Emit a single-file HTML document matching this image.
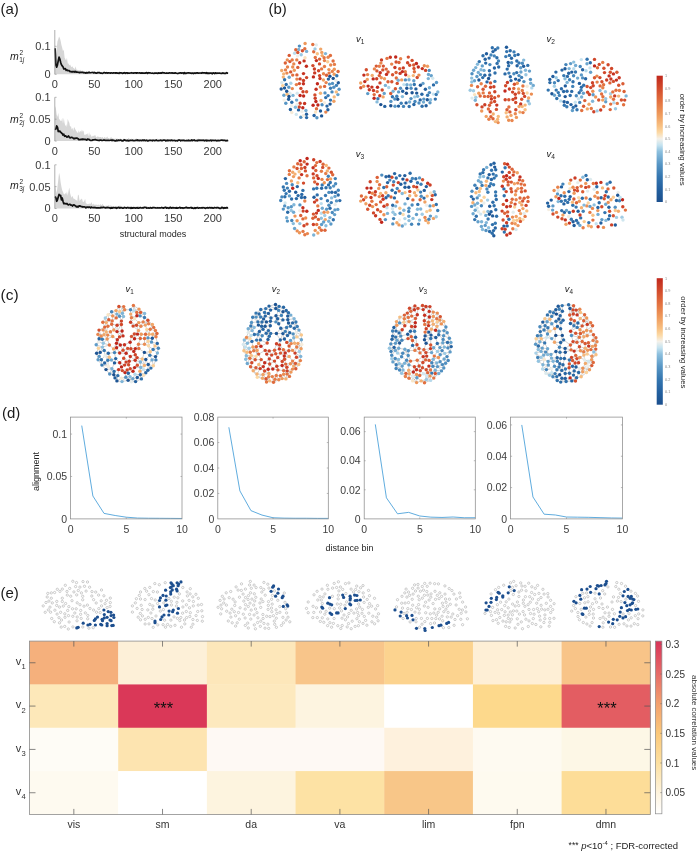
<!DOCTYPE html>
<html><head><meta charset="utf-8"><title>Figure</title>
<style>
html,body{margin:0;padding:0;background:#fff;}
body{width:700px;height:853px;overflow:hidden;}
svg{display:block;font-family:'Liberation Sans', Arial, Helvetica, sans-serif;}
</style></head>
<body>
<svg width="700" height="853" viewBox="0 0 700 853">
<rect width="700" height="853" fill="#fff"/>
<text x="0.5" y="14.0" font-size="15" text-anchor="start" fill="#1a1a1a" >(a)</text>
<text x="268.5" y="14.0" font-size="15" text-anchor="start" fill="#1a1a1a" >(b)</text>
<text x="0.5" y="300.0" font-size="15.5" text-anchor="start" fill="#1a1a1a" >(c)</text>
<text x="2.0" y="417.5" font-size="15" text-anchor="start" fill="#1a1a1a" >(d)</text>
<text x="0.5" y="597.5" font-size="15" text-anchor="start" fill="#1a1a1a" >(e)</text>
<polygon points="54.80,74.30 55.10,44.10 55.89,55.70 56.68,49.07 57.47,41.35 58.26,39.30 59.05,36.50 59.84,37.90 60.63,40.70 61.42,44.90 62.21,47.70 63.00,51.36 63.79,49.44 64.58,57.51 65.37,59.16 66.16,60.48 66.95,57.66 67.74,63.51 68.53,63.56 69.32,65.61 70.11,64.54 70.90,66.28 71.69,67.19 72.48,66.17 73.27,68.01 74.06,68.17 74.85,69.25 75.64,66.37 76.43,69.81 77.22,69.71 78.01,70.16 78.80,70.21 79.59,70.56 80.38,69.76 81.17,71.48 81.96,70.58 82.75,70.83 83.54,71.28 84.33,72.01 85.12,71.52 85.91,71.60 86.70,72.05 87.49,71.52 88.28,71.79 89.07,71.59 89.86,72.17 90.65,72.13 91.44,71.98 92.23,71.94 93.02,71.80 93.81,72.46 94.60,71.83 95.39,72.21 96.18,72.67 96.97,72.61 97.76,72.07 98.55,72.17 99.34,72.03 100.13,72.64 100.92,72.49 101.71,72.73 102.50,72.90 103.29,72.42 104.08,72.00 104.87,72.13 105.66,72.64 106.45,72.12 107.24,72.60 108.03,72.36 108.82,72.23 109.61,72.56 110.40,72.70 111.19,72.29 111.98,72.52 112.77,72.62 113.56,72.31 114.35,72.54 115.14,72.38 115.93,72.74 116.72,72.30 117.51,72.74 118.30,72.60 119.09,72.99 119.88,72.20 120.67,72.48 121.46,72.39 122.25,72.96 123.04,72.47 123.83,72.62 124.62,72.21 125.41,72.74 126.20,72.43 126.99,72.25 127.78,72.84 128.57,72.50 129.36,72.57 130.15,72.53 130.94,72.45 131.73,72.20 132.52,72.50 133.31,72.56 134.10,72.40 134.89,72.55 135.68,72.27 136.47,72.71 137.26,72.21 138.05,72.52 138.84,72.50 139.63,72.30 140.42,72.70 141.21,72.70 142.00,72.44 142.79,72.59 143.58,72.56 144.37,72.68 145.16,72.66 145.95,72.36 146.74,72.08 147.53,72.94 148.32,72.20 149.11,72.38 149.90,72.28 150.69,72.55 151.48,72.78 152.27,72.65 153.06,72.84 153.85,73.03 154.64,72.62 155.43,72.54 156.22,72.68 157.01,72.56 157.80,73.00 158.59,72.34 159.38,72.65 160.17,72.60 160.96,72.43 161.75,72.76 162.54,71.95 163.33,72.30 164.12,72.30 164.91,72.58 165.70,72.80 166.49,72.50 167.28,72.41 168.07,72.57 168.86,72.57 169.65,72.31 170.44,72.52 171.23,72.59 172.02,72.28 172.81,72.66 173.60,72.70 174.39,72.77 175.18,72.27 175.97,72.63 176.76,72.78 177.55,72.87 178.34,72.91 179.13,72.56 179.92,72.50 180.71,72.22 181.50,72.82 182.29,72.52 183.08,72.32 183.87,72.83 184.66,72.06 185.45,72.94 186.24,72.55 187.03,72.42 187.82,72.55 188.61,72.35 189.40,72.49 190.19,72.58 190.98,72.69 191.77,72.57 192.56,72.51 193.35,73.02 194.14,72.71 194.93,72.47 195.72,72.95 196.51,72.45 197.30,72.42 198.09,72.65 198.88,72.70 199.67,72.53 200.46,72.51 201.25,72.73 202.04,72.15 202.83,72.29 203.62,72.42 204.41,72.32 205.20,72.34 205.99,72.97 206.78,72.03 207.57,73.04 208.36,72.62 209.15,72.95 209.94,72.52 210.73,72.57 211.52,72.62 212.31,73.00 213.10,72.48 213.89,72.62 214.68,73.08 215.47,72.30 216.26,72.72 217.05,72.87 217.84,72.57 218.63,72.82 219.42,72.59 220.21,72.68 221.00,72.82 221.79,72.97 222.58,72.48 223.37,72.66 224.16,72.88 224.95,72.83 225.74,72.91 226.53,72.15 227.32,72.59 228.11,72.64 228.11,74.30" fill="#d6d6d6" stroke="none"/>
<polyline points="55.10,48.28 55.89,65.13 56.68,67.12 57.47,64.94 58.26,60.63 59.05,57.10 59.84,59.06 60.63,62.21 61.42,64.66 62.21,65.94 63.00,66.78 63.79,68.91 64.58,68.99 65.37,68.55 66.16,70.38 66.95,69.93 67.74,70.65 68.53,70.62 69.32,70.66 70.11,71.76 70.90,71.58 71.69,71.88 72.48,71.62 73.27,71.90 74.06,71.32 74.85,72.09 75.64,71.49 76.43,72.21 77.22,72.09 78.01,72.23 78.80,72.30 79.59,72.67 80.38,72.32 81.17,72.35 81.96,72.44 82.75,72.37 83.54,72.78 84.33,72.68 85.12,72.80 85.91,73.09 86.70,72.59 87.49,72.86 88.28,72.74 89.07,72.18 89.86,72.70 90.65,72.74 91.44,72.52 92.23,72.49 93.02,72.37 93.81,72.95 94.60,72.40 95.39,72.87 96.18,73.12 96.97,73.08 97.76,72.60 98.55,72.69 99.34,72.57 100.13,73.10 100.92,72.97 101.71,73.18 102.50,73.37 103.29,72.91 104.08,72.54 104.87,72.66 105.66,73.10 106.45,72.65 107.24,73.06 108.03,72.86 108.82,72.74 109.61,73.03 110.40,73.15 111.19,72.80 111.98,72.99 112.77,73.08 113.56,72.81 114.35,73.01 115.14,72.87 115.93,73.19 116.72,72.80 117.51,73.19 118.30,73.06 119.09,73.41 119.88,72.71 120.67,72.96 121.46,72.88 122.25,73.38 123.04,72.96 123.83,73.08 124.62,72.72 125.41,73.36 126.20,72.92 126.99,72.76 127.78,73.28 128.57,72.98 129.36,73.26 130.15,73.00 130.94,72.94 131.73,72.72 132.52,72.98 133.31,73.18 134.10,72.89 134.89,73.02 135.68,72.78 136.47,73.16 137.26,72.73 138.05,72.99 138.84,72.98 139.63,72.81 140.42,73.16 141.21,73.15 142.00,72.93 142.79,73.06 143.58,73.03 144.37,73.14 145.16,73.12 145.95,72.85 146.74,72.61 147.53,73.36 148.32,72.71 149.11,72.89 149.90,72.79 150.69,73.02 151.48,73.22 152.27,73.11 153.06,73.27 153.85,73.44 154.64,73.08 155.43,73.01 156.22,73.13 157.01,73.03 157.80,73.42 158.59,72.84 159.38,73.11 160.17,73.07 160.96,72.92 161.75,73.20 162.54,72.50 163.33,72.80 164.12,72.81 164.91,73.05 165.70,73.24 166.49,72.97 167.28,73.25 168.07,73.04 168.86,73.04 169.65,72.82 170.44,72.99 171.23,73.06 172.02,72.79 172.81,73.12 173.60,73.21 174.39,73.21 175.18,72.78 175.97,73.09 176.76,73.23 177.55,73.53 178.34,73.33 179.13,73.03 179.92,72.97 180.71,72.74 181.50,73.26 182.29,73.00 183.08,72.82 183.87,73.61 184.66,72.60 185.45,73.36 186.24,73.36 187.03,72.91 187.82,73.02 188.61,72.85 189.40,72.97 190.19,73.05 190.98,73.14 191.77,73.29 192.56,72.99 193.35,73.54 194.14,73.16 194.93,72.95 195.72,73.37 196.51,72.94 197.30,72.91 198.09,73.11 198.88,73.16 199.67,73.00 200.46,72.98 201.25,73.18 202.04,72.67 202.83,72.79 203.62,72.91 204.41,72.82 205.20,72.84 205.99,73.43 206.78,72.57 207.57,73.45 208.36,73.08 209.15,73.37 209.94,72.99 210.73,73.04 211.52,73.08 212.31,73.76 213.10,72.96 213.89,73.08 214.68,73.58 215.47,72.81 216.26,73.17 217.05,73.30 217.84,73.04 218.63,73.26 219.42,73.05 220.21,73.22 221.00,73.34 221.79,73.39 222.58,72.96 223.37,73.12 224.16,73.31 224.95,73.27 225.74,73.33 226.53,72.67 227.32,73.06 228.11,73.10" fill="none" stroke="#111" stroke-width="1.7" stroke-linejoin="round"/>
<line x1="54.80" y1="30.00" x2="54.80" y2="74.30" stroke="#8c8c8c" stroke-width="0.7" />
<line x1="54.80" y1="74.30" x2="56.60" y2="74.30" stroke="#8c8c8c" stroke-width="0.6" />
<text x="50.6" y="78.1" font-size="11" text-anchor="end" fill="#383838" >0</text>
<line x1="54.80" y1="46.30" x2="56.60" y2="46.30" stroke="#8c8c8c" stroke-width="0.6" />
<text x="50.6" y="50.1" font-size="11" text-anchor="end" fill="#383838" >0.1</text>
<text x="54.8" y="88.1" font-size="11" text-anchor="middle" fill="#383838" >0</text>
<text x="94.3" y="88.1" font-size="11" text-anchor="middle" fill="#383838" >50</text>
<text x="133.8" y="88.1" font-size="11" text-anchor="middle" fill="#383838" >100</text>
<text x="173.3" y="88.1" font-size="11" text-anchor="middle" fill="#383838" >150</text>
<text x="212.8" y="88.1" font-size="11" text-anchor="middle" fill="#383838" >200</text>
<text x="10" y="59.6" font-size="10.5" font-style="italic" fill="#262626">m</text>
<text x="19.5" y="55.1" font-size="6.5" fill="#262626">2</text>
<text x="19.2" y="62.1" font-size="6.5" fill="#262626">1<tspan font-style="italic">j</tspan></text>
<polygon points="54.80,141.10 55.10,106.06 55.89,108.25 56.68,114.82 57.47,117.01 58.26,112.63 59.05,119.20 59.84,119.51 60.63,121.02 61.42,121.08 62.21,117.71 63.00,123.86 63.79,117.84 64.58,122.99 65.37,126.17 66.16,124.33 66.95,127.30 67.74,118.79 68.53,121.34 69.32,122.70 70.11,126.89 70.90,125.72 71.69,129.53 72.48,127.85 73.27,131.12 74.06,127.01 74.85,128.19 75.64,130.05 76.43,131.21 77.22,132.15 78.01,133.15 78.80,130.21 79.59,132.86 80.38,130.79 81.17,132.08 81.96,129.56 82.75,131.69 83.54,130.58 84.33,134.87 85.12,135.09 85.91,134.20 86.70,134.30 87.49,133.37 88.28,136.17 89.07,132.11 89.86,135.94 90.65,133.96 91.44,136.65 92.23,136.44 93.02,135.51 93.81,136.30 94.60,135.16 95.39,135.30 96.18,137.41 96.97,136.76 97.76,136.58 98.55,136.66 99.34,137.22 100.13,137.06 100.92,136.89 101.71,137.65 102.50,136.71 103.29,138.20 104.08,137.62 104.87,137.00 105.66,138.07 106.45,137.51 107.24,136.42 108.03,138.00 108.82,138.08 109.61,138.68 110.40,137.86 111.19,137.05 111.98,138.27 112.77,138.16 113.56,138.76 114.35,138.65 115.14,138.94 115.93,138.30 116.72,139.09 117.51,138.47 118.30,139.08 119.09,139.02 119.88,138.71 120.67,138.45 121.46,139.17 122.25,139.15 123.04,138.97 123.83,138.59 124.62,138.81 125.41,139.17 126.20,138.63 126.99,139.16 127.78,139.11 128.57,137.86 129.36,138.75 130.15,139.28 130.94,139.04 131.73,138.56 132.52,139.48 133.31,138.81 134.10,138.93 134.89,139.45 135.68,138.64 136.47,138.48 137.26,139.02 138.05,138.95 138.84,139.31 139.63,139.58 140.42,139.46 141.21,138.79 142.00,139.36 142.79,139.42 143.58,139.61 144.37,139.39 145.16,139.55 145.95,139.07 146.74,139.25 147.53,139.56 148.32,139.16 149.11,139.54 149.90,139.39 150.69,139.28 151.48,139.26 152.27,139.34 153.06,139.26 153.85,139.51 154.64,139.24 155.43,139.35 156.22,139.30 157.01,139.45 157.80,138.38 158.59,139.61 159.38,139.49 160.17,139.26 160.96,139.21 161.75,139.57 162.54,138.84 163.33,138.98 164.12,139.04 164.91,139.42 165.70,139.62 166.49,139.50 167.28,139.16 168.07,139.59 168.86,138.96 169.65,139.60 170.44,139.68 171.23,139.47 172.02,138.98 172.81,139.29 173.60,139.62 174.39,139.15 175.18,139.64 175.97,139.37 176.76,139.65 177.55,139.30 178.34,139.61 179.13,139.08 179.92,139.55 180.71,139.68 181.50,139.18 182.29,139.22 183.08,139.70 183.87,139.22 184.66,139.40 185.45,139.41 186.24,139.09 187.03,139.37 187.82,139.32 188.61,139.62 189.40,139.56 190.19,139.77 190.98,139.03 191.77,139.25 192.56,139.66 193.35,139.63 194.14,139.36 194.93,139.50 195.72,139.26 196.51,139.65 197.30,139.52 198.09,138.55 198.88,139.11 199.67,139.46 200.46,139.31 201.25,139.36 202.04,139.47 202.83,139.11 203.62,139.59 204.41,139.44 205.20,139.16 205.99,139.41 206.78,138.74 207.57,139.65 208.36,139.58 209.15,139.76 209.94,138.96 210.73,139.52 211.52,138.86 212.31,139.66 213.10,139.57 213.89,139.65 214.68,139.63 215.47,139.52 216.26,139.17 217.05,139.63 217.84,139.44 218.63,139.78 219.42,139.41 220.21,139.53 221.00,139.69 221.79,139.37 222.58,139.47 223.37,139.17 224.16,139.49 224.95,139.32 225.74,139.29 226.53,139.78 227.32,138.96 228.11,139.51 228.11,141.10" fill="#d6d6d6" stroke="none"/>
<polyline points="55.10,129.70 55.89,128.82 56.68,125.89 57.47,127.10 58.26,131.51 59.05,131.54 59.84,131.03 60.63,132.16 61.42,132.98 62.21,133.50 63.00,135.03 63.79,134.22 64.58,136.28 65.37,135.80 66.16,136.19 66.95,137.21 67.74,136.59 68.53,135.95 69.32,137.22 70.11,137.87 70.90,137.55 71.69,137.32 72.48,137.81 73.27,138.07 74.06,138.82 74.85,138.18 75.64,138.34 76.43,138.14 77.22,138.22 78.01,138.64 78.80,139.60 79.59,139.61 80.38,139.58 81.17,139.18 81.96,139.63 82.75,139.00 83.54,139.43 84.33,139.45 85.12,139.39 85.91,139.58 86.70,140.17 87.49,139.04 88.28,139.39 89.07,139.42 89.86,140.13 90.65,140.49 91.44,140.42 92.23,140.32 93.02,139.79 93.81,139.82 94.60,139.69 95.39,139.52 96.18,140.00 96.97,140.07 97.76,140.28 98.55,140.29 99.34,140.54 100.13,140.09 100.92,140.16 101.71,140.37 102.50,140.49 103.29,140.16 104.08,139.95 104.87,140.28 105.66,140.24 106.45,140.47 107.24,140.40 108.03,140.42 108.82,140.42 109.61,140.51 110.40,140.26 111.19,140.02 111.98,140.62 112.77,140.01 113.56,140.49 114.35,140.48 115.14,140.95 115.93,140.97 116.72,140.20 117.51,140.68 118.30,140.19 119.09,140.39 119.88,140.34 120.67,140.06 121.46,140.43 122.25,140.97 123.04,140.87 123.83,140.17 124.62,139.90 125.41,140.45 126.20,140.61 126.99,140.78 127.78,140.28 128.57,140.89 129.36,140.75 130.15,140.39 130.94,140.40 131.73,140.50 132.52,140.16 133.31,140.75 134.10,140.74 134.89,140.54 135.68,140.42 136.47,140.52 137.26,139.92 138.05,140.59 138.84,140.27 139.63,140.59 140.42,140.35 141.21,140.55 142.00,140.54 142.79,140.02 143.58,140.53 144.37,140.00 145.16,140.63 145.95,140.56 146.74,140.15 147.53,140.97 148.32,140.87 149.11,140.44 149.90,140.32 150.69,140.29 151.48,140.53 152.27,140.81 153.06,140.23 153.85,140.33 154.64,140.74 155.43,140.42 156.22,139.97 157.01,140.41 157.80,140.75 158.59,140.55 159.38,140.54 160.17,140.35 160.96,140.21 161.75,140.69 162.54,140.61 163.33,140.18 164.12,140.25 164.91,140.09 165.70,140.83 166.49,140.69 167.28,140.18 168.07,140.69 168.86,140.36 169.65,140.46 170.44,140.64 171.23,140.06 172.02,140.45 172.81,140.58 173.60,140.49 174.39,140.38 175.18,140.86 175.97,140.67 176.76,140.78 177.55,140.97 178.34,140.19 179.13,140.07 179.92,140.13 180.71,140.91 181.50,140.34 182.29,140.27 183.08,140.59 183.87,140.23 184.66,140.74 185.45,140.73 186.24,140.66 187.03,140.63 187.82,140.71 188.61,140.19 189.40,140.72 190.19,140.57 190.98,140.61 191.77,139.87 192.56,140.68 193.35,140.32 194.14,139.97 194.93,140.75 195.72,140.66 196.51,140.53 197.30,140.79 198.09,140.12 198.88,140.57 199.67,140.17 200.46,140.31 201.25,140.44 202.04,140.19 202.83,140.52 203.62,140.17 204.41,140.78 205.20,140.64 205.99,140.13 206.78,140.97 207.57,140.32 208.36,140.55 209.15,140.59 209.94,140.62 210.73,140.11 211.52,140.84 212.31,140.23 213.10,140.32 213.89,140.55 214.68,140.47 215.47,140.26 216.26,140.60 217.05,140.83 217.84,140.37 218.63,140.66 219.42,140.55 220.21,140.43 221.00,140.25 221.79,139.98 222.58,140.35 223.37,140.41 224.16,140.23 224.95,140.37 225.74,140.88 226.53,140.60 227.32,140.76 228.11,140.26" fill="none" stroke="#111" stroke-width="1.7" stroke-linejoin="round"/>
<line x1="54.80" y1="97.30" x2="54.80" y2="141.10" stroke="#8c8c8c" stroke-width="0.7" />
<line x1="54.80" y1="141.10" x2="56.60" y2="141.10" stroke="#8c8c8c" stroke-width="0.6" />
<text x="50.6" y="144.9" font-size="11" text-anchor="end" fill="#383838" >0</text>
<line x1="54.80" y1="119.20" x2="56.60" y2="119.20" stroke="#8c8c8c" stroke-width="0.6" />
<text x="50.6" y="123.0" font-size="11" text-anchor="end" fill="#383838" >0.05</text>
<line x1="54.80" y1="97.30" x2="56.60" y2="97.30" stroke="#8c8c8c" stroke-width="0.6" />
<text x="50.6" y="101.1" font-size="11" text-anchor="end" fill="#383838" >0.1</text>
<text x="54.8" y="154.9" font-size="11" text-anchor="middle" fill="#383838" >0</text>
<text x="94.3" y="154.9" font-size="11" text-anchor="middle" fill="#383838" >50</text>
<text x="133.8" y="154.9" font-size="11" text-anchor="middle" fill="#383838" >100</text>
<text x="173.3" y="154.9" font-size="11" text-anchor="middle" fill="#383838" >150</text>
<text x="212.8" y="154.9" font-size="11" text-anchor="middle" fill="#383838" >200</text>
<text x="10" y="122.9" font-size="10.5" font-style="italic" fill="#262626">m</text>
<text x="19.5" y="118.4" font-size="6.5" fill="#262626">2</text>
<text x="19.2" y="125.4" font-size="6.5" fill="#262626">2<tspan font-style="italic">j</tspan></text>
<polygon points="54.80,208.50 55.10,184.47 55.89,188.84 56.68,193.20 57.47,186.65 58.26,180.09 59.05,172.67 59.84,175.72 60.63,182.28 61.42,186.65 62.21,190.15 63.00,191.89 63.79,194.08 64.58,194.42 65.37,192.64 66.16,194.58 66.95,191.45 67.74,195.67 68.53,191.02 69.32,187.52 70.11,193.20 70.90,195.96 71.69,197.79 72.48,195.77 73.27,197.94 74.06,199.28 74.85,198.69 75.64,200.02 76.43,200.04 77.22,201.57 78.01,194.52 78.80,195.39 79.59,201.11 80.38,199.73 81.17,199.24 81.96,198.59 82.75,201.78 83.54,201.93 84.33,201.00 85.12,198.87 85.91,203.62 86.70,203.39 87.49,204.13 88.28,203.86 89.07,204.34 89.86,203.27 90.65,204.09 91.44,202.12 92.23,204.37 93.02,204.85 93.81,203.50 94.60,204.97 95.39,204.70 96.18,204.29 96.97,205.23 97.76,204.68 98.55,204.53 99.34,205.53 100.13,204.17 100.92,204.57 101.71,205.24 102.50,203.66 103.29,204.98 104.08,205.96 104.87,205.93 105.66,205.87 106.45,205.82 107.24,205.69 108.03,205.79 108.82,204.65 109.61,206.10 110.40,205.61 111.19,205.79 111.98,205.98 112.77,206.07 113.56,206.50 114.35,206.26 115.14,205.95 115.93,206.55 116.72,205.64 117.51,206.60 118.30,205.97 119.09,205.77 119.88,205.87 120.67,205.72 121.46,206.70 122.25,206.40 123.04,206.58 123.83,206.80 124.62,206.20 125.41,206.80 126.20,206.39 126.99,206.85 127.78,205.90 128.57,206.82 129.36,205.93 130.15,206.91 130.94,206.54 131.73,206.60 132.52,206.89 133.31,205.53 134.10,206.73 134.89,206.31 135.68,206.68 136.47,206.72 137.26,206.68 138.05,206.20 138.84,205.96 139.63,206.78 140.42,206.86 141.21,206.78 142.00,207.03 142.79,206.98 143.58,205.93 144.37,206.08 145.16,206.91 145.95,206.74 146.74,206.40 147.53,206.55 148.32,206.92 149.11,206.61 149.90,206.72 150.69,206.98 151.48,207.08 152.27,206.63 153.06,206.86 153.85,206.51 154.64,206.61 155.43,206.70 156.22,207.11 157.01,206.23 157.80,206.81 158.59,206.82 159.38,206.64 160.17,206.96 160.96,207.06 161.75,206.80 162.54,206.99 163.33,206.77 164.12,206.92 164.91,206.71 165.70,206.31 166.49,206.28 167.28,206.21 168.07,206.98 168.86,206.42 169.65,206.50 170.44,206.24 171.23,206.57 172.02,206.94 172.81,207.02 173.60,206.51 174.39,206.95 175.18,206.41 175.97,207.09 176.76,206.35 177.55,206.78 178.34,207.01 179.13,207.07 179.92,206.81 180.71,206.38 181.50,206.95 182.29,206.91 183.08,207.13 183.87,207.08 184.66,207.09 185.45,207.07 186.24,206.54 187.03,206.61 187.82,206.66 188.61,206.79 189.40,207.11 190.19,206.81 190.98,206.84 191.77,206.18 192.56,206.76 193.35,206.90 194.14,206.25 194.93,206.79 195.72,207.01 196.51,206.90 197.30,206.93 198.09,206.06 198.88,206.93 199.67,207.00 200.46,206.98 201.25,206.82 202.04,206.31 202.83,206.96 203.62,206.48 204.41,206.74 205.20,206.63 205.99,206.77 206.78,206.98 207.57,206.80 208.36,206.48 209.15,207.13 209.94,206.64 210.73,207.09 211.52,206.98 212.31,206.72 213.10,207.15 213.89,206.97 214.68,206.52 215.47,207.15 216.26,206.57 217.05,206.86 217.84,206.76 218.63,206.86 219.42,207.08 220.21,207.11 221.00,206.84 221.79,206.66 222.58,206.72 223.37,206.89 224.16,206.95 224.95,206.98 225.74,206.95 226.53,206.67 227.32,207.04 228.11,207.10 228.11,208.50" fill="#d6d6d6" stroke="none"/>
<polyline points="55.10,196.49 55.89,197.94 56.68,201.29 57.47,199.86 58.26,196.91 59.05,194.40 59.84,195.44 60.63,195.44 61.42,199.89 62.21,197.99 63.00,201.24 63.79,203.70 64.58,203.31 65.37,203.78 66.16,203.92 66.95,203.45 67.74,204.49 68.53,204.91 69.32,204.32 70.11,204.23 70.90,205.26 71.69,205.10 72.48,206.02 73.27,205.13 74.06,204.75 74.85,205.59 75.64,205.98 76.43,206.87 77.22,206.31 78.01,207.07 78.80,206.11 79.59,205.84 80.38,206.08 81.17,206.60 81.96,206.56 82.75,207.03 83.54,206.79 84.33,206.85 85.12,206.99 85.91,207.90 86.70,207.01 87.49,207.00 88.28,207.43 89.07,207.10 89.86,207.03 90.65,207.97 91.44,207.08 92.23,207.54 93.02,207.76 93.81,207.41 94.60,207.71 95.39,207.65 96.18,207.83 96.97,207.75 97.76,207.92 98.55,207.76 99.34,207.92 100.13,208.01 100.92,207.34 101.71,207.64 102.50,207.55 103.29,207.19 104.08,207.50 104.87,207.69 105.66,208.01 106.45,207.50 107.24,207.59 108.03,207.45 108.82,207.77 109.61,207.85 110.40,208.32 111.19,207.61 111.98,208.19 112.77,207.91 113.56,207.65 114.35,207.77 115.14,207.82 115.93,207.68 116.72,208.28 117.51,207.79 118.30,207.47 119.09,207.50 119.88,208.22 120.67,207.56 121.46,207.70 122.25,208.09 123.04,208.19 123.83,207.87 124.62,207.46 125.41,207.70 126.20,208.09 126.99,207.81 127.78,207.56 128.57,207.86 129.36,207.97 130.15,207.72 130.94,208.37 131.73,207.73 132.52,208.21 133.31,207.87 134.10,207.75 134.89,207.89 135.68,208.05 136.47,207.95 137.26,207.63 138.05,208.21 138.84,208.09 139.63,207.77 140.42,207.64 141.21,207.86 142.00,208.00 142.79,207.67 143.58,207.96 144.37,207.31 145.16,207.50 145.95,207.35 146.74,208.11 147.53,207.98 148.32,207.93 149.11,208.19 149.90,208.00 150.69,207.60 151.48,208.12 152.27,207.93 153.06,207.46 153.85,207.77 154.64,207.72 155.43,207.85 156.22,208.02 157.01,207.95 157.80,207.78 158.59,208.01 159.38,207.84 160.17,207.97 160.96,207.88 161.75,207.44 162.54,207.69 163.33,208.20 164.12,207.91 164.91,207.36 165.70,207.37 166.49,208.16 167.28,207.74 168.07,207.85 168.86,208.37 169.65,207.77 170.44,207.32 171.23,208.04 172.02,207.93 172.81,207.60 173.60,207.97 174.39,207.97 175.18,207.78 175.97,208.24 176.76,207.72 177.55,208.20 178.34,207.84 179.13,207.64 179.92,207.41 180.71,208.06 181.50,207.79 182.29,207.79 183.08,208.33 183.87,207.88 184.66,207.79 185.45,207.71 186.24,207.33 187.03,207.82 187.82,207.87 188.61,207.87 189.40,207.86 190.19,207.72 190.98,207.43 191.77,208.13 192.56,207.84 193.35,208.37 194.14,208.30 194.93,207.81 195.72,208.37 196.51,207.77 197.30,207.51 198.09,208.08 198.88,208.05 199.67,207.85 200.46,207.99 201.25,207.87 202.04,208.04 202.83,207.63 203.62,207.78 204.41,207.88 205.20,208.37 205.99,208.04 206.78,207.85 207.57,207.67 208.36,208.03 209.15,207.70 209.94,207.63 210.73,208.02 211.52,207.67 212.31,207.91 213.10,208.15 213.89,207.87 214.68,207.51 215.47,207.75 216.26,207.85 217.05,207.64 217.84,207.67 218.63,207.80 219.42,208.34 220.21,208.37 221.00,208.29 221.79,207.43 222.58,207.68 223.37,208.27 224.16,207.66 224.95,208.24 225.74,207.82 226.53,207.63 227.32,207.90 228.11,207.66" fill="none" stroke="#111" stroke-width="1.7" stroke-linejoin="round"/>
<line x1="54.80" y1="164.80" x2="54.80" y2="208.50" stroke="#8c8c8c" stroke-width="0.7" />
<line x1="54.80" y1="208.50" x2="56.60" y2="208.50" stroke="#8c8c8c" stroke-width="0.6" />
<text x="50.6" y="212.3" font-size="11" text-anchor="end" fill="#383838" >0</text>
<line x1="54.80" y1="186.65" x2="56.60" y2="186.65" stroke="#8c8c8c" stroke-width="0.6" />
<text x="50.6" y="190.5" font-size="11" text-anchor="end" fill="#383838" >0.05</text>
<line x1="54.80" y1="164.80" x2="56.60" y2="164.80" stroke="#8c8c8c" stroke-width="0.6" />
<text x="50.6" y="168.6" font-size="11" text-anchor="end" fill="#383838" >0.1</text>
<text x="54.8" y="222.3" font-size="11" text-anchor="middle" fill="#383838" >0</text>
<text x="94.3" y="222.3" font-size="11" text-anchor="middle" fill="#383838" >50</text>
<text x="133.8" y="222.3" font-size="11" text-anchor="middle" fill="#383838" >100</text>
<text x="173.3" y="222.3" font-size="11" text-anchor="middle" fill="#383838" >150</text>
<text x="212.8" y="222.3" font-size="11" text-anchor="middle" fill="#383838" >200</text>
<text x="10" y="188.8" font-size="10.5" font-style="italic" fill="#262626">m</text>
<text x="19.5" y="184.3" font-size="6.5" fill="#262626">2</text>
<text x="19.2" y="191.3" font-size="6.5" fill="#262626">3<tspan font-style="italic">j</tspan></text>
<text x="153.0" y="237.3" font-size="9" text-anchor="middle" fill="#262626" >structural modes</text>
<g><circle cx="300.8" cy="117.3" r="1.7" fill="#4e8ec0"/><circle cx="334.3" cy="69.2" r="1.7" fill="#ee9759"/><circle cx="327.0" cy="106.1" r="1.7" fill="#2967a5"/><circle cx="328.4" cy="79.1" r="1.7" fill="#2664a2"/><circle cx="317.9" cy="105.0" r="1.7" fill="#c0271c"/><circle cx="338.1" cy="71.5" r="1.7" fill="#de683b"/><circle cx="303.5" cy="80.5" r="1.7" fill="#cb3c25"/><circle cx="337.9" cy="94.6" r="1.7" fill="#66a1cc"/><circle cx="312.9" cy="65.6" r="1.7" fill="#d0482a"/><circle cx="333.1" cy="61.0" r="1.7" fill="#e16e3e"/><circle cx="305.1" cy="43.5" r="1.7" fill="#ee975a"/><circle cx="299.4" cy="46.1" r="1.7" fill="#4e8ec0"/><circle cx="296.6" cy="100.1" r="1.7" fill="#6da7cf"/><circle cx="317.4" cy="83.7" r="1.7" fill="#c0271c"/><circle cx="319.6" cy="59.1" r="1.7" fill="#da5d35"/><circle cx="316.1" cy="89.3" r="1.7" fill="#c42e1f"/><circle cx="301.2" cy="54.7" r="1.7" fill="#9ac8e2"/><circle cx="322.1" cy="104.8" r="1.7" fill="#4b8bbe"/><circle cx="320.5" cy="93.2" r="1.7" fill="#f4b274"/><circle cx="306.4" cy="66.3" r="1.7" fill="#c22b1e"/><circle cx="299.7" cy="62.7" r="1.7" fill="#c42f1f"/><circle cx="328.1" cy="57.3" r="1.7" fill="#e8854d"/><circle cx="303.6" cy="96.0" r="1.7" fill="#c0271c"/><circle cx="319.5" cy="63.9" r="1.7" fill="#d24b2c"/><circle cx="289.9" cy="93.3" r="1.7" fill="#dfebed"/><circle cx="283.7" cy="73.9" r="1.7" fill="#f4b375"/><circle cx="322.2" cy="55.6" r="1.7" fill="#f3ab6d"/><circle cx="321.8" cy="52.4" r="1.7" fill="#f09e60"/><circle cx="317.3" cy="53.7" r="1.7" fill="#f8c082"/><circle cx="297.2" cy="93.2" r="1.7" fill="#d6e8ee"/><circle cx="281.2" cy="89.0" r="1.7" fill="#205a99"/><circle cx="291.7" cy="105.8" r="1.7" fill="#f4f0e7"/><circle cx="336.4" cy="85.4" r="1.7" fill="#4182b8"/><circle cx="285.3" cy="63.0" r="1.7" fill="#dc6137"/><circle cx="302.0" cy="111.6" r="1.7" fill="#f2f0ea"/><circle cx="321.0" cy="100.5" r="1.7" fill="#f2a96b"/><circle cx="324.5" cy="60.6" r="1.7" fill="#e7804a"/><circle cx="296.8" cy="59.9" r="1.7" fill="#e7814b"/><circle cx="313.1" cy="105.3" r="1.7" fill="#c0271c"/><circle cx="286.9" cy="73.1" r="1.7" fill="#e98950"/><circle cx="294.6" cy="53.3" r="1.7" fill="#bcdded"/><circle cx="316.5" cy="108.8" r="1.7" fill="#e16e3e"/><circle cx="298.7" cy="49.5" r="1.7" fill="#7cb2d6"/><circle cx="304.8" cy="48.7" r="1.7" fill="#e16f3e"/><circle cx="306.5" cy="114.2" r="1.7" fill="#235f9e"/><circle cx="316.3" cy="44.9" r="1.7" fill="#e1ebec"/><circle cx="290.7" cy="71.9" r="1.7" fill="#d75732"/><circle cx="328.1" cy="95.6" r="1.7" fill="#3c7db5"/><circle cx="315.9" cy="101.5" r="1.7" fill="#c0271c"/><circle cx="286.2" cy="84.5" r="1.7" fill="#2e6faa"/><circle cx="281.7" cy="70.5" r="1.7" fill="#f2a86a"/><circle cx="314.9" cy="94.9" r="1.7" fill="#d34d2d"/><circle cx="323.5" cy="73.8" r="1.7" fill="#e8844d"/><circle cx="285.5" cy="69.9" r="1.7" fill="#e8834c"/><circle cx="296.9" cy="79.1" r="1.7" fill="#e8854d"/><circle cx="315.6" cy="112.0" r="1.7" fill="#f9e3c1"/><circle cx="303.3" cy="115.6" r="1.7" fill="#f5edde"/><circle cx="289.2" cy="77.3" r="1.7" fill="#6aa5ce"/><circle cx="339.1" cy="89.2" r="1.7" fill="#5594c4"/><circle cx="292.3" cy="88.6" r="1.7" fill="#e9874f"/><circle cx="329.9" cy="76.3" r="1.7" fill="#1b4f8e"/><circle cx="283.9" cy="95.2" r="1.7" fill="#69a4cd"/><circle cx="287.3" cy="59.9" r="1.7" fill="#ec9055"/><circle cx="327.7" cy="61.7" r="1.7" fill="#facc93"/><circle cx="316.4" cy="60.6" r="1.7" fill="#c32d1f"/><circle cx="287.1" cy="94.2" r="1.7" fill="#f7bf81"/><circle cx="293.0" cy="95.4" r="1.7" fill="#7db4d7"/><circle cx="332.5" cy="83.4" r="1.7" fill="#5191c1"/><circle cx="305.9" cy="110.5" r="1.7" fill="#73acd2"/><circle cx="289.9" cy="61.6" r="1.7" fill="#d95b34"/><circle cx="330.7" cy="65.0" r="1.7" fill="#e9884f"/><circle cx="333.2" cy="78.4" r="1.7" fill="#1c5190"/><circle cx="304.1" cy="60.9" r="1.7" fill="#c53121"/><circle cx="291.8" cy="112.5" r="1.7" fill="#f6ebd8"/><circle cx="283.3" cy="77.1" r="1.7" fill="#f4b274"/><circle cx="300.1" cy="95.5" r="1.7" fill="#c0271c"/><circle cx="320.5" cy="111.0" r="1.7" fill="#215b9a"/><circle cx="313.7" cy="51.7" r="1.7" fill="#e06c3d"/><circle cx="326.5" cy="75.2" r="1.7" fill="#da5e36"/><circle cx="306.6" cy="91.8" r="1.7" fill="#d75632"/><circle cx="338.3" cy="82.8" r="1.7" fill="#215c9b"/><circle cx="288.8" cy="87.2" r="1.7" fill="#5998c6"/><circle cx="290.8" cy="83.3" r="1.7" fill="#abd2e7"/><circle cx="303.4" cy="83.8" r="1.7" fill="#c42f20"/><circle cx="300.1" cy="103.3" r="1.7" fill="#cd4127"/><circle cx="284.5" cy="88.0" r="1.7" fill="#205b9a"/><circle cx="314.4" cy="69.0" r="1.7" fill="#cb3c25"/><circle cx="281.8" cy="82.5" r="1.7" fill="#dbeaed"/><circle cx="303.5" cy="73.6" r="1.7" fill="#c73422"/><circle cx="288.6" cy="99.3" r="1.7" fill="#235f9e"/><circle cx="298.5" cy="109.9" r="1.7" fill="#2664a2"/><circle cx="306.6" cy="117.6" r="1.7" fill="#2968a5"/><circle cx="330.5" cy="88.2" r="1.7" fill="#3a7cb4"/><circle cx="330.4" cy="55.5" r="1.7" fill="#e16e3e"/><circle cx="336.0" cy="80.5" r="1.7" fill="#ebeeeb"/><circle cx="318.6" cy="70.8" r="1.7" fill="#cf4429"/><circle cx="324.6" cy="86.4" r="1.7" fill="#de673a"/><circle cx="329.1" cy="73.1" r="1.7" fill="#e47643"/><circle cx="334.4" cy="64.4" r="1.7" fill="#e57c47"/><circle cx="287.5" cy="67.0" r="1.7" fill="#e7804a"/><circle cx="300.1" cy="78.9" r="1.7" fill="#ca3c25"/><circle cx="323.4" cy="80.0" r="1.7" fill="#ef9e60"/><circle cx="296.4" cy="84.6" r="1.7" fill="#e67e49"/><circle cx="334.2" cy="74.2" r="1.7" fill="#ee9a5c"/><circle cx="320.7" cy="49.1" r="1.7" fill="#f1a668"/><circle cx="313.4" cy="76.9" r="1.7" fill="#c0271c"/><circle cx="314.7" cy="72.9" r="1.7" fill="#c93824"/><circle cx="305.0" cy="57.8" r="1.7" fill="#fae0bb"/><circle cx="306.6" cy="51.4" r="1.7" fill="#78afd4"/><circle cx="330.1" cy="104.1" r="1.7" fill="#1e5695"/><circle cx="289.0" cy="96.5" r="1.7" fill="#1b4f8e"/><circle cx="314.1" cy="115.5" r="1.7" fill="#2562a1"/><circle cx="324.1" cy="57.8" r="1.7" fill="#e37442"/><circle cx="297.1" cy="104.5" r="1.7" fill="#eeefeb"/><circle cx="333.9" cy="101.2" r="1.7" fill="#f09f61"/><circle cx="295.4" cy="107.2" r="1.7" fill="#84b9da"/><circle cx="302.8" cy="107.8" r="1.7" fill="#c0271c"/><circle cx="296.9" cy="74.9" r="1.7" fill="#dc6238"/><circle cx="304.6" cy="103.5" r="1.7" fill="#c63321"/><circle cx="336.8" cy="75.8" r="1.7" fill="#3476b0"/><circle cx="326.1" cy="82.6" r="1.7" fill="#e8844d"/><circle cx="303.0" cy="91.8" r="1.7" fill="#ce4228"/><circle cx="332.3" cy="71.4" r="1.7" fill="#e7814b"/><circle cx="315.3" cy="57.5" r="1.7" fill="#e37240"/><circle cx="328.9" cy="69.6" r="1.7" fill="#ec9054"/><circle cx="285.8" cy="103.2" r="1.7" fill="#5695c4"/><circle cx="324.4" cy="102.8" r="1.7" fill="#f5eddf"/><circle cx="299.3" cy="107.0" r="1.7" fill="#ce4429"/><circle cx="293.8" cy="63.9" r="1.7" fill="#e9874f"/><circle cx="292.7" cy="67.0" r="1.7" fill="#eb8e54"/><circle cx="333.8" cy="87.3" r="1.7" fill="#508fc1"/><circle cx="302.4" cy="50.7" r="1.7" fill="#d4502f"/><circle cx="286.7" cy="91.3" r="1.7" fill="#1e5594"/><circle cx="284.6" cy="79.7" r="1.7" fill="#3173ad"/><circle cx="320.0" cy="78.5" r="1.7" fill="#c73622"/><circle cx="291.8" cy="102.2" r="1.7" fill="#2f6fab"/><circle cx="294.3" cy="70.3" r="1.7" fill="#ee995b"/><circle cx="315.0" cy="48.9" r="1.7" fill="#9ecae3"/><circle cx="315.2" cy="98.2" r="1.7" fill="#cc3e26"/><circle cx="325.0" cy="92.9" r="1.7" fill="#5191c2"/><circle cx="312.8" cy="44.5" r="1.7" fill="#e2703f"/><circle cx="329.5" cy="84.1" r="1.7" fill="#5a98c6"/><circle cx="296.3" cy="114.4" r="1.7" fill="#cfe6ef"/><circle cx="292.2" cy="59.9" r="1.7" fill="#e57a46"/><circle cx="332.0" cy="91.9" r="1.7" fill="#4888bc"/><circle cx="321.6" cy="115.9" r="1.7" fill="#1e5695"/><circle cx="297.8" cy="67.4" r="1.7" fill="#da5e36"/><circle cx="321.6" cy="68.9" r="1.7" fill="#e47744"/><circle cx="289.2" cy="55.4" r="1.7" fill="#d85933"/><circle cx="316.9" cy="117.8" r="1.7" fill="#5695c4"/><circle cx="282.7" cy="85.6" r="1.7" fill="#fbd099"/><circle cx="324.5" cy="66.5" r="1.7" fill="#e67c47"/><circle cx="299.4" cy="83.6" r="1.7" fill="#d4502f"/><circle cx="297.8" cy="52.5" r="1.7" fill="#d75632"/><circle cx="325.5" cy="53.6" r="1.7" fill="#80b6d8"/><circle cx="297.6" cy="55.9" r="1.7" fill="#f0f0eb"/><circle cx="300.9" cy="88.4" r="1.7" fill="#d1482b"/><circle cx="320.4" cy="87.0" r="1.7" fill="#e98950"/><circle cx="325.7" cy="97.6" r="1.7" fill="#2f6fab"/><circle cx="295.8" cy="49.7" r="1.7" fill="#dd6539"/><circle cx="284.1" cy="100.1" r="1.7" fill="#f4f1e9"/><circle cx="336.3" cy="91.9" r="1.7" fill="#f7bc7e"/><circle cx="292.7" cy="75.1" r="1.7" fill="#e2703f"/><circle cx="306.6" cy="77.6" r="1.7" fill="#cd4127"/><circle cx="330.5" cy="100.1" r="1.7" fill="#3375af"/><circle cx="325.8" cy="112.1" r="1.7" fill="#e8854d"/><circle cx="334.2" cy="96.9" r="1.7" fill="#f6b97b"/><circle cx="327.9" cy="109.8" r="1.7" fill="#2461a0"/><circle cx="290.4" cy="109.5" r="1.7" fill="#225e9d"/><circle cx="319.6" cy="75.6" r="1.7" fill="#cf4529"/></g>
<g><circle cx="431.3" cy="75.7" r="1.7" fill="#65a1cc"/><circle cx="373.5" cy="90.5" r="1.7" fill="#ca3b25"/><circle cx="381.3" cy="77.8" r="1.7" fill="#ed9457"/><circle cx="373.2" cy="78.9" r="1.7" fill="#c0271c"/><circle cx="411.1" cy="88.2" r="1.7" fill="#4b8bbe"/><circle cx="425.6" cy="70.4" r="1.7" fill="#ce4329"/><circle cx="360.8" cy="87.8" r="1.7" fill="#d5522f"/><circle cx="410.6" cy="85.0" r="1.7" fill="#84b9da"/><circle cx="426.1" cy="105.8" r="1.7" fill="#225d9c"/><circle cx="380.2" cy="72.7" r="1.7" fill="#c32e1f"/><circle cx="435.3" cy="99.1" r="1.7" fill="#3071ac"/><circle cx="416.7" cy="93.1" r="1.7" fill="#1f5897"/><circle cx="399.0" cy="62.5" r="1.7" fill="#dc6338"/><circle cx="377.5" cy="87.2" r="1.7" fill="#c0271c"/><circle cx="380.8" cy="104.6" r="1.7" fill="#1b508f"/><circle cx="403.5" cy="106.4" r="1.7" fill="#4081b7"/><circle cx="396.8" cy="96.2" r="1.7" fill="#3f80b7"/><circle cx="423.0" cy="83.4" r="1.7" fill="#639fca"/><circle cx="398.6" cy="91.9" r="1.7" fill="#5e9bc8"/><circle cx="423.8" cy="99.1" r="1.7" fill="#5695c4"/><circle cx="392.6" cy="74.7" r="1.7" fill="#d65330"/><circle cx="376.9" cy="70.9" r="1.7" fill="#d85833"/><circle cx="396.3" cy="78.0" r="1.7" fill="#e06c3d"/><circle cx="401.7" cy="79.9" r="1.7" fill="#f09f61"/><circle cx="425.4" cy="89.3" r="1.7" fill="#23609f"/><circle cx="381.5" cy="60.0" r="1.7" fill="#cb3d26"/><circle cx="417.2" cy="77.5" r="1.7" fill="#d34d2d"/><circle cx="376.3" cy="66.1" r="1.7" fill="#d85933"/><circle cx="391.7" cy="64.1" r="1.7" fill="#e8834c"/><circle cx="420.2" cy="99.9" r="1.7" fill="#2866a4"/><circle cx="430.0" cy="102.7" r="1.7" fill="#5997c6"/><circle cx="374.1" cy="98.3" r="1.7" fill="#c0271c"/><circle cx="379.8" cy="95.8" r="1.7" fill="#ca3a25"/><circle cx="379.3" cy="75.6" r="1.7" fill="#da5e36"/><circle cx="411.0" cy="98.6" r="1.7" fill="#4f8fc0"/><circle cx="409.0" cy="79.8" r="1.7" fill="#77afd4"/><circle cx="400.5" cy="88.3" r="1.7" fill="#5190c1"/><circle cx="422.3" cy="68.6" r="1.7" fill="#c53020"/><circle cx="414.7" cy="96.9" r="1.7" fill="#9ccae3"/><circle cx="429.4" cy="87.7" r="1.7" fill="#73acd2"/><circle cx="390.3" cy="57.2" r="1.7" fill="#c93824"/><circle cx="405.7" cy="74.7" r="1.7" fill="#c0271c"/><circle cx="420.4" cy="85.3" r="1.7" fill="#1e5695"/><circle cx="388.1" cy="72.0" r="1.7" fill="#d75732"/><circle cx="398.5" cy="106.1" r="1.7" fill="#225f9e"/><circle cx="386.2" cy="69.1" r="1.7" fill="#dc6338"/><circle cx="408.3" cy="57.1" r="1.7" fill="#d55230"/><circle cx="413.7" cy="65.0" r="1.7" fill="#d95b34"/><circle cx="409.7" cy="65.2" r="1.7" fill="#d34e2d"/><circle cx="432.7" cy="78.3" r="1.7" fill="#d4e8ee"/><circle cx="392.4" cy="96.7" r="1.7" fill="#3070ac"/><circle cx="427.6" cy="95.2" r="1.7" fill="#3476b0"/><circle cx="391.8" cy="81.7" r="1.7" fill="#d65330"/><circle cx="407.6" cy="62.7" r="1.7" fill="#cf4529"/><circle cx="400.1" cy="73.4" r="1.7" fill="#c93924"/><circle cx="396.1" cy="62.0" r="1.7" fill="#d4502f"/><circle cx="390.8" cy="105.7" r="1.7" fill="#1b4f8e"/><circle cx="413.3" cy="75.6" r="1.7" fill="#f5b678"/><circle cx="412.1" cy="92.7" r="1.7" fill="#1d5392"/><circle cx="383.3" cy="66.1" r="1.7" fill="#d65431"/><circle cx="363.7" cy="86.2" r="1.7" fill="#eb8f54"/><circle cx="390.7" cy="93.5" r="1.7" fill="#d85933"/><circle cx="433.3" cy="94.1" r="1.7" fill="#c7e3f0"/><circle cx="382.2" cy="90.0" r="1.7" fill="#d24a2c"/><circle cx="418.3" cy="67.0" r="1.7" fill="#c22c1e"/><circle cx="409.6" cy="102.0" r="1.7" fill="#76aed3"/><circle cx="430.6" cy="99.8" r="1.7" fill="#8abedd"/><circle cx="384.5" cy="78.7" r="1.7" fill="#f09f61"/><circle cx="388.7" cy="87.5" r="1.7" fill="#acd3e8"/><circle cx="383.1" cy="96.9" r="1.7" fill="#f1a567"/><circle cx="414.3" cy="84.5" r="1.7" fill="#3274ae"/><circle cx="401.2" cy="103.2" r="1.7" fill="#3d7fb6"/><circle cx="380.0" cy="82.9" r="1.7" fill="#cf462a"/><circle cx="372.2" cy="75.4" r="1.7" fill="#f2aa6c"/><circle cx="369.3" cy="89.8" r="1.7" fill="#c93924"/><circle cx="418.9" cy="75.1" r="1.7" fill="#ea8b51"/><circle cx="367.7" cy="93.6" r="1.7" fill="#5c9ac7"/><circle cx="360.7" cy="83.0" r="1.7" fill="#f1a668"/><circle cx="405.3" cy="71.7" r="1.7" fill="#e57b46"/><circle cx="388.0" cy="81.7" r="1.7" fill="#dc6137"/><circle cx="399.7" cy="68.7" r="1.7" fill="#d95b34"/><circle cx="408.7" cy="76.2" r="1.7" fill="#fbdcae"/><circle cx="428.3" cy="78.6" r="1.7" fill="#7db3d6"/><circle cx="377.2" cy="91.6" r="1.7" fill="#e16d3e"/><circle cx="429.4" cy="92.6" r="1.7" fill="#4989bd"/><circle cx="422.1" cy="106.3" r="1.7" fill="#2f70ab"/><circle cx="393.1" cy="91.2" r="1.7" fill="#78afd4"/><circle cx="416.4" cy="63.5" r="1.7" fill="#c0271c"/><circle cx="402.4" cy="71.6" r="1.7" fill="#c1291d"/><circle cx="396.1" cy="72.5" r="1.7" fill="#dc6338"/><circle cx="376.7" cy="78.7" r="1.7" fill="#cd4127"/><circle cx="387.0" cy="58.4" r="1.7" fill="#e37241"/><circle cx="415.0" cy="101.5" r="1.7" fill="#4788bc"/><circle cx="397.7" cy="99.2" r="1.7" fill="#1b4f8e"/><circle cx="428.5" cy="74.5" r="1.7" fill="#6fa9d0"/><circle cx="436.5" cy="82.5" r="1.7" fill="#5997c6"/><circle cx="367.3" cy="79.4" r="1.7" fill="#f09f61"/><circle cx="363.9" cy="75.1" r="1.7" fill="#c22c1e"/><circle cx="414.4" cy="71.8" r="1.7" fill="#e27140"/><circle cx="406.1" cy="102.9" r="1.7" fill="#2563a1"/><circle cx="402.7" cy="91.3" r="1.7" fill="#225e9d"/><circle cx="385.4" cy="85.4" r="1.7" fill="#7ab1d5"/><circle cx="412.1" cy="60.4" r="1.7" fill="#d24c2c"/><circle cx="367.6" cy="74.6" r="1.7" fill="#e8834c"/><circle cx="424.3" cy="65.8" r="1.7" fill="#e9884f"/><circle cx="374.4" cy="68.9" r="1.7" fill="#e8844d"/><circle cx="400.6" cy="58.8" r="1.7" fill="#e7814a"/><circle cx="427.3" cy="99.8" r="1.7" fill="#1f5897"/><circle cx="402.4" cy="96.6" r="1.7" fill="#86bbdb"/><circle cx="379.3" cy="66.2" r="1.7" fill="#e67e49"/><circle cx="417.6" cy="96.2" r="1.7" fill="#77afd4"/><circle cx="397.2" cy="83.4" r="1.7" fill="#d34d2d"/><circle cx="436.2" cy="94.5" r="1.7" fill="#3779b2"/><circle cx="395.4" cy="88.7" r="1.7" fill="#d75631"/><circle cx="377.9" cy="98.7" r="1.7" fill="#3b7cb4"/><circle cx="406.8" cy="88.2" r="1.7" fill="#1e5594"/><circle cx="384.2" cy="93.4" r="1.7" fill="#65a1cb"/><circle cx="403.3" cy="67.9" r="1.7" fill="#cb3d26"/><circle cx="403.9" cy="84.6" r="1.7" fill="#c2e1ef"/><circle cx="368.1" cy="86.1" r="1.7" fill="#c0281c"/><circle cx="409.2" cy="106.5" r="1.7" fill="#3172ad"/><circle cx="423.5" cy="102.1" r="1.7" fill="#72abd1"/><circle cx="390.9" cy="101.4" r="1.7" fill="#5594c4"/><circle cx="364.8" cy="81.6" r="1.7" fill="#c12a1d"/><circle cx="380.9" cy="63.1" r="1.7" fill="#e9874f"/><circle cx="437.8" cy="92.0" r="1.7" fill="#80b6d8"/><circle cx="395.0" cy="106.2" r="1.7" fill="#5796c5"/><circle cx="394.9" cy="67.5" r="1.7" fill="#ca3b25"/><circle cx="419.0" cy="103.0" r="1.7" fill="#5291c2"/><circle cx="371.9" cy="87.1" r="1.7" fill="#c63221"/><circle cx="433.5" cy="84.9" r="1.7" fill="#2b6ba7"/><circle cx="427.5" cy="66.2" r="1.7" fill="#ef9e60"/><circle cx="406.4" cy="93.3" r="1.7" fill="#1b4f8e"/><circle cx="407.0" cy="84.7" r="1.7" fill="#71aad1"/><circle cx="366.3" cy="69.8" r="1.7" fill="#d34d2d"/><circle cx="398.2" cy="80.2" r="1.7" fill="#78afd4"/><circle cx="394.8" cy="99.0" r="1.7" fill="#4d8dbf"/><circle cx="386.5" cy="74.4" r="1.7" fill="#c32e1f"/><circle cx="374.2" cy="94.6" r="1.7" fill="#e06b3d"/><circle cx="405.4" cy="79.9" r="1.7" fill="#5191c2"/><circle cx="395.7" cy="57.0" r="1.7" fill="#c0271c"/><circle cx="382.8" cy="69.9" r="1.7" fill="#d65531"/><circle cx="413.9" cy="104.5" r="1.7" fill="#2766a3"/><circle cx="413.8" cy="80.7" r="1.7" fill="#639fca"/><circle cx="414.0" cy="68.5" r="1.7" fill="#d5512f"/><circle cx="415.9" cy="88.9" r="1.7" fill="#235f9e"/><circle cx="429.2" cy="70.4" r="1.7" fill="#4e8dbf"/><circle cx="377.0" cy="101.9" r="1.7" fill="#88bcdc"/><circle cx="384.8" cy="106.4" r="1.7" fill="#2461a0"/><circle cx="421.9" cy="94.2" r="1.7" fill="#2867a4"/></g>
<g><circle cx="489.4" cy="70.8" r="1.7" fill="#2c6ba8"/><circle cx="516.7" cy="72.6" r="1.7" fill="#2d6da9"/><circle cx="514.8" cy="55.5" r="1.7" fill="#3779b2"/><circle cx="490.9" cy="116.7" r="1.7" fill="#dd6439"/><circle cx="497.8" cy="48.0" r="1.7" fill="#3d7eb5"/><circle cx="498.3" cy="116.4" r="1.7" fill="#f6ba7c"/><circle cx="482.0" cy="106.9" r="1.7" fill="#cf4429"/><circle cx="482.3" cy="65.9" r="1.7" fill="#609dc9"/><circle cx="516.8" cy="61.0" r="1.7" fill="#2f6fab"/><circle cx="523.6" cy="66.2" r="1.7" fill="#225d9c"/><circle cx="525.1" cy="105.1" r="1.7" fill="#f5b476"/><circle cx="473.5" cy="90.8" r="1.7" fill="#a1cde5"/><circle cx="481.2" cy="83.7" r="1.7" fill="#e7814a"/><circle cx="531.4" cy="94.1" r="1.7" fill="#eb8e53"/><circle cx="516.4" cy="117.4" r="1.7" fill="#ee995b"/><circle cx="515.7" cy="102.5" r="1.7" fill="#d0462a"/><circle cx="491.3" cy="96.2" r="1.7" fill="#da5e36"/><circle cx="519.0" cy="63.0" r="1.7" fill="#3577b1"/><circle cx="510.3" cy="76.7" r="1.7" fill="#2968a5"/><circle cx="484.8" cy="75.3" r="1.7" fill="#2866a4"/><circle cx="512.6" cy="92.1" r="1.7" fill="#ce4328"/><circle cx="519.9" cy="112.1" r="1.7" fill="#f2aa6c"/><circle cx="498.5" cy="96.1" r="1.7" fill="#dd6539"/><circle cx="511.6" cy="62.7" r="1.7" fill="#4787bb"/><circle cx="529.5" cy="71.1" r="1.7" fill="#66a1cc"/><circle cx="475.8" cy="97.3" r="1.7" fill="#a3cee5"/><circle cx="509.4" cy="55.4" r="1.7" fill="#3172ad"/><circle cx="479.3" cy="61.6" r="1.7" fill="#3071ac"/><circle cx="515.8" cy="109.7" r="1.7" fill="#d0472a"/><circle cx="480.5" cy="74.6" r="1.7" fill="#5392c3"/><circle cx="508.9" cy="107.0" r="1.7" fill="#e27140"/><circle cx="507.0" cy="109.7" r="1.7" fill="#d95c35"/><circle cx="471.5" cy="85.4" r="1.7" fill="#ea8950"/><circle cx="515.6" cy="79.1" r="1.7" fill="#215c9b"/><circle cx="508.9" cy="73.1" r="1.7" fill="#3d7eb5"/><circle cx="505.0" cy="73.9" r="1.7" fill="#2968a5"/><circle cx="527.1" cy="93.0" r="1.7" fill="#fbd59f"/><circle cx="477.6" cy="86.8" r="1.7" fill="#dc6338"/><circle cx="531.8" cy="87.9" r="1.7" fill="#b2d7ea"/><circle cx="483.2" cy="92.9" r="1.7" fill="#e47845"/><circle cx="528.1" cy="101.0" r="1.7" fill="#73abd2"/><circle cx="488.1" cy="96.5" r="1.7" fill="#db6037"/><circle cx="490.2" cy="111.7" r="1.7" fill="#ce4328"/><circle cx="527.1" cy="86.3" r="1.7" fill="#f6ebd9"/><circle cx="518.1" cy="54.6" r="1.7" fill="#2664a2"/><circle cx="505.0" cy="91.0" r="1.7" fill="#c1281d"/><circle cx="494.4" cy="68.0" r="1.7" fill="#2663a2"/><circle cx="514.0" cy="51.9" r="1.7" fill="#3b7cb4"/><circle cx="508.8" cy="99.8" r="1.7" fill="#d65430"/><circle cx="509.4" cy="89.0" r="1.7" fill="#cc3e26"/><circle cx="478.9" cy="80.0" r="1.7" fill="#205a99"/><circle cx="476.9" cy="76.5" r="1.7" fill="#5d9ac8"/><circle cx="494.3" cy="55.9" r="1.7" fill="#4787bb"/><circle cx="530.7" cy="83.2" r="1.7" fill="#75add3"/><circle cx="512.0" cy="120.5" r="1.7" fill="#e9864e"/><circle cx="490.6" cy="87.3" r="1.7" fill="#cd4228"/><circle cx="496.8" cy="105.1" r="1.7" fill="#c83623"/><circle cx="484.8" cy="104.7" r="1.7" fill="#cb3e26"/><circle cx="517.1" cy="65.7" r="1.7" fill="#2562a1"/><circle cx="471.7" cy="78.1" r="1.7" fill="#8bbfdd"/><circle cx="529.4" cy="103.8" r="1.7" fill="#9dcae3"/><circle cx="493.0" cy="51.6" r="1.7" fill="#2461a0"/><circle cx="522.3" cy="90.5" r="1.7" fill="#e57b46"/><circle cx="513.0" cy="99.5" r="1.7" fill="#d0472a"/><circle cx="508.7" cy="120.3" r="1.7" fill="#eb8e53"/><circle cx="485.5" cy="86.2" r="1.7" fill="#de683b"/><circle cx="494.6" cy="101.5" r="1.7" fill="#d1492b"/><circle cx="476.9" cy="104.8" r="1.7" fill="#d55330"/><circle cx="519.1" cy="106.5" r="1.7" fill="#f1a567"/><circle cx="505.2" cy="99.7" r="1.7" fill="#ce4328"/><circle cx="525.1" cy="109.7" r="1.7" fill="#f8c082"/><circle cx="525.5" cy="70.3" r="1.7" fill="#83b8d9"/><circle cx="489.1" cy="58.1" r="1.7" fill="#2765a3"/><circle cx="518.8" cy="92.7" r="1.7" fill="#de663a"/><circle cx="515.3" cy="113.8" r="1.7" fill="#e9884f"/><circle cx="488.9" cy="119.3" r="1.7" fill="#e77f49"/><circle cx="488.6" cy="78.5" r="1.7" fill="#1d5493"/><circle cx="487.0" cy="81.9" r="1.7" fill="#2968a5"/><circle cx="513.9" cy="73.7" r="1.7" fill="#4a8abd"/><circle cx="498.7" cy="67.0" r="1.7" fill="#2b6aa7"/><circle cx="533.3" cy="85.4" r="1.7" fill="#70aad1"/><circle cx="505.8" cy="56.6" r="1.7" fill="#3a7bb3"/><circle cx="520.7" cy="67.7" r="1.7" fill="#609dc9"/><circle cx="497.6" cy="119.4" r="1.7" fill="#f5b678"/><circle cx="528.6" cy="98.0" r="1.7" fill="#f1a466"/><circle cx="511.0" cy="115.4" r="1.7" fill="#f1a567"/><circle cx="522.9" cy="86.0" r="1.7" fill="#e47743"/><circle cx="496.9" cy="57.8" r="1.7" fill="#2d6da9"/><circle cx="489.9" cy="64.6" r="1.7" fill="#4888bc"/><circle cx="510.2" cy="50.7" r="1.7" fill="#2b6ba7"/><circle cx="483.0" cy="55.7" r="1.7" fill="#2c6ca8"/><circle cx="496.4" cy="109.4" r="1.7" fill="#d65431"/><circle cx="494.9" cy="81.4" r="1.7" fill="#3d7eb5"/><circle cx="489.8" cy="75.0" r="1.7" fill="#2765a3"/><circle cx="521.7" cy="99.3" r="1.7" fill="#d75632"/><circle cx="494.7" cy="97.7" r="1.7" fill="#d34d2d"/><circle cx="511.5" cy="58.2" r="1.7" fill="#2664a2"/><circle cx="495.0" cy="73.0" r="1.7" fill="#2f70ab"/><circle cx="482.7" cy="77.6" r="1.7" fill="#2e6eaa"/><circle cx="473.6" cy="70.3" r="1.7" fill="#6ca6cf"/><circle cx="485.2" cy="59.3" r="1.7" fill="#2461a0"/><circle cx="493.0" cy="118.8" r="1.7" fill="#dd653a"/><circle cx="521.6" cy="77.4" r="1.7" fill="#4182b8"/><circle cx="486.5" cy="53.7" r="1.7" fill="#215c9b"/><circle cx="474.6" cy="94.6" r="1.7" fill="#f9e3c0"/><circle cx="523.7" cy="60.1" r="1.7" fill="#84b9da"/><circle cx="492.3" cy="47.8" r="1.7" fill="#2f6fab"/><circle cx="515.6" cy="98.0" r="1.7" fill="#cc3f27"/><circle cx="475.3" cy="100.2" r="1.7" fill="#7cb2d6"/><circle cx="474.5" cy="80.8" r="1.7" fill="#69a4cd"/><circle cx="507.2" cy="69.1" r="1.7" fill="#2b6ba7"/><circle cx="478.3" cy="72.4" r="1.7" fill="#72abd2"/><circle cx="519.0" cy="75.6" r="1.7" fill="#4a8bbd"/><circle cx="478.8" cy="93.2" r="1.7" fill="#ef9b5d"/><circle cx="522.3" cy="63.3" r="1.7" fill="#4a8abd"/><circle cx="493.2" cy="114.0" r="1.7" fill="#f3ae70"/><circle cx="471.8" cy="82.0" r="1.7" fill="#8ec1de"/><circle cx="489.5" cy="92.9" r="1.7" fill="#db6037"/><circle cx="506.2" cy="112.8" r="1.7" fill="#f7bd7f"/><circle cx="513.8" cy="88.4" r="1.7" fill="#dd653a"/><circle cx="475.7" cy="67.6" r="1.7" fill="#79b1d5"/><circle cx="515.3" cy="94.2" r="1.7" fill="#cd4027"/><circle cx="507.4" cy="82.5" r="1.7" fill="#cb3c25"/><circle cx="505.6" cy="85.7" r="1.7" fill="#d24b2c"/><circle cx="495.4" cy="121.6" r="1.7" fill="#f6b97b"/><circle cx="481.0" cy="69.8" r="1.7" fill="#86badb"/><circle cx="488.4" cy="109.0" r="1.7" fill="#e06a3c"/><circle cx="490.5" cy="82.9" r="1.7" fill="#d65531"/><circle cx="472.0" cy="98.1" r="1.7" fill="#dbeaed"/><circle cx="493.9" cy="86.7" r="1.7" fill="#cd4127"/><circle cx="523.9" cy="81.6" r="1.7" fill="#4e8dbf"/><circle cx="498.5" cy="60.9" r="1.7" fill="#4586ba"/><circle cx="519.1" cy="80.2" r="1.7" fill="#23609f"/><circle cx="520.9" cy="72.0" r="1.7" fill="#68a4cd"/><circle cx="508.6" cy="65.8" r="1.7" fill="#2f6fab"/><circle cx="524.6" cy="96.4" r="1.7" fill="#cf462a"/><circle cx="491.1" cy="102.6" r="1.7" fill="#d85933"/><circle cx="518.6" cy="89.0" r="1.7" fill="#f0a163"/><circle cx="523.3" cy="93.4" r="1.7" fill="#d14a2b"/><circle cx="480.2" cy="96.0" r="1.7" fill="#df693c"/><circle cx="481.7" cy="111.0" r="1.7" fill="#ee9659"/><circle cx="470.2" cy="90.3" r="1.7" fill="#9bc9e2"/><circle cx="509.9" cy="111.9" r="1.7" fill="#d85933"/><circle cx="507.1" cy="116.9" r="1.7" fill="#f3ad6f"/><circle cx="508.2" cy="62.5" r="1.7" fill="#215c9b"/><circle cx="483.1" cy="89.3" r="1.7" fill="#d75632"/><circle cx="497.1" cy="63.4" r="1.7" fill="#2f6fab"/><circle cx="527.8" cy="65.4" r="1.7" fill="#3374af"/><circle cx="498.1" cy="122.6" r="1.7" fill="#eb8f54"/><circle cx="506.5" cy="47.2" r="1.7" fill="#205a99"/><circle cx="495.3" cy="49.8" r="1.7" fill="#2664a2"/><circle cx="522.2" cy="106.6" r="1.7" fill="#f5b779"/><circle cx="484.0" cy="70.4" r="1.7" fill="#74acd2"/><circle cx="491.0" cy="55.0" r="1.7" fill="#4485ba"/><circle cx="491.4" cy="99.1" r="1.7" fill="#c93a24"/><circle cx="517.3" cy="83.3" r="1.7" fill="#ed9457"/><circle cx="520.7" cy="103.9" r="1.7" fill="#c83824"/><circle cx="506.7" cy="51.6" r="1.7" fill="#3273ae"/><circle cx="514.4" cy="84.2" r="1.7" fill="#d34e2d"/><circle cx="494.8" cy="91.7" r="1.7" fill="#ce4328"/><circle cx="525.9" cy="74.7" r="1.7" fill="#97c6e1"/><circle cx="485.7" cy="63.1" r="1.7" fill="#2a69a6"/><circle cx="486.2" cy="116.4" r="1.7" fill="#f0a264"/><circle cx="523.0" cy="112.6" r="1.7" fill="#e57b47"/><circle cx="472.0" cy="73.7" r="1.7" fill="#4e8ec0"/><circle cx="484.5" cy="96.4" r="1.7" fill="#de663a"/><circle cx="489.5" cy="105.2" r="1.7" fill="#d85a34"/><circle cx="477.5" cy="64.3" r="1.7" fill="#84b9da"/><circle cx="530.4" cy="79.4" r="1.7" fill="#5090c1"/><circle cx="511.0" cy="80.6" r="1.7" fill="#2967a5"/></g>
<g><circle cx="551.9" cy="93.7" r="1.7" fill="#1f5796"/><circle cx="567.4" cy="102.4" r="1.7" fill="#2562a1"/><circle cx="579.7" cy="102.4" r="1.7" fill="#4686bb"/><circle cx="596.9" cy="76.1" r="1.7" fill="#e9864e"/><circle cx="615.5" cy="108.8" r="1.7" fill="#9ccae3"/><circle cx="597.1" cy="82.1" r="1.7" fill="#e77f49"/><circle cx="600.0" cy="90.5" r="1.7" fill="#87bbdb"/><circle cx="587.1" cy="59.3" r="1.7" fill="#3475b0"/><circle cx="589.0" cy="104.2" r="1.7" fill="#f1a567"/><circle cx="603.7" cy="106.5" r="1.7" fill="#e57c47"/><circle cx="556.8" cy="98.5" r="1.7" fill="#2f70ab"/><circle cx="562.0" cy="70.1" r="1.7" fill="#2967a5"/><circle cx="613.9" cy="102.7" r="1.7" fill="#b3d8ea"/><circle cx="594.5" cy="59.4" r="1.7" fill="#cf462a"/><circle cx="565.2" cy="96.6" r="1.7" fill="#1f5796"/><circle cx="558.3" cy="92.6" r="1.7" fill="#3476b0"/><circle cx="567.4" cy="76.4" r="1.7" fill="#2c6ba8"/><circle cx="581.3" cy="59.6" r="1.7" fill="#c7e3f0"/><circle cx="610.9" cy="79.0" r="1.7" fill="#c83723"/><circle cx="577.0" cy="109.7" r="1.7" fill="#3577b0"/><circle cx="564.3" cy="105.2" r="1.7" fill="#3577b0"/><circle cx="602.9" cy="96.8" r="1.7" fill="#e16f3e"/><circle cx="587.6" cy="92.2" r="1.7" fill="#d1492b"/><circle cx="602.8" cy="87.7" r="1.7" fill="#e7824b"/><circle cx="609.1" cy="75.9" r="1.7" fill="#c32d1f"/><circle cx="605.7" cy="101.7" r="1.7" fill="#629fca"/><circle cx="583.6" cy="106.3" r="1.7" fill="#d95c35"/><circle cx="575.8" cy="105.9" r="1.7" fill="#225d9c"/><circle cx="581.6" cy="97.0" r="1.7" fill="#77afd4"/><circle cx="570.6" cy="63.6" r="1.7" fill="#5e9cc8"/><circle cx="618.6" cy="96.1" r="1.7" fill="#f5b678"/><circle cx="575.6" cy="65.5" r="1.7" fill="#72abd2"/><circle cx="576.3" cy="95.7" r="1.7" fill="#4b8bbe"/><circle cx="594.5" cy="65.9" r="1.7" fill="#c0271c"/><circle cx="571.0" cy="104.6" r="1.7" fill="#2563a1"/><circle cx="578.4" cy="98.7" r="1.7" fill="#d1e6ef"/><circle cx="567.1" cy="82.4" r="1.7" fill="#79b1d5"/><circle cx="556.2" cy="90.1" r="1.7" fill="#3577b0"/><circle cx="566.8" cy="106.8" r="1.7" fill="#3a7bb4"/><circle cx="548.2" cy="90.1" r="1.7" fill="#3375af"/><circle cx="554.4" cy="86.3" r="1.7" fill="#a6d0e6"/><circle cx="560.7" cy="100.9" r="1.7" fill="#b7daeb"/><circle cx="590.3" cy="62.7" r="1.7" fill="#2c6ca8"/><circle cx="554.4" cy="95.2" r="1.7" fill="#66a1cc"/><circle cx="593.8" cy="111.7" r="1.7" fill="#cf4429"/><circle cx="595.6" cy="97.0" r="1.7" fill="#ed9558"/><circle cx="624.7" cy="100.1" r="1.7" fill="#d34d2d"/><circle cx="616.4" cy="80.1" r="1.7" fill="#c42f1f"/><circle cx="590.6" cy="72.3" r="1.7" fill="#65a1cb"/><circle cx="610.2" cy="109.6" r="1.7" fill="#de663a"/><circle cx="610.5" cy="93.8" r="1.7" fill="#a9d2e7"/><circle cx="614.7" cy="95.9" r="1.7" fill="#cb3d26"/><circle cx="583.4" cy="93.2" r="1.7" fill="#65a1cc"/><circle cx="616.9" cy="72.3" r="1.7" fill="#d85933"/><circle cx="601.6" cy="94.0" r="1.7" fill="#e16e3e"/><circle cx="589.4" cy="94.5" r="1.7" fill="#cf462a"/><circle cx="565.9" cy="64.6" r="1.7" fill="#4283b8"/><circle cx="577.6" cy="78.1" r="1.7" fill="#72abd1"/><circle cx="600.7" cy="110.0" r="1.7" fill="#cb3e26"/><circle cx="619.4" cy="90.5" r="1.7" fill="#e67e49"/><circle cx="587.0" cy="63.7" r="1.7" fill="#6ca7cf"/><circle cx="573.7" cy="68.7" r="1.7" fill="#bbdded"/><circle cx="570.2" cy="95.5" r="1.7" fill="#2e6eaa"/><circle cx="571.7" cy="91.4" r="1.7" fill="#2b6aa7"/><circle cx="587.1" cy="86.5" r="1.7" fill="#d55330"/><circle cx="598.7" cy="100.0" r="1.7" fill="#d75631"/><circle cx="604.5" cy="72.6" r="1.7" fill="#d1482b"/><circle cx="582.6" cy="69.8" r="1.7" fill="#2663a2"/><circle cx="579.4" cy="83.4" r="1.7" fill="#225e9d"/><circle cx="593.2" cy="85.8" r="1.7" fill="#d0472a"/><circle cx="572.4" cy="110.5" r="1.7" fill="#609dc9"/><circle cx="563.8" cy="75.6" r="1.7" fill="#3879b2"/><circle cx="580.2" cy="66.5" r="1.7" fill="#4a8abd"/><circle cx="565.0" cy="78.7" r="1.7" fill="#87bbdb"/><circle cx="563.6" cy="91.5" r="1.7" fill="#2967a5"/><circle cx="569.1" cy="68.6" r="1.7" fill="#7eb4d7"/><circle cx="581.7" cy="110.5" r="1.7" fill="#e2713f"/><circle cx="590.0" cy="67.9" r="1.7" fill="#cae4ef"/><circle cx="583.7" cy="85.3" r="1.7" fill="#3172ad"/><circle cx="591.3" cy="108.5" r="1.7" fill="#e57a46"/><circle cx="585.6" cy="78.8" r="1.7" fill="#2967a5"/><circle cx="568.7" cy="73.3" r="1.7" fill="#2663a2"/><circle cx="621.4" cy="100.0" r="1.7" fill="#d55330"/><circle cx="565.3" cy="85.9" r="1.7" fill="#225d9c"/><circle cx="593.1" cy="94.7" r="1.7" fill="#609dc9"/><circle cx="573.2" cy="107.4" r="1.7" fill="#3172ad"/><circle cx="613.5" cy="99.3" r="1.7" fill="#e27140"/><circle cx="624.1" cy="91.5" r="1.7" fill="#db6137"/><circle cx="581.4" cy="87.3" r="1.7" fill="#2c6ca8"/><circle cx="556.2" cy="77.8" r="1.7" fill="#98c7e1"/><circle cx="610.7" cy="104.1" r="1.7" fill="#e2703f"/><circle cx="567.0" cy="91.3" r="1.7" fill="#2c6ba8"/><circle cx="575.3" cy="102.3" r="1.7" fill="#c9e4ef"/><circle cx="616.0" cy="90.3" r="1.7" fill="#e2713f"/><circle cx="597.1" cy="110.9" r="1.7" fill="#9ecbe3"/><circle cx="592.5" cy="82.7" r="1.7" fill="#ce4429"/><circle cx="575.5" cy="72.0" r="1.7" fill="#3879b2"/><circle cx="554.5" cy="82.8" r="1.7" fill="#4586ba"/><circle cx="623.6" cy="104.7" r="1.7" fill="#e2713f"/><circle cx="605.7" cy="98.8" r="1.7" fill="#96c6e1"/><circle cx="602.7" cy="62.4" r="1.7" fill="#e47844"/><circle cx="552.9" cy="76.5" r="1.7" fill="#235f9e"/><circle cx="587.3" cy="108.9" r="1.7" fill="#f1a668"/><circle cx="611.6" cy="68.5" r="1.7" fill="#d0472a"/><circle cx="579.2" cy="92.8" r="1.7" fill="#2b6ba7"/><circle cx="549.9" cy="82.6" r="1.7" fill="#2c6ca8"/><circle cx="549.8" cy="79.4" r="1.7" fill="#225e9d"/><circle cx="606.7" cy="80.0" r="1.7" fill="#cb3d26"/><circle cx="584.8" cy="100.6" r="1.7" fill="#db6037"/><circle cx="610.7" cy="97.0" r="1.7" fill="#f1a567"/><circle cx="559.4" cy="95.4" r="1.7" fill="#4182b8"/><circle cx="612.8" cy="91.9" r="1.7" fill="#e37240"/><circle cx="597.5" cy="67.7" r="1.7" fill="#e06b3c"/><circle cx="582.6" cy="77.9" r="1.7" fill="#5190c1"/><circle cx="592.8" cy="91.2" r="1.7" fill="#eb8e53"/><circle cx="603.9" cy="68.2" r="1.7" fill="#d4502f"/><circle cx="605.4" cy="91.8" r="1.7" fill="#9cc9e3"/><circle cx="561.4" cy="88.7" r="1.7" fill="#2c6ba8"/><circle cx="613.4" cy="73.9" r="1.7" fill="#c53020"/><circle cx="626.1" cy="95.9" r="1.7" fill="#7eb4d7"/><circle cx="603.6" cy="84.8" r="1.7" fill="#e37240"/><circle cx="573.7" cy="62.1" r="1.7" fill="#8ec1de"/><circle cx="573.0" cy="81.8" r="1.7" fill="#3070ac"/><circle cx="586.0" cy="70.8" r="1.7" fill="#b3d8ea"/><circle cx="581.0" cy="90.3" r="1.7" fill="#3f80b7"/><circle cx="617.3" cy="103.4" r="1.7" fill="#e37542"/><circle cx="609.9" cy="82.9" r="1.7" fill="#dc6238"/><circle cx="590.7" cy="87.6" r="1.7" fill="#cf4429"/><circle cx="599.2" cy="64.4" r="1.7" fill="#d34c2d"/><circle cx="569.6" cy="79.8" r="1.7" fill="#4283b9"/><circle cx="618.7" cy="85.3" r="1.7" fill="#d65431"/><circle cx="565.0" cy="68.7" r="1.7" fill="#205b9a"/><circle cx="613.4" cy="81.4" r="1.7" fill="#d4502e"/><circle cx="558.2" cy="80.6" r="1.7" fill="#2f6fab"/><circle cx="602.7" cy="100.1" r="1.7" fill="#f1a365"/><circle cx="619.2" cy="77.7" r="1.7" fill="#c83824"/><circle cx="600.1" cy="85.9" r="1.7" fill="#df6a3c"/><circle cx="564.1" cy="101.8" r="1.7" fill="#225e9d"/><circle cx="601.9" cy="81.7" r="1.7" fill="#d34d2d"/><circle cx="571.8" cy="72.1" r="1.7" fill="#235f9e"/><circle cx="622.9" cy="83.7" r="1.7" fill="#da5d35"/><circle cx="555.9" cy="72.1" r="1.7" fill="#2a69a6"/><circle cx="599.9" cy="77.6" r="1.7" fill="#d1492b"/><circle cx="594.5" cy="77.7" r="1.7" fill="#d85933"/><circle cx="572.7" cy="86.4" r="1.7" fill="#4081b7"/><circle cx="581.4" cy="74.9" r="1.7" fill="#5d9ac8"/><circle cx="608.1" cy="64.7" r="1.7" fill="#d1492b"/><circle cx="610.3" cy="72.2" r="1.7" fill="#d65330"/><circle cx="573.6" cy="75.7" r="1.7" fill="#4888bc"/><circle cx="592.6" cy="101.2" r="1.7" fill="#7fb5d8"/></g>
<g><circle cx="328.9" cy="205.2" r="1.7" fill="#4e8ec0"/><circle cx="333.6" cy="186.1" r="1.7" fill="#5594c4"/><circle cx="302.9" cy="207.7" r="1.7" fill="#c43020"/><circle cx="317.9" cy="233.0" r="1.7" fill="#f2a86a"/><circle cx="297.1" cy="220.7" r="1.7" fill="#ee975a"/><circle cx="325.7" cy="173.5" r="1.7" fill="#e67d48"/><circle cx="293.3" cy="223.6" r="1.7" fill="#88bcdc"/><circle cx="301.6" cy="174.6" r="1.7" fill="#c63221"/><circle cx="299.8" cy="223.6" r="1.7" fill="#94c4e0"/><circle cx="315.8" cy="170.5" r="1.7" fill="#db6037"/><circle cx="291.2" cy="210.5" r="1.7" fill="#94c4e0"/><circle cx="326.0" cy="187.8" r="1.7" fill="#2e6faa"/><circle cx="305.4" cy="170.9" r="1.7" fill="#d65330"/><circle cx="284.9" cy="196.7" r="1.7" fill="#3071ac"/><circle cx="303.1" cy="211.1" r="1.7" fill="#cd4128"/><circle cx="322.0" cy="179.4" r="1.7" fill="#e7814a"/><circle cx="307.0" cy="175.8" r="1.7" fill="#e26f3f"/><circle cx="316.8" cy="162.6" r="1.7" fill="#e37241"/><circle cx="327.5" cy="179.6" r="1.7" fill="#e16f3e"/><circle cx="313.6" cy="188.9" r="1.7" fill="#3374af"/><circle cx="313.4" cy="224.5" r="1.7" fill="#cd4027"/><circle cx="334.6" cy="214.6" r="1.7" fill="#629fca"/><circle cx="294.6" cy="228.5" r="1.7" fill="#6ba5ce"/><circle cx="337.8" cy="209.4" r="1.7" fill="#5e9cc8"/><circle cx="322.3" cy="208.3" r="1.7" fill="#70a9d0"/><circle cx="321.1" cy="198.6" r="1.7" fill="#4687bb"/><circle cx="307.1" cy="158.5" r="1.7" fill="#c0271c"/><circle cx="330.3" cy="182.5" r="1.7" fill="#3273ae"/><circle cx="321.3" cy="218.2" r="1.7" fill="#8ec0de"/><circle cx="297.8" cy="182.8" r="1.7" fill="#f7bc7e"/><circle cx="291.6" cy="199.0" r="1.7" fill="#2e6eaa"/><circle cx="321.4" cy="171.2" r="1.7" fill="#e57a46"/><circle cx="328.9" cy="192.4" r="1.7" fill="#4e8ebf"/><circle cx="289.3" cy="174.4" r="1.7" fill="#e57b46"/><circle cx="283.3" cy="209.1" r="1.7" fill="#5594c4"/><circle cx="289.4" cy="191.2" r="1.7" fill="#2967a5"/><circle cx="328.3" cy="176.2" r="1.7" fill="#4181b8"/><circle cx="297.2" cy="230.9" r="1.7" fill="#eb8d52"/><circle cx="289.4" cy="195.9" r="1.7" fill="#609dc9"/><circle cx="300.7" cy="215.5" r="1.7" fill="#db6037"/><circle cx="292.7" cy="172.2" r="1.7" fill="#f2a86a"/><circle cx="297.3" cy="186.6" r="1.7" fill="#2766a3"/><circle cx="328.9" cy="168.1" r="1.7" fill="#e16e3e"/><circle cx="315.2" cy="230.4" r="1.7" fill="#ec9055"/><circle cx="325.0" cy="230.2" r="1.7" fill="#dd6439"/><circle cx="338.2" cy="195.0" r="1.7" fill="#2c6ca8"/><circle cx="280.7" cy="200.5" r="1.7" fill="#4384b9"/><circle cx="321.4" cy="230.2" r="1.7" fill="#e06a3c"/><circle cx="328.5" cy="184.9" r="1.7" fill="#2b6ba7"/><circle cx="330.0" cy="208.2" r="1.7" fill="#2b6ba7"/><circle cx="285.4" cy="178.6" r="1.7" fill="#2663a2"/><circle cx="292.2" cy="184.7" r="1.7" fill="#4889bc"/><circle cx="287.4" cy="221.1" r="1.7" fill="#5494c3"/><circle cx="322.2" cy="184.9" r="1.7" fill="#3476b0"/><circle cx="299.8" cy="210.8" r="1.7" fill="#f4f0e7"/><circle cx="286.6" cy="183.4" r="1.7" fill="#4b8bbe"/><circle cx="301.8" cy="194.4" r="1.7" fill="#2b6aa7"/><circle cx="298.1" cy="195.6" r="1.7" fill="#2b6aa7"/><circle cx="293.5" cy="176.6" r="1.7" fill="#ef9d5f"/><circle cx="307.4" cy="233.6" r="1.7" fill="#e9864e"/><circle cx="329.9" cy="217.6" r="1.7" fill="#7ab1d5"/><circle cx="314.7" cy="182.0" r="1.7" fill="#db6037"/><circle cx="336.5" cy="200.9" r="1.7" fill="#5594c4"/><circle cx="313.2" cy="173.9" r="1.7" fill="#ca3b25"/><circle cx="335.3" cy="178.6" r="1.7" fill="#4081b7"/><circle cx="316.5" cy="213.1" r="1.7" fill="#ca3b25"/><circle cx="286.7" cy="217.8" r="1.7" fill="#72abd1"/><circle cx="313.6" cy="177.9" r="1.7" fill="#dc6338"/><circle cx="334.9" cy="209.9" r="1.7" fill="#5d9bc8"/><circle cx="325.9" cy="225.7" r="1.7" fill="#86bbdb"/><circle cx="295.7" cy="192.2" r="1.7" fill="#205a99"/><circle cx="303.0" cy="231.4" r="1.7" fill="#e57945"/><circle cx="330.9" cy="224.0" r="1.7" fill="#5b99c7"/><circle cx="321.6" cy="224.5" r="1.7" fill="#5e9cc8"/><circle cx="285.1" cy="202.9" r="1.7" fill="#d2e7ee"/><circle cx="323.1" cy="164.2" r="1.7" fill="#de673b"/><circle cx="299.9" cy="204.9" r="1.7" fill="#5494c3"/><circle cx="331.9" cy="192.2" r="1.7" fill="#2a69a6"/><circle cx="297.7" cy="163.7" r="1.7" fill="#dd653a"/><circle cx="304.0" cy="225.7" r="1.7" fill="#ce4228"/><circle cx="295.0" cy="174.1" r="1.7" fill="#f4b072"/><circle cx="316.7" cy="224.5" r="1.7" fill="#e37241"/><circle cx="335.5" cy="192.4" r="1.7" fill="#2867a4"/><circle cx="317.4" cy="184.1" r="1.7" fill="#cd4228"/><circle cx="307.0" cy="224.1" r="1.7" fill="#d5522f"/><circle cx="284.7" cy="205.9" r="1.7" fill="#5191c2"/><circle cx="321.3" cy="213.2" r="1.7" fill="#badcec"/><circle cx="316.8" cy="200.1" r="1.7" fill="#d0482b"/><circle cx="291.4" cy="181.0" r="1.7" fill="#f1a365"/><circle cx="330.2" cy="187.8" r="1.7" fill="#4384b9"/><circle cx="331.6" cy="197.9" r="1.7" fill="#8bbedd"/><circle cx="304.8" cy="234.8" r="1.7" fill="#e57a46"/><circle cx="316.8" cy="188.3" r="1.7" fill="#3476b0"/><circle cx="293.9" cy="204.7" r="1.7" fill="#81b7d9"/><circle cx="317.2" cy="194.9" r="1.7" fill="#2f6fab"/><circle cx="326.6" cy="209.3" r="1.7" fill="#5b99c7"/><circle cx="335.1" cy="204.6" r="1.7" fill="#e5ecec"/><circle cx="327.5" cy="200.8" r="1.7" fill="#3678b1"/><circle cx="318.3" cy="178.4" r="1.7" fill="#c22b1e"/><circle cx="318.4" cy="219.4" r="1.7" fill="#db5f36"/><circle cx="299.5" cy="232.8" r="1.7" fill="#ed9659"/><circle cx="324.7" cy="215.5" r="1.7" fill="#a3cee5"/><circle cx="321.6" cy="188.3" r="1.7" fill="#2968a5"/><circle cx="301.4" cy="168.5" r="1.7" fill="#db6037"/><circle cx="312.9" cy="218.2" r="1.7" fill="#db6037"/><circle cx="313.4" cy="214.1" r="1.7" fill="#d75632"/><circle cx="299.2" cy="171.7" r="1.7" fill="#f8c082"/><circle cx="328.7" cy="221.3" r="1.7" fill="#78b0d4"/><circle cx="300.2" cy="160.7" r="1.7" fill="#c0271c"/><circle cx="304.8" cy="197.4" r="1.7" fill="#225e9d"/><circle cx="335.6" cy="183.8" r="1.7" fill="#4a8abd"/><circle cx="281.9" cy="196.9" r="1.7" fill="#4686bb"/><circle cx="339.8" cy="200.6" r="1.7" fill="#2d6da9"/><circle cx="327.7" cy="212.3" r="1.7" fill="#f2a96b"/><circle cx="317.8" cy="205.9" r="1.7" fill="#e47844"/><circle cx="326.3" cy="165.5" r="1.7" fill="#f6b87a"/><circle cx="287.4" cy="188.1" r="1.7" fill="#3f80b6"/><circle cx="331.3" cy="172.2" r="1.7" fill="#d5522f"/><circle cx="317.0" cy="175.7" r="1.7" fill="#d34d2d"/><circle cx="301.5" cy="197.5" r="1.7" fill="#2c6ba8"/><circle cx="283.3" cy="187.0" r="1.7" fill="#3274ae"/><circle cx="327.3" cy="170.9" r="1.7" fill="#f3ac6e"/><circle cx="307.1" cy="164.1" r="1.7" fill="#c0271c"/><circle cx="287.7" cy="212.2" r="1.7" fill="#2b6ba7"/><circle cx="292.7" cy="188.3" r="1.7" fill="#c0271c"/><circle cx="324.1" cy="212.2" r="1.7" fill="#eb8d53"/><circle cx="315.5" cy="216.9" r="1.7" fill="#d75732"/><circle cx="304.8" cy="201.0" r="1.7" fill="#e7814b"/><circle cx="284.3" cy="190.2" r="1.7" fill="#3273ae"/><circle cx="304.2" cy="161.8" r="1.7" fill="#db6137"/><circle cx="313.1" cy="167.8" r="1.7" fill="#c53020"/><circle cx="314.5" cy="202.1" r="1.7" fill="#cb3d26"/><circle cx="335.0" cy="196.4" r="1.7" fill="#66a2cc"/><circle cx="295.0" cy="216.1" r="1.7" fill="#ed9558"/><circle cx="322.7" cy="167.4" r="1.7" fill="#d34d2d"/><circle cx="325.3" cy="219.6" r="1.7" fill="#f1a466"/><circle cx="315.5" cy="165.6" r="1.7" fill="#de663a"/><circle cx="318.3" cy="210.4" r="1.7" fill="#c22c1e"/><circle cx="289.4" cy="170.7" r="1.7" fill="#e16e3e"/><circle cx="338.3" cy="190.2" r="1.7" fill="#4485ba"/><circle cx="313.7" cy="159.7" r="1.7" fill="#cb3e26"/><circle cx="296.4" cy="198.6" r="1.7" fill="#2968a5"/><circle cx="330.6" cy="178.9" r="1.7" fill="#f0a264"/><circle cx="306.8" cy="211.3" r="1.7" fill="#c22b1e"/><circle cx="313.7" cy="235.0" r="1.7" fill="#7cb3d6"/><circle cx="319.4" cy="227.7" r="1.7" fill="#e57a46"/><circle cx="293.9" cy="166.9" r="1.7" fill="#e67d48"/><circle cx="293.6" cy="212.2" r="1.7" fill="#70aad1"/><circle cx="314.0" cy="197.3" r="1.7" fill="#215d9c"/><circle cx="303.5" cy="183.1" r="1.7" fill="#d24b2c"/><circle cx="323.6" cy="222.0" r="1.7" fill="#64a0cb"/><circle cx="333.3" cy="219.7" r="1.7" fill="#3172ad"/><circle cx="302.9" cy="218.9" r="1.7" fill="#df693b"/><circle cx="297.1" cy="168.5" r="1.7" fill="#d55230"/><circle cx="332.3" cy="212.5" r="1.7" fill="#4a8abd"/><circle cx="288.2" cy="207.7" r="1.7" fill="#5998c6"/><circle cx="305.7" cy="218.0" r="1.7" fill="#eb8d52"/><circle cx="299.1" cy="177.9" r="1.7" fill="#e67f49"/><circle cx="332.7" cy="174.8" r="1.7" fill="#de673a"/><circle cx="324.3" cy="182.7" r="1.7" fill="#ed9558"/><circle cx="304.9" cy="167.5" r="1.7" fill="#cc4027"/><circle cx="291.8" cy="220.5" r="1.7" fill="#4687bb"/><circle cx="291.3" cy="206.7" r="1.7" fill="#5897c5"/><circle cx="302.9" cy="190.4" r="1.7" fill="#2f70ab"/><circle cx="321.2" cy="203.6" r="1.7" fill="#badced"/><circle cx="331.3" cy="202.6" r="1.7" fill="#3c7db5"/><circle cx="325.5" cy="195.5" r="1.7" fill="#3879b2"/><circle cx="320.1" cy="161.5" r="1.7" fill="#cb3d26"/><circle cx="301.0" cy="164.8" r="1.7" fill="#d65431"/><circle cx="286.1" cy="193.6" r="1.7" fill="#3577b1"/></g>
<g><circle cx="380.0" cy="219.4" r="1.7" fill="#d24b2c"/><circle cx="416.7" cy="187.1" r="1.7" fill="#c73522"/><circle cx="379.3" cy="196.6" r="1.7" fill="#e98950"/><circle cx="381.6" cy="222.3" r="1.7" fill="#c0271c"/><circle cx="386.0" cy="197.8" r="1.7" fill="#2663a2"/><circle cx="421.0" cy="184.3" r="1.7" fill="#3e7fb6"/><circle cx="377.6" cy="209.7" r="1.7" fill="#d14a2b"/><circle cx="435.2" cy="194.8" r="1.7" fill="#2765a3"/><circle cx="383.9" cy="214.8" r="1.7" fill="#ec9155"/><circle cx="372.6" cy="206.6" r="1.7" fill="#eb8f54"/><circle cx="417.8" cy="204.4" r="1.7" fill="#3274ae"/><circle cx="363.6" cy="199.7" r="1.7" fill="#d1482b"/><circle cx="414.5" cy="192.7" r="1.7" fill="#f3ae70"/><circle cx="424.0" cy="198.1" r="1.7" fill="#2866a4"/><circle cx="430.1" cy="210.2" r="1.7" fill="#f7bd7f"/><circle cx="403.9" cy="210.3" r="1.7" fill="#80b6d8"/><circle cx="433.5" cy="218.4" r="1.7" fill="#f0a062"/><circle cx="426.3" cy="186.6" r="1.7" fill="#23609f"/><circle cx="386.9" cy="207.7" r="1.7" fill="#c8e4f0"/><circle cx="425.0" cy="217.4" r="1.7" fill="#e8864e"/><circle cx="413.7" cy="186.5" r="1.7" fill="#d75632"/><circle cx="405.0" cy="192.6" r="1.7" fill="#f9c488"/><circle cx="417.5" cy="209.2" r="1.7" fill="#86bbdb"/><circle cx="420.7" cy="209.0" r="1.7" fill="#80b6d8"/><circle cx="389.8" cy="180.1" r="1.7" fill="#4989bd"/><circle cx="391.9" cy="177.2" r="1.7" fill="#d1492b"/><circle cx="418.6" cy="224.1" r="1.7" fill="#3f80b7"/><circle cx="382.6" cy="195.7" r="1.7" fill="#cf4529"/><circle cx="425.8" cy="220.4" r="1.7" fill="#f09e60"/><circle cx="384.0" cy="206.3" r="1.7" fill="#c93924"/><circle cx="424.3" cy="190.4" r="1.7" fill="#235f9e"/><circle cx="427.2" cy="196.1" r="1.7" fill="#f6b87a"/><circle cx="409.8" cy="191.4" r="1.7" fill="#d0482b"/><circle cx="409.0" cy="208.3" r="1.7" fill="#5393c3"/><circle cx="412.9" cy="199.9" r="1.7" fill="#df693c"/><circle cx="370.2" cy="181.7" r="1.7" fill="#d0472a"/><circle cx="422.2" cy="214.2" r="1.7" fill="#9fcbe4"/><circle cx="397.0" cy="201.9" r="1.7" fill="#ea8c52"/><circle cx="424.9" cy="202.0" r="1.7" fill="#f0a264"/><circle cx="430.1" cy="185.0" r="1.7" fill="#cd4128"/><circle cx="405.0" cy="183.1" r="1.7" fill="#2b6aa7"/><circle cx="400.1" cy="213.2" r="1.7" fill="#5190c1"/><circle cx="385.4" cy="219.6" r="1.7" fill="#5493c3"/><circle cx="386.7" cy="186.8" r="1.7" fill="#da5f36"/><circle cx="409.7" cy="195.8" r="1.7" fill="#f5b375"/><circle cx="410.9" cy="181.2" r="1.7" fill="#2462a0"/><circle cx="380.6" cy="201.9" r="1.7" fill="#d65430"/><circle cx="369.5" cy="192.4" r="1.7" fill="#c53121"/><circle cx="385.9" cy="192.8" r="1.7" fill="#f3ab6d"/><circle cx="403.1" cy="214.5" r="1.7" fill="#fbdcae"/><circle cx="365.9" cy="197.3" r="1.7" fill="#eb8d53"/><circle cx="427.7" cy="183.3" r="1.7" fill="#c83723"/><circle cx="399.5" cy="219.9" r="1.7" fill="#f4f0e8"/><circle cx="402.2" cy="193.5" r="1.7" fill="#85bada"/><circle cx="375.4" cy="191.7" r="1.7" fill="#ca3b25"/><circle cx="412.4" cy="178.5" r="1.7" fill="#4586ba"/><circle cx="387.6" cy="182.6" r="1.7" fill="#2663a2"/><circle cx="419.5" cy="177.9" r="1.7" fill="#5897c6"/><circle cx="394.6" cy="173.6" r="1.7" fill="#2766a3"/><circle cx="430.0" cy="205.9" r="1.7" fill="#5796c5"/><circle cx="392.5" cy="208.8" r="1.7" fill="#d3e7ee"/><circle cx="433.4" cy="205.8" r="1.7" fill="#ef9b5d"/><circle cx="408.7" cy="211.5" r="1.7" fill="#3f80b6"/><circle cx="415.8" cy="178.7" r="1.7" fill="#3070ac"/><circle cx="411.6" cy="224.3" r="1.7" fill="#4485ba"/><circle cx="412.1" cy="205.0" r="1.7" fill="#4c8cbf"/><circle cx="432.3" cy="195.5" r="1.7" fill="#d75632"/><circle cx="431.8" cy="199.6" r="1.7" fill="#c53221"/><circle cx="386.0" cy="176.8" r="1.7" fill="#2563a1"/><circle cx="421.2" cy="196.3" r="1.7" fill="#4b8bbe"/><circle cx="369.7" cy="205.3" r="1.7" fill="#d1492b"/><circle cx="420.6" cy="192.1" r="1.7" fill="#3d7eb6"/><circle cx="387.2" cy="204.7" r="1.7" fill="#d95a34"/><circle cx="373.5" cy="212.9" r="1.7" fill="#d0472a"/><circle cx="371.0" cy="188.1" r="1.7" fill="#c0271c"/><circle cx="392.7" cy="205.2" r="1.7" fill="#2c6ca8"/><circle cx="419.5" cy="220.1" r="1.7" fill="#89bddc"/><circle cx="428.3" cy="222.7" r="1.7" fill="#f4b072"/><circle cx="395.0" cy="214.4" r="1.7" fill="#89bddc"/><circle cx="393.3" cy="185.1" r="1.7" fill="#d34e2e"/><circle cx="436.3" cy="204.5" r="1.7" fill="#3173ad"/><circle cx="407.0" cy="179.9" r="1.7" fill="#c93a24"/><circle cx="413.0" cy="218.4" r="1.7" fill="#8bbfdd"/><circle cx="405.2" cy="224.1" r="1.7" fill="#b2d7ea"/><circle cx="399.8" cy="175.6" r="1.7" fill="#3070ac"/><circle cx="417.9" cy="190.0" r="1.7" fill="#f9c589"/><circle cx="397.2" cy="188.5" r="1.7" fill="#4889bc"/><circle cx="392.8" cy="223.9" r="1.7" fill="#5494c3"/><circle cx="375.0" cy="194.9" r="1.7" fill="#d85933"/><circle cx="404.9" cy="218.6" r="1.7" fill="#b0d6e9"/><circle cx="428.9" cy="219.2" r="1.7" fill="#4787bb"/><circle cx="383.8" cy="187.5" r="1.7" fill="#3274ae"/><circle cx="407.7" cy="198.6" r="1.7" fill="#1f5897"/><circle cx="426.5" cy="205.3" r="1.7" fill="#efefeb"/><circle cx="404.8" cy="175.6" r="1.7" fill="#215c9b"/><circle cx="399.2" cy="191.1" r="1.7" fill="#df683b"/><circle cx="365.9" cy="203.7" r="1.7" fill="#f0a062"/><circle cx="380.6" cy="193.4" r="1.7" fill="#f5b476"/><circle cx="408.8" cy="187.3" r="1.7" fill="#1e5493"/><circle cx="392.1" cy="190.2" r="1.7" fill="#2c6ca8"/><circle cx="376.2" cy="204.6" r="1.7" fill="#e2703f"/><circle cx="360.7" cy="201.1" r="1.7" fill="#f0a062"/><circle cx="405.0" cy="203.9" r="1.7" fill="#7cb3d6"/><circle cx="402.3" cy="226.0" r="1.7" fill="#639fcb"/><circle cx="395.6" cy="206.1" r="1.7" fill="#7db4d7"/><circle cx="436.2" cy="216.8" r="1.7" fill="#9ecbe3"/><circle cx="371.9" cy="201.2" r="1.7" fill="#e37442"/><circle cx="434.2" cy="191.8" r="1.7" fill="#7bb2d6"/><circle cx="378.7" cy="188.4" r="1.7" fill="#ee9759"/><circle cx="405.0" cy="187.2" r="1.7" fill="#225e9d"/><circle cx="410.1" cy="173.2" r="1.7" fill="#2d6da9"/><circle cx="371.0" cy="197.5" r="1.7" fill="#c63321"/><circle cx="383.1" cy="199.3" r="1.7" fill="#c73522"/><circle cx="393.6" cy="218.6" r="1.7" fill="#4081b7"/><circle cx="380.5" cy="211.6" r="1.7" fill="#e37442"/><circle cx="420.1" cy="199.8" r="1.7" fill="#de673b"/><circle cx="430.4" cy="216.1" r="1.7" fill="#5e9bc8"/><circle cx="391.0" cy="197.0" r="1.7" fill="#dd6539"/><circle cx="430.6" cy="193.0" r="1.7" fill="#f8e4c5"/><circle cx="394.4" cy="197.9" r="1.7" fill="#2a69a6"/><circle cx="437.7" cy="210.5" r="1.7" fill="#3f80b6"/><circle cx="375.6" cy="215.8" r="1.7" fill="#c83723"/><circle cx="399.0" cy="224.9" r="1.7" fill="#ee9a5c"/><circle cx="398.3" cy="182.6" r="1.7" fill="#cd4027"/><circle cx="395.5" cy="192.8" r="1.7" fill="#2867a4"/><circle cx="408.8" cy="216.2" r="1.7" fill="#5f9cc9"/><circle cx="372.3" cy="193.2" r="1.7" fill="#e9874f"/><circle cx="409.0" cy="220.6" r="1.7" fill="#8bbedd"/><circle cx="389.0" cy="176.3" r="1.7" fill="#1d5291"/><circle cx="367.7" cy="209.3" r="1.7" fill="#d75732"/><circle cx="399.8" cy="208.2" r="1.7" fill="#f8c487"/><circle cx="387.5" cy="213.4" r="1.7" fill="#7cb3d6"/><circle cx="422.6" cy="179.7" r="1.7" fill="#d75732"/><circle cx="381.8" cy="175.1" r="1.7" fill="#4d8dbf"/><circle cx="416.0" cy="195.6" r="1.7" fill="#f2a769"/><circle cx="377.2" cy="177.4" r="1.7" fill="#db5f36"/><circle cx="388.2" cy="195.7" r="1.7" fill="#3678b1"/><circle cx="393.0" cy="212.3" r="1.7" fill="#97c6e1"/><circle cx="379.6" cy="184.8" r="1.7" fill="#e27140"/><circle cx="367.0" cy="188.1" r="1.7" fill="#c1291d"/><circle cx="377.1" cy="181.5" r="1.7" fill="#ec9356"/><circle cx="402.9" cy="179.1" r="1.7" fill="#1d5392"/><circle cx="417.5" cy="182.8" r="1.7" fill="#3274ae"/><circle cx="416.5" cy="214.5" r="1.7" fill="#609dc9"/><circle cx="393.7" cy="181.8" r="1.7" fill="#4283b9"/><circle cx="396.3" cy="178.0" r="1.7" fill="#3071ac"/><circle cx="400.8" cy="184.2" r="1.7" fill="#215d9c"/><circle cx="426.8" cy="211.6" r="1.7" fill="#facd94"/><circle cx="361.4" cy="196.0" r="1.7" fill="#df6a3c"/><circle cx="396.9" cy="222.8" r="1.7" fill="#f2a96b"/></g>
<g><circle cx="511.3" cy="182.1" r="1.7" fill="#d75732"/><circle cx="476.3" cy="216.2" r="1.7" fill="#3172ad"/><circle cx="514.4" cy="183.8" r="1.7" fill="#f1a264"/><circle cx="482.5" cy="229.5" r="1.7" fill="#85bada"/><circle cx="504.6" cy="163.7" r="1.7" fill="#d85833"/><circle cx="507.6" cy="211.9" r="1.7" fill="#d95b34"/><circle cx="489.6" cy="231.5" r="1.7" fill="#2c6ca8"/><circle cx="473.3" cy="199.1" r="1.7" fill="#2562a1"/><circle cx="525.2" cy="190.9" r="1.7" fill="#d5512f"/><circle cx="495.3" cy="223.2" r="1.7" fill="#397bb3"/><circle cx="508.1" cy="184.9" r="1.7" fill="#dd6439"/><circle cx="526.8" cy="210.9" r="1.7" fill="#f7be80"/><circle cx="487.9" cy="192.3" r="1.7" fill="#3e7fb6"/><circle cx="522.7" cy="180.7" r="1.7" fill="#e2713f"/><circle cx="505.1" cy="167.7" r="1.7" fill="#3476b0"/><circle cx="515.5" cy="194.7" r="1.7" fill="#ef9b5d"/><circle cx="486.7" cy="167.4" r="1.7" fill="#77afd4"/><circle cx="480.2" cy="174.0" r="1.7" fill="#3374af"/><circle cx="484.1" cy="197.3" r="1.7" fill="#fbd49d"/><circle cx="519.8" cy="218.4" r="1.7" fill="#f5b678"/><circle cx="511.3" cy="202.6" r="1.7" fill="#e57a46"/><circle cx="493.8" cy="235.7" r="1.7" fill="#205a99"/><circle cx="520.6" cy="213.6" r="1.7" fill="#f1a668"/><circle cx="517.9" cy="188.6" r="1.7" fill="#ef9d5f"/><circle cx="487.6" cy="200.1" r="1.7" fill="#a6d0e6"/><circle cx="476.9" cy="188.2" r="1.7" fill="#2a69a6"/><circle cx="475.9" cy="192.8" r="1.7" fill="#f6b97b"/><circle cx="490.8" cy="183.7" r="1.7" fill="#3e7fb6"/><circle cx="481.0" cy="182.2" r="1.7" fill="#69a4cd"/><circle cx="524.1" cy="213.5" r="1.7" fill="#e2ecec"/><circle cx="486.4" cy="181.2" r="1.7" fill="#f5b779"/><circle cx="516.2" cy="216.4" r="1.7" fill="#f0a163"/><circle cx="514.6" cy="207.0" r="1.7" fill="#fbd199"/><circle cx="515.9" cy="191.0" r="1.7" fill="#e2703f"/><circle cx="472.0" cy="191.2" r="1.7" fill="#5090c1"/><circle cx="518.0" cy="225.6" r="1.7" fill="#ee9659"/><circle cx="508.9" cy="219.2" r="1.7" fill="#3375af"/><circle cx="472.9" cy="202.8" r="1.7" fill="#f3ae70"/><circle cx="516.0" cy="229.6" r="1.7" fill="#d5e8ee"/><circle cx="483.6" cy="176.5" r="1.7" fill="#8abddc"/><circle cx="520.0" cy="198.0" r="1.7" fill="#de673a"/><circle cx="512.1" cy="169.3" r="1.7" fill="#dd653a"/><circle cx="519.8" cy="202.4" r="1.7" fill="#f4b274"/><circle cx="503.4" cy="181.1" r="1.7" fill="#ec9055"/><circle cx="528.0" cy="201.4" r="1.7" fill="#dc6238"/><circle cx="480.4" cy="188.5" r="1.7" fill="#f9c589"/><circle cx="481.3" cy="200.7" r="1.7" fill="#f8c386"/><circle cx="511.0" cy="188.8" r="1.7" fill="#d55330"/><circle cx="488.6" cy="227.8" r="1.7" fill="#8dc0de"/><circle cx="483.6" cy="169.8" r="1.7" fill="#3678b1"/><circle cx="521.5" cy="191.7" r="1.7" fill="#da5e36"/><circle cx="494.2" cy="178.1" r="1.7" fill="#3173ad"/><circle cx="483.9" cy="203.0" r="1.7" fill="#e8eeeb"/><circle cx="474.8" cy="205.0" r="1.7" fill="#72abd1"/><circle cx="524.2" cy="198.2" r="1.7" fill="#dd6439"/><circle cx="487.9" cy="211.5" r="1.7" fill="#81b7d8"/><circle cx="488.1" cy="219.0" r="1.7" fill="#3779b2"/><circle cx="513.2" cy="175.1" r="1.7" fill="#cd4128"/><circle cx="496.1" cy="175.8" r="1.7" fill="#3e7fb6"/><circle cx="506.2" cy="179.2" r="1.7" fill="#c93924"/><circle cx="494.1" cy="205.8" r="1.7" fill="#3071ac"/><circle cx="495.7" cy="169.8" r="1.7" fill="#2b6aa7"/><circle cx="521.8" cy="204.9" r="1.7" fill="#f0a264"/><circle cx="513.9" cy="171.9" r="1.7" fill="#e16d3d"/><circle cx="471.6" cy="206.4" r="1.7" fill="#5594c4"/><circle cx="505.1" cy="229.2" r="1.7" fill="#cc3e26"/><circle cx="479.2" cy="195.4" r="1.7" fill="#97c6e1"/><circle cx="506.7" cy="206.7" r="1.7" fill="#c32c1e"/><circle cx="493.6" cy="184.8" r="1.7" fill="#397ab3"/><circle cx="471.4" cy="196.6" r="1.7" fill="#3172ad"/><circle cx="502.3" cy="172.1" r="1.7" fill="#2967a5"/><circle cx="504.7" cy="213.3" r="1.7" fill="#de673a"/><circle cx="495.8" cy="209.8" r="1.7" fill="#2c6ca8"/><circle cx="489.4" cy="186.3" r="1.7" fill="#3071ac"/><circle cx="512.8" cy="228.8" r="1.7" fill="#e77f49"/><circle cx="527.9" cy="197.2" r="1.7" fill="#de683b"/><circle cx="521.1" cy="184.1" r="1.7" fill="#df6a3c"/><circle cx="506.2" cy="191.6" r="1.7" fill="#cf4429"/><circle cx="525.1" cy="216.4" r="1.7" fill="#e47844"/><circle cx="473.1" cy="213.7" r="1.7" fill="#6ea8d0"/><circle cx="519.3" cy="210.6" r="1.7" fill="#e37442"/><circle cx="524.5" cy="184.9" r="1.7" fill="#e37240"/><circle cx="503.7" cy="176.8" r="1.7" fill="#ce4328"/><circle cx="486.9" cy="189.0" r="1.7" fill="#4b8bbe"/><circle cx="479.3" cy="191.5" r="1.7" fill="#f7be80"/><circle cx="491.6" cy="170.2" r="1.7" fill="#3273ae"/><circle cx="503.3" cy="204.4" r="1.7" fill="#d5512f"/><circle cx="478.0" cy="221.7" r="1.7" fill="#64a0cb"/><circle cx="477.2" cy="208.1" r="1.7" fill="#d3e7ee"/><circle cx="510.1" cy="233.2" r="1.7" fill="#c63221"/><circle cx="523.0" cy="219.6" r="1.7" fill="#fbdbab"/><circle cx="485.8" cy="215.4" r="1.7" fill="#6ba6ce"/><circle cx="512.1" cy="223.2" r="1.7" fill="#e7824b"/><circle cx="493.2" cy="174.1" r="1.7" fill="#2e6faa"/><circle cx="482.1" cy="185.4" r="1.7" fill="#397bb3"/><circle cx="512.2" cy="199.3" r="1.7" fill="#e06c3d"/><circle cx="494.7" cy="167.1" r="1.7" fill="#205a99"/><circle cx="485.2" cy="225.4" r="1.7" fill="#5c9ac8"/><circle cx="520.0" cy="176.9" r="1.7" fill="#c43020"/><circle cx="509.3" cy="172.4" r="1.7" fill="#d1492b"/><circle cx="475.2" cy="210.3" r="1.7" fill="#69a4cd"/><circle cx="485.9" cy="185.4" r="1.7" fill="#f3ab6d"/><circle cx="491.4" cy="179.5" r="1.7" fill="#2765a3"/><circle cx="507.5" cy="164.3" r="1.7" fill="#c63221"/><circle cx="487.9" cy="177.9" r="1.7" fill="#3375af"/><circle cx="477.2" cy="197.9" r="1.7" fill="#5191c1"/><circle cx="496.6" cy="216.2" r="1.7" fill="#2e6faa"/><circle cx="478.4" cy="211.8" r="1.7" fill="#dfebed"/><circle cx="504.3" cy="232.1" r="1.7" fill="#3172ad"/><circle cx="474.7" cy="219.6" r="1.7" fill="#3273ae"/><circle cx="503.9" cy="226.1" r="1.7" fill="#225f9e"/><circle cx="486.0" cy="230.5" r="1.7" fill="#5493c3"/><circle cx="481.4" cy="226.4" r="1.7" fill="#6ba6ce"/><circle cx="510.3" cy="206.3" r="1.7" fill="#cd4128"/><circle cx="492.5" cy="224.6" r="1.7" fill="#2e6faa"/><circle cx="484.0" cy="212.0" r="1.7" fill="#f8e4c5"/><circle cx="522.7" cy="201.0" r="1.7" fill="#d65531"/><circle cx="493.5" cy="230.6" r="1.7" fill="#2b6aa7"/><circle cx="494.0" cy="163.2" r="1.7" fill="#2461a0"/><circle cx="507.2" cy="225.9" r="1.7" fill="#2b6ba7"/><circle cx="513.6" cy="220.5" r="1.7" fill="#fbd39d"/><circle cx="506.6" cy="175.7" r="1.7" fill="#c0271c"/><circle cx="508.2" cy="181.9" r="1.7" fill="#d55230"/><circle cx="516.9" cy="220.2" r="1.7" fill="#f9c589"/><circle cx="492.9" cy="202.3" r="1.7" fill="#2d6da9"/><circle cx="503.9" cy="188.9" r="1.7" fill="#2e6eaa"/><circle cx="526.1" cy="205.4" r="1.7" fill="#cf4429"/><circle cx="489.2" cy="174.6" r="1.7" fill="#215c9b"/><circle cx="516.1" cy="199.7" r="1.7" fill="#e7804a"/><circle cx="511.6" cy="191.8" r="1.7" fill="#d85933"/><circle cx="490.9" cy="164.7" r="1.7" fill="#2866a4"/><circle cx="513.2" cy="212.3" r="1.7" fill="#e5edec"/><circle cx="519.4" cy="179.9" r="1.7" fill="#d34d2d"/><circle cx="517.7" cy="183.1" r="1.7" fill="#e8854d"/><circle cx="507.5" cy="216.1" r="1.7" fill="#ce4228"/><circle cx="517.3" cy="172.7" r="1.7" fill="#f1a466"/><circle cx="489.7" cy="206.2" r="1.7" fill="#215b9a"/><circle cx="481.4" cy="205.7" r="1.7" fill="#4687bb"/><circle cx="481.6" cy="221.7" r="1.7" fill="#7eb5d7"/><circle cx="482.9" cy="172.6" r="1.7" fill="#2c6ca8"/><circle cx="509.3" cy="167.1" r="1.7" fill="#d24c2c"/><circle cx="477.5" cy="203.3" r="1.7" fill="#77afd4"/><circle cx="492.2" cy="233.2" r="1.7" fill="#2e6eaa"/><circle cx="522.9" cy="208.6" r="1.7" fill="#f1a365"/><circle cx="496.3" cy="199.5" r="1.7" fill="#2d6da9"/><circle cx="489.4" cy="214.3" r="1.7" fill="#1b4f8e"/><circle cx="515.1" cy="204.1" r="1.7" fill="#d5522f"/><circle cx="506.8" cy="235.0" r="1.7" fill="#c73522"/><circle cx="480.7" cy="214.1" r="1.7" fill="#d0e6ef"/><circle cx="520.4" cy="221.4" r="1.7" fill="#d85a33"/><circle cx="509.8" cy="177.6" r="1.7" fill="#cb3c26"/><circle cx="506.6" cy="200.5" r="1.7" fill="#c0271c"/><circle cx="495.7" cy="195.8" r="1.7" fill="#3374af"/><circle cx="512.5" cy="217.1" r="1.7" fill="#ea8950"/><circle cx="504.2" cy="195.7" r="1.7" fill="#3071ac"/><circle cx="502.3" cy="186.3" r="1.7" fill="#c73623"/><circle cx="515.2" cy="223.8" r="1.7" fill="#ef9b5d"/><circle cx="486.3" cy="222.6" r="1.7" fill="#7fb5d8"/><circle cx="502.1" cy="228.8" r="1.7" fill="#cd4128"/><circle cx="495.3" cy="228.0" r="1.7" fill="#2765a3"/><circle cx="491.1" cy="211.8" r="1.7" fill="#2461a0"/><circle cx="506.6" cy="222.7" r="1.7" fill="#cb3e26"/><circle cx="502.1" cy="211.1" r="1.7" fill="#ce4328"/><circle cx="503.1" cy="220.0" r="1.7" fill="#d34e2d"/><circle cx="492.6" cy="215.9" r="1.7" fill="#225d9c"/><circle cx="478.4" cy="180.8" r="1.7" fill="#6fa9d0"/><circle cx="495.6" cy="192.0" r="1.7" fill="#3577b0"/><circle cx="479.9" cy="177.0" r="1.7" fill="#8cc0de"/><circle cx="474.9" cy="185.2" r="1.7" fill="#4081b7"/><circle cx="521.5" cy="188.3" r="1.7" fill="#df693b"/></g>
<g><circle cx="582.7" cy="191.8" r="1.7" fill="#db5f36"/><circle cx="615.3" cy="225.0" r="1.7" fill="#215c9b"/><circle cx="580.7" cy="217.9" r="1.7" fill="#3273ae"/><circle cx="570.8" cy="180.1" r="1.7" fill="#d65330"/><circle cx="570.2" cy="196.6" r="1.7" fill="#2562a1"/><circle cx="557.5" cy="194.0" r="1.7" fill="#5c9ac7"/><circle cx="561.0" cy="195.7" r="1.7" fill="#2c6ca8"/><circle cx="597.8" cy="210.6" r="1.7" fill="#ee9759"/><circle cx="602.5" cy="187.9" r="1.7" fill="#f6b87a"/><circle cx="568.6" cy="216.5" r="1.7" fill="#f5eddf"/><circle cx="616.5" cy="200.5" r="1.7" fill="#2563a1"/><circle cx="601.1" cy="197.7" r="1.7" fill="#2866a4"/><circle cx="588.4" cy="225.7" r="1.7" fill="#f4b072"/><circle cx="553.0" cy="214.0" r="1.7" fill="#d34d2d"/><circle cx="588.8" cy="222.6" r="1.7" fill="#3475b0"/><circle cx="555.9" cy="196.7" r="1.7" fill="#ee985a"/><circle cx="603.5" cy="227.4" r="1.7" fill="#eb8d52"/><circle cx="588.2" cy="202.9" r="1.7" fill="#fbd29c"/><circle cx="608.0" cy="188.9" r="1.7" fill="#de663a"/><circle cx="594.9" cy="196.3" r="1.7" fill="#ec9155"/><circle cx="556.5" cy="212.4" r="1.7" fill="#e7814a"/><circle cx="577.5" cy="190.8" r="1.7" fill="#d44f2e"/><circle cx="564.4" cy="212.4" r="1.7" fill="#2967a5"/><circle cx="548.7" cy="209.6" r="1.7" fill="#f5eee2"/><circle cx="605.1" cy="195.6" r="1.7" fill="#cc3e26"/><circle cx="551.2" cy="200.1" r="1.7" fill="#215c9b"/><circle cx="591.3" cy="226.7" r="1.7" fill="#f1a365"/><circle cx="588.8" cy="186.8" r="1.7" fill="#da5e36"/><circle cx="586.8" cy="205.9" r="1.7" fill="#ec9055"/><circle cx="571.3" cy="219.3" r="1.7" fill="#3678b1"/><circle cx="569.2" cy="199.3" r="1.7" fill="#2e6eaa"/><circle cx="618.1" cy="192.4" r="1.7" fill="#edefeb"/><circle cx="565.3" cy="200.4" r="1.7" fill="#3274ae"/><circle cx="561.5" cy="186.9" r="1.7" fill="#2461a0"/><circle cx="579.9" cy="225.4" r="1.7" fill="#6da7cf"/><circle cx="598.0" cy="214.4" r="1.7" fill="#74add3"/><circle cx="615.2" cy="207.2" r="1.7" fill="#5292c2"/><circle cx="622.8" cy="206.8" r="1.7" fill="#cf4429"/><circle cx="552.9" cy="205.9" r="1.7" fill="#5c9ac7"/><circle cx="583.1" cy="227.7" r="1.7" fill="#e67d48"/><circle cx="558.2" cy="201.6" r="1.7" fill="#80b6d8"/><circle cx="601.8" cy="206.8" r="1.7" fill="#d34c2d"/><circle cx="606.3" cy="191.7" r="1.7" fill="#2e6eaa"/><circle cx="600.9" cy="182.4" r="1.7" fill="#c73522"/><circle cx="561.7" cy="210.6" r="1.7" fill="#2e6eaa"/><circle cx="608.9" cy="207.3" r="1.7" fill="#2462a0"/><circle cx="582.3" cy="198.3" r="1.7" fill="#2b6ba7"/><circle cx="599.2" cy="202.7" r="1.7" fill="#2b6ba7"/><circle cx="563.9" cy="203.9" r="1.7" fill="#2461a0"/><circle cx="579.3" cy="201.2" r="1.7" fill="#ee995b"/><circle cx="616.5" cy="217.4" r="1.7" fill="#a3cee5"/><circle cx="572.8" cy="205.2" r="1.7" fill="#3071ac"/><circle cx="576.1" cy="207.1" r="1.7" fill="#3577b0"/><circle cx="597.9" cy="207.5" r="1.7" fill="#2866a4"/><circle cx="613.8" cy="188.0" r="1.7" fill="#d85833"/><circle cx="565.3" cy="219.9" r="1.7" fill="#c53221"/><circle cx="587.6" cy="191.1" r="1.7" fill="#e3ecec"/><circle cx="598.1" cy="226.8" r="1.7" fill="#c83823"/><circle cx="577.2" cy="187.6" r="1.7" fill="#da5d35"/><circle cx="592.9" cy="215.3" r="1.7" fill="#f8c082"/><circle cx="580.0" cy="215.0" r="1.7" fill="#cc3f27"/><circle cx="573.1" cy="221.7" r="1.7" fill="#225d9c"/><circle cx="586.1" cy="198.0" r="1.7" fill="#e7804a"/><circle cx="590.5" cy="179.4" r="1.7" fill="#ddeaed"/><circle cx="622.0" cy="217.2" r="1.7" fill="#a1cce4"/><circle cx="597.3" cy="192.5" r="1.7" fill="#ed9558"/><circle cx="590.0" cy="206.4" r="1.7" fill="#619eca"/><circle cx="564.8" cy="196.2" r="1.7" fill="#2b6ba7"/><circle cx="578.1" cy="211.3" r="1.7" fill="#225e9d"/><circle cx="554.1" cy="190.5" r="1.7" fill="#ec9054"/><circle cx="592.5" cy="208.4" r="1.7" fill="#e9864e"/><circle cx="552.6" cy="210.1" r="1.7" fill="#67a3cc"/><circle cx="576.5" cy="202.8" r="1.7" fill="#dd6439"/><circle cx="570.0" cy="188.7" r="1.7" fill="#f8e5c9"/><circle cx="615.3" cy="210.5" r="1.7" fill="#f9c68b"/><circle cx="569.6" cy="183.5" r="1.7" fill="#facf97"/><circle cx="586.0" cy="175.5" r="1.7" fill="#3173ad"/><circle cx="578.6" cy="197.6" r="1.7" fill="#fcdaa9"/><circle cx="557.8" cy="187.3" r="1.7" fill="#e7824b"/><circle cx="574.1" cy="193.2" r="1.7" fill="#ee995b"/><circle cx="564.2" cy="192.7" r="1.7" fill="#ec9055"/><circle cx="613.3" cy="215.7" r="1.7" fill="#d75632"/><circle cx="604.2" cy="198.7" r="1.7" fill="#d75631"/><circle cx="580.3" cy="180.1" r="1.7" fill="#e16f3e"/><circle cx="584.2" cy="221.6" r="1.7" fill="#f9c78c"/><circle cx="625.4" cy="210.1" r="1.7" fill="#e37341"/><circle cx="583.2" cy="211.2" r="1.7" fill="#3f80b6"/><circle cx="617.7" cy="195.3" r="1.7" fill="#205998"/><circle cx="572.5" cy="202.3" r="1.7" fill="#f6b97b"/><circle cx="600.9" cy="223.0" r="1.7" fill="#23609f"/><circle cx="569.4" cy="212.5" r="1.7" fill="#3172ad"/><circle cx="561.3" cy="201.3" r="1.7" fill="#3375af"/><circle cx="610.1" cy="182.3" r="1.7" fill="#2b6aa7"/><circle cx="573.0" cy="187.3" r="1.7" fill="#ea8b51"/><circle cx="576.4" cy="220.4" r="1.7" fill="#2a69a6"/><circle cx="622.5" cy="199.8" r="1.7" fill="#c0271c"/><circle cx="562.9" cy="184.1" r="1.7" fill="#4586ba"/><circle cx="585.7" cy="187.4" r="1.7" fill="#ce4429"/><circle cx="581.2" cy="186.3" r="1.7" fill="#e37240"/><circle cx="619.5" cy="200.7" r="1.7" fill="#4384b9"/><circle cx="590.2" cy="199.2" r="1.7" fill="#3476b0"/><circle cx="620.1" cy="197.5" r="1.7" fill="#bedfee"/><circle cx="589.9" cy="212.4" r="1.7" fill="#e57945"/><circle cx="598.0" cy="198.0" r="1.7" fill="#e27240"/><circle cx="582.9" cy="177.2" r="1.7" fill="#87bbdb"/><circle cx="558.9" cy="198.4" r="1.7" fill="#c0271c"/><circle cx="601.9" cy="219.6" r="1.7" fill="#5e9cc8"/><circle cx="596.8" cy="186.7" r="1.7" fill="#2b6aa7"/><circle cx="568.9" cy="191.6" r="1.7" fill="#2766a3"/><circle cx="585.7" cy="183.4" r="1.7" fill="#ed9658"/><circle cx="562.0" cy="218.7" r="1.7" fill="#d34e2e"/><circle cx="611.0" cy="199.7" r="1.7" fill="#f1a567"/><circle cx="548.6" cy="206.2" r="1.7" fill="#2867a4"/><circle cx="607.1" cy="184.0" r="1.7" fill="#5090c1"/><circle cx="608.5" cy="219.1" r="1.7" fill="#3173ad"/><circle cx="574.5" cy="190.1" r="1.7" fill="#d24c2d"/><circle cx="574.1" cy="225.5" r="1.7" fill="#205998"/><circle cx="562.9" cy="215.1" r="1.7" fill="#f0a163"/><circle cx="567.7" cy="202.4" r="1.7" fill="#2d6da9"/><circle cx="566.5" cy="210.4" r="1.7" fill="#65a1cb"/><circle cx="596.2" cy="223.7" r="1.7" fill="#c4e2f0"/><circle cx="596.3" cy="183.2" r="1.7" fill="#c73522"/><circle cx="592.9" cy="220.1" r="1.7" fill="#e27140"/><circle cx="575.0" cy="178.0" r="1.7" fill="#cb3d26"/><circle cx="581.5" cy="207.8" r="1.7" fill="#f4b173"/><circle cx="613.3" cy="197.2" r="1.7" fill="#facc93"/><circle cx="557.8" cy="217.1" r="1.7" fill="#cf4429"/><circle cx="593.3" cy="183.5" r="1.7" fill="#e37240"/><circle cx="609.6" cy="215.7" r="1.7" fill="#2a69a6"/><circle cx="608.2" cy="197.0" r="1.7" fill="#2866a4"/><circle cx="611.6" cy="224.9" r="1.7" fill="#ce4329"/><circle cx="547.6" cy="203.1" r="1.7" fill="#2461a0"/><circle cx="587.3" cy="179.8" r="1.7" fill="#2664a2"/><circle cx="558.1" cy="190.4" r="1.7" fill="#deebed"/><circle cx="623.0" cy="220.0" r="1.7" fill="#cfe6ef"/><circle cx="578.0" cy="223.0" r="1.7" fill="#3071ac"/><circle cx="569.4" cy="223.1" r="1.7" fill="#c83723"/><circle cx="573.9" cy="199.0" r="1.7" fill="#d75632"/><circle cx="605.7" cy="204.2" r="1.7" fill="#6ea8d0"/><circle cx="566.0" cy="224.2" r="1.7" fill="#f0a163"/><circle cx="604.9" cy="212.6" r="1.7" fill="#3273ae"/><circle cx="584.0" cy="205.1" r="1.7" fill="#84b9da"/><circle cx="594.1" cy="204.9" r="1.7" fill="#8dc0de"/><circle cx="577.8" cy="182.6" r="1.7" fill="#e6edec"/><circle cx="605.9" cy="220.4" r="1.7" fill="#84b9da"/><circle cx="594.2" cy="189.2" r="1.7" fill="#dae9ed"/><circle cx="609.6" cy="211.2" r="1.7" fill="#d4512f"/><circle cx="608.2" cy="202.4" r="1.7" fill="#ec9055"/><circle cx="618.4" cy="211.3" r="1.7" fill="#f3ac6e"/><circle cx="573.3" cy="211.3" r="1.7" fill="#c93a24"/></g>
<text x="355.9" y="41.8" font-size="9.5" font-style="italic" fill="#1e1e1e">v<tspan font-size="6.6" font-style="normal" dy="1.9">1</tspan></text>
<text x="546.4" y="41.8" font-size="9.5" font-style="italic" fill="#1e1e1e">v<tspan font-size="6.6" font-style="normal" dy="1.9">2</tspan></text>
<text x="355.7" y="157.4" font-size="9.5" font-style="italic" fill="#1e1e1e">v<tspan font-size="6.6" font-style="normal" dy="1.9">3</tspan></text>
<text x="546.4" y="157.4" font-size="9.5" font-style="italic" fill="#1e1e1e">v<tspan font-size="6.6" font-style="normal" dy="1.9">4</tspan></text>
<defs><linearGradient id="cb1" x1="0" y1="1" x2="0" y2="0"><stop offset="0.000" stop-color="#1b4f8e"/><stop offset="0.050" stop-color="#1f5896"/><stop offset="0.100" stop-color="#23609f"/><stop offset="0.150" stop-color="#2c6ba8"/><stop offset="0.200" stop-color="#3476b0"/><stop offset="0.250" stop-color="#4686ba"/><stop offset="0.300" stop-color="#5796c5"/><stop offset="0.350" stop-color="#72abd2"/><stop offset="0.400" stop-color="#8dc0de"/><stop offset="0.450" stop-color="#c5e3f0"/><stop offset="0.500" stop-color="#f4f1ea"/><stop offset="0.550" stop-color="#fcd9a5"/><stop offset="0.600" stop-color="#f8c183"/><stop offset="0.650" stop-color="#f3ac6e"/><stop offset="0.700" stop-color="#ee985a"/><stop offset="0.750" stop-color="#e8844c"/><stop offset="0.800" stop-color="#e2703f"/><stop offset="0.850" stop-color="#da5e36"/><stop offset="0.900" stop-color="#d24b2c"/><stop offset="0.950" stop-color="#c93924"/><stop offset="1.000" stop-color="#c0271c"/></linearGradient></defs>
<rect x="656.6" y="75.7" width="6.20" height="126.30" fill="url(#cb1)"/>
<text x="665.0" y="203.3" font-size="3.8" fill="#8a8a8a">0</text>
<text x="665.0" y="190.7" font-size="3.8" fill="#8a8a8a">0.1</text>
<text x="665.0" y="178.0" font-size="3.8" fill="#8a8a8a">0.2</text>
<text x="665.0" y="165.4" font-size="3.8" fill="#8a8a8a">0.3</text>
<text x="665.0" y="152.8" font-size="3.8" fill="#8a8a8a">0.4</text>
<text x="665.0" y="140.2" font-size="3.8" fill="#8a8a8a">0.5</text>
<text x="665.0" y="127.5" font-size="3.8" fill="#8a8a8a">0.6</text>
<text x="665.0" y="114.9" font-size="3.8" fill="#8a8a8a">0.7</text>
<text x="665.0" y="102.3" font-size="3.8" fill="#8a8a8a">0.8</text>
<text x="665.0" y="89.6" font-size="3.8" fill="#8a8a8a">0.9</text>
<text x="665.0" y="77.0" font-size="3.8" fill="#8a8a8a">1</text>
<text transform="translate(680.0,139.7) rotate(90)" font-size="7.9" text-anchor="middle" fill="#222">order by increasing values</text>
<path d="M119.6 311.6L117.0 314.1M119.6 311.6L123.7 306.6M119.6 311.6L116.0 310.6M119.6 311.6L124.7 309.8M119.6 311.6L123.5 316.5M119.6 311.6L118.9 306.5M119.6 311.6L119.5 316.2M119.6 311.6L122.4 313.2M157.3 343.4L151.5 342.0M157.3 343.4L155.0 345.9M157.3 343.4L156.0 336.8M157.3 343.4L158.4 348.2M104.7 363.0L101.4 359.7M104.7 363.0L108.3 366.2M104.7 363.0L107.8 360.2M104.7 363.0L101.9 365.1M139.0 309.1L133.8 310.9M139.0 309.1L133.4 305.4M139.0 309.1L140.6 312.4M139.0 309.1L136.8 312.5M139.0 309.1L144.6 313.5M101.4 359.7L99.2 356.4M101.4 359.7L105.0 355.7M101.4 359.7L101.9 365.1M101.4 359.7L98.1 359.8M153.4 365.8L155.9 359.9M153.4 365.8L150.9 368.1M153.4 365.8L148.2 364.5M153.4 365.8L152.0 359.9M146.8 329.4L150.2 329.3M146.8 329.4L145.3 325.1M146.8 329.4L149.1 334.3M146.8 329.4L145.5 334.3M109.3 357.3L108.3 353.2M109.3 357.3L107.8 360.2M109.3 357.3L111.4 360.0M109.3 357.3L105.0 355.7M134.3 333.9L138.5 330.6M134.3 333.9L131.5 336.4M134.3 333.9L137.5 334.1M134.3 333.9L134.5 338.8M112.7 315.9L116.2 317.9M112.7 315.9L117.0 314.1M112.7 315.9L111.6 311.7M112.7 315.9L108.1 314.7M112.7 315.9L112.2 320.9M104.0 334.7L101.1 336.3M104.0 334.7L97.9 334.4M104.0 334.7L103.1 329.9M104.0 334.7L107.2 339.0M104.0 334.7L106.2 332.0M104.0 334.7L107.7 335.1M148.0 337.9L144.5 338.5M148.0 337.9L148.2 341.3M148.0 337.9L149.1 334.3M148.0 337.9L152.3 338.3M148.0 337.9L145.5 334.3M102.8 322.2L105.3 317.9M102.8 322.2L108.8 319.8M102.8 322.2L106.3 322.6M102.8 322.2L104.7 327.1M144.4 365.4L148.2 364.5M144.4 365.4L140.4 362.0M144.4 365.4L145.8 359.5M144.4 365.4L142.2 359.0M144.4 365.4L140.8 367.5M144.4 365.4L143.4 369.4M155.9 359.9L157.4 353.0M155.9 359.9L152.0 359.9M155.9 359.9L155.5 356.6M145.8 372.8L150.9 368.1M145.8 372.8L143.7 375.3M145.8 372.8L140.3 374.7M145.8 372.8L147.9 370.2M145.8 372.8L143.4 369.4M153.7 327.4L152.4 324.4M153.7 327.4L150.2 329.3M153.7 327.4L148.6 323.7M153.7 327.4L155.4 330.5M101.1 336.3L97.9 334.4M101.1 336.3L99.0 330.1M101.1 336.3L102.3 339.3M101.1 336.3L99.1 338.7M97.9 334.4L99.0 330.1M97.9 334.4L99.1 338.7M98.4 348.2L96.2 344.8M98.4 348.2L100.2 352.4M98.4 348.2L96.6 353.3M98.4 348.2L102.5 347.1M150.9 368.1L148.2 364.5M150.9 368.1L147.9 370.2M116.2 317.9L117.0 314.1M116.2 317.9L119.5 316.2M116.2 317.9L112.2 320.9M99.2 356.4L100.2 352.4M99.2 356.4L96.6 353.3M99.2 356.4L98.1 359.8M117.0 314.1L116.0 310.6M117.0 314.1L119.5 316.2M117.0 314.1L111.6 311.7M144.5 317.5L143.1 321.9M144.5 317.5L140.1 315.9M144.5 317.5L147.9 320.3M144.5 317.5L144.6 313.5M141.4 378.9L137.3 377.5M141.4 378.9L135.6 381.6M141.4 378.9L143.7 375.3M141.4 378.9L140.3 374.7M121.5 378.2L125.8 377.2M121.5 378.2L122.0 381.6M121.5 378.2L117.8 375.6M121.5 378.2L116.9 380.9M137.3 377.5L135.6 381.6M137.3 377.5L135.0 374.3M137.3 377.5L140.3 374.7M137.3 377.5L132.8 378.8M108.3 353.2L105.0 355.7M108.3 353.2L104.2 350.4M108.3 353.2L114.5 352.6M105.3 317.9L108.8 319.8M105.3 317.9L106.3 322.6M105.3 317.9L108.1 314.7M117.1 325.2L121.4 321.1M117.1 325.2L111.7 324.2M117.1 325.2L113.8 330.0M117.1 325.2L117.0 331.6M117.1 325.2L121.4 324.5M108.3 366.2L111.9 368.7M108.3 366.2L107.8 360.2M108.3 366.2L106.0 369.6M108.3 366.2L101.9 365.1M130.5 309.7L133.8 310.9M130.5 309.7L124.7 309.8M130.5 309.7L133.4 305.4M130.5 309.7L130.7 314.1M128.1 380.3L125.8 377.2M128.1 380.3L130.0 376.6M128.1 380.3L122.0 381.6M128.1 380.3L131.3 381.8M128.1 380.3L132.8 378.8M148.2 364.5L152.0 359.9M148.2 364.5L145.8 359.5M148.2 364.5L147.9 370.2M111.9 368.7L106.0 369.6M111.9 368.7L109.7 374.0M111.9 368.7L114.1 371.4M111.9 368.7L114.5 362.9M103.3 343.2L98.6 342.1M103.3 343.2L109.4 345.0M103.3 343.2L102.3 339.3M103.3 343.2L102.5 347.1M103.3 343.2L107.2 339.0M119.7 362.8L115.7 358.6M119.7 362.8L124.6 365.1M119.7 362.8L123.7 358.3M119.7 362.8L114.5 362.9M119.7 362.8L121.5 366.9M138.5 330.6L133.1 326.1M138.5 330.6L141.3 334.2M138.5 330.6L136.5 325.3M138.5 330.6L137.5 334.1M138.5 330.6L140.9 326.2M123.7 306.6L124.7 309.8M123.7 306.6L118.9 306.5M123.7 306.6L122.4 313.2M107.8 360.2L111.4 360.0M107.8 360.2L105.0 355.7M138.8 322.6L143.1 321.9M138.8 322.6L133.1 326.1M138.8 322.6L136.5 325.3M138.8 322.6L140.9 326.2M138.8 322.6L134.6 318.7M113.8 374.7L109.7 374.0M113.8 374.7L115.0 377.9M113.8 374.7L114.1 371.4M113.8 374.7L117.8 375.6M153.1 349.5L157.4 353.0M153.1 349.5L155.0 345.9M153.1 349.5L148.4 345.8M153.1 349.5L158.4 348.2M153.1 349.5L150.3 351.8M96.2 344.8L98.6 342.1M96.2 344.8L102.5 347.1M96.2 344.8L99.1 338.7M129.2 361.2L135.2 360.3M129.2 361.2L130.3 356.5M129.2 361.2L123.7 358.3M129.2 361.2L128.6 364.8M129.2 361.2L126.1 362.1M151.5 342.0L155.0 345.9M151.5 342.0L148.2 341.3M151.5 342.0L148.4 345.8M151.5 342.0L152.3 338.3M157.4 353.0L158.4 348.2M157.4 353.0L155.5 356.6M143.1 321.9L147.9 320.3M143.1 321.9L145.3 325.1M143.1 321.9L148.6 323.7M143.1 321.9L140.9 326.2M125.0 372.6L127.2 370.0M125.0 372.6L125.8 377.2M125.0 372.6L128.3 373.3M125.0 372.6L122.3 370.6M130.9 348.8L130.1 342.2M130.9 348.8L133.8 351.4M130.9 348.8L127.7 348.4M130.9 348.8L135.3 348.6M130.9 348.8L126.1 353.3M116.0 310.6L118.9 306.5M116.0 310.6L111.6 311.7M127.2 370.0L128.3 373.3M127.2 370.0L130.2 368.8M127.2 370.0L122.3 370.6M115.7 358.6L111.4 360.0M115.7 358.6L114.5 352.6M115.7 358.6L114.5 362.9M135.6 381.6L131.3 381.8M135.6 381.6L132.8 378.8M144.5 344.3L144.5 338.5M144.5 344.3L148.2 341.3M144.5 344.3L148.4 345.8M144.5 344.3L138.5 344.2M131.5 336.4L130.1 342.2M131.5 336.4L137.5 334.1M131.5 336.4L134.5 338.8M133.8 310.9L133.4 305.4M133.8 310.9L136.8 312.5M133.8 310.9L130.7 314.1M108.8 319.8L111.7 324.2M108.8 319.8L106.3 322.6M108.8 319.8L108.1 314.7M108.8 319.8L112.2 320.9M106.0 369.6L109.7 374.0M106.0 369.6L101.9 365.1M107.9 326.3L111.7 324.2M107.9 326.3L106.3 322.6M107.9 326.3L104.7 327.1M107.9 326.3L106.2 332.0M125.8 377.2L130.0 376.6M125.8 377.2L122.0 381.6M125.8 377.2L128.3 373.3M135.2 360.3L140.4 362.0M135.2 360.3L130.3 356.5M135.2 360.3L135.3 354.8M135.2 360.3L137.3 365.3M135.2 360.3L137.1 357.6M99.0 330.1L103.1 329.9M99.0 330.1L104.7 327.1M135.0 374.3L140.3 374.7M135.0 374.3L133.0 371.2M135.0 374.3L132.8 378.8M134.6 367.6L133.0 371.2M134.6 367.6L140.8 367.5M134.6 367.6L130.2 368.8M134.6 367.6L137.3 365.3M140.4 362.0L142.2 359.0M140.4 362.0L140.8 367.5M140.4 362.0L137.3 365.3M140.4 362.0L137.1 357.6M118.6 369.6L114.1 371.4M118.6 369.6L117.8 375.6M118.6 369.6L122.3 370.6M118.6 369.6L121.5 366.9M152.4 324.4L147.9 320.3M152.4 324.4L150.2 329.3M152.4 324.4L148.6 323.7M136.9 315.8L140.1 315.9M136.9 315.8L140.6 312.4M136.9 315.8L131.4 317.7M136.9 315.8L136.8 312.5M136.9 315.8L134.6 318.7M124.5 344.8L130.1 342.2M124.5 344.8L127.7 348.4M124.5 344.8L120.3 345.0M124.5 344.8L123.0 350.2M130.0 376.6L128.3 373.3M130.0 376.6L131.3 381.8M130.0 376.6L132.8 378.8M98.6 342.1L102.3 339.3M98.6 342.1L99.1 338.7M117.3 339.7L112.7 336.5M117.3 339.7L123.0 335.9M117.3 339.7L116.5 343.3M117.3 339.7L120.3 345.0M117.3 339.7L119.5 336.9M152.0 359.9L149.9 355.2M152.0 359.9L155.5 356.6M111.4 360.0L114.5 362.9M109.7 374.0L114.1 371.4M100.2 352.4L96.6 353.3M100.2 352.4L104.2 350.4M100.2 352.4L102.5 347.1M105.0 355.7L104.2 350.4M143.7 375.3L140.3 374.7M143.7 375.3L139.9 371.3M112.7 336.5L110.5 331.8M112.7 336.5L107.2 339.0M112.7 336.5L107.7 335.1M124.7 309.8L118.9 306.5M124.7 309.8L122.4 313.2M130.3 356.5L135.3 354.8M130.3 356.5L126.1 353.3M110.5 331.8L113.8 330.0M110.5 331.8L106.2 332.0M110.5 331.8L107.7 335.1M133.4 305.4L136.8 312.5M152.6 334.3L149.1 334.3M152.6 334.3L156.0 336.8M152.6 334.3L152.3 338.3M152.6 334.3L157.0 333.5M152.6 334.3L155.4 330.5M155.0 345.9L158.4 348.2M123.0 335.9L117.0 331.6M123.0 335.9L122.1 331.0M123.0 335.9L119.5 336.9M121.4 321.1L123.5 316.5M121.4 321.1L119.5 316.2M121.4 321.1L121.4 324.5M123.5 316.5L119.5 316.2M123.5 316.5L122.4 313.2M111.7 324.2L113.8 330.0M111.7 324.2L112.2 320.9M144.5 338.5L148.2 341.3M144.5 338.5L140.3 338.5M144.5 338.5L145.5 334.3M145.8 359.5L142.2 359.0M145.8 359.5L149.9 355.2M115.0 377.9L114.1 371.4M115.0 377.9L117.8 375.6M115.0 377.9L116.9 380.9M106.3 322.6L104.7 327.1M144.4 352.4L138.8 348.5M144.4 352.4L142.2 359.0M144.4 352.4L149.9 355.2M144.4 352.4L150.3 351.8M130.6 322.3L133.1 326.1M130.6 322.3L136.5 325.3M130.6 322.3L131.4 317.7M130.6 322.3L134.6 318.7M138.8 348.5L133.8 351.4M138.8 348.5L138.5 344.2M138.8 348.5L135.3 348.6M96.6 353.3L98.1 359.8M124.6 365.1L128.6 364.8M124.6 365.1L126.1 362.1M124.6 365.1L121.5 366.9M116.6 347.7L116.5 343.3M116.6 347.7L114.5 352.6M116.6 347.7L120.3 345.0M116.6 347.7L119.7 353.0M116.6 347.7L113.5 348.9M122.0 381.6L116.9 380.9M140.1 315.9L140.6 312.4M140.1 315.9L136.8 312.5M140.1 315.9L144.6 313.5M130.1 342.2L134.5 338.8M147.9 320.3L145.3 325.1M147.9 320.3L148.6 323.7M133.1 326.1L136.5 325.3M148.2 341.3L148.4 345.8M150.2 329.3L149.1 334.3M150.2 329.3L155.4 330.5M109.4 345.0L102.5 347.1M109.4 345.0L113.5 348.9M109.4 345.0L107.2 339.0M141.3 334.2L137.5 334.1M141.3 334.2L140.3 338.5M141.3 334.2L145.5 334.3M145.3 325.1L148.6 323.7M145.3 325.1L140.9 326.2M133.8 351.4L135.3 354.8M133.8 351.4L135.3 348.6M119.5 316.2L122.4 313.2M148.4 345.8L150.3 351.8M104.2 350.4L102.5 347.1M140.6 312.4L136.8 312.5M140.6 312.4L144.6 313.5M127.7 348.4L123.0 350.2M127.7 348.4L126.1 353.3M116.5 343.3L120.3 345.0M116.5 343.3L113.5 348.9M138.5 344.2L135.3 348.6M138.5 344.2L140.3 338.5M117.8 375.6L116.9 380.9M136.5 325.3L140.9 326.2M140.3 374.7L139.9 371.3M149.1 334.3L145.5 334.3M133.0 371.2L128.3 373.3M133.0 371.2L130.2 368.8M102.3 339.3L107.2 339.0M102.3 339.3L99.1 338.7M147.9 370.2L143.4 369.4M139.9 371.3L140.8 367.5M139.9 371.3L143.4 369.4M114.5 352.6L119.7 353.0M114.5 352.6L113.5 348.9M131.4 317.7L134.6 318.7M131.4 317.7L130.7 314.1M123.7 358.3L126.1 362.1M123.7 358.3L126.1 353.3M156.0 336.8L152.3 338.3M156.0 336.8L157.0 333.5M156.0 336.8L155.4 330.5M142.2 359.0L137.1 357.6M103.1 329.9L104.7 327.1M103.1 329.9L106.2 332.0M137.5 334.1L140.3 338.5M137.5 334.1L134.5 338.8M120.3 345.0L123.0 350.2M111.6 311.7L108.1 314.7M119.7 353.0L123.0 350.2M119.7 353.0L126.1 353.3M104.7 327.1L106.2 332.0M140.8 367.5L143.4 369.4M140.8 367.5L137.3 365.3M130.2 368.8L128.6 364.8M128.6 364.8L126.1 362.1M113.8 330.0L117.0 331.6M123.0 350.2L126.1 353.3M135.3 354.8L137.1 357.6M117.0 331.6L121.4 324.5M117.0 331.6L122.1 331.0M117.0 331.6L119.5 336.9M107.2 339.0L107.7 335.1M101.9 365.1L98.1 359.8M121.4 324.5L122.1 331.0M122.3 370.6L121.5 366.9M131.3 381.8L132.8 378.8M149.9 355.2L155.5 356.6M149.9 355.2L150.3 351.8M122.1 331.0L119.5 336.9M140.3 338.5L134.5 338.8M152.3 338.3L157.0 333.5M157.0 333.5L155.4 330.5M134.6 318.7L130.7 314.1M106.2 332.0L107.7 335.1" stroke="#9a9a9a" stroke-width="0.45" fill="none"/>
<g><circle cx="96.6" cy="353.3" r="1.7" fill="#1e5695"/><circle cx="145.5" cy="334.3" r="1.7" fill="#df683b"/><circle cx="105.3" cy="317.9" r="1.7" fill="#a3cde5"/><circle cx="158.4" cy="348.2" r="1.7" fill="#4787bb"/><circle cx="111.4" cy="360.0" r="1.7" fill="#70aad1"/><circle cx="133.0" cy="371.2" r="1.7" fill="#c0271c"/><circle cx="99.0" cy="330.1" r="1.7" fill="#d44f2e"/><circle cx="151.5" cy="342.0" r="1.7" fill="#5997c6"/><circle cx="123.7" cy="306.6" r="1.7" fill="#e27140"/><circle cx="129.2" cy="361.2" r="1.7" fill="#c83723"/><circle cx="130.9" cy="348.8" r="1.7" fill="#d0472a"/><circle cx="156.0" cy="336.8" r="1.7" fill="#e67d48"/><circle cx="139.9" cy="371.3" r="1.7" fill="#f2a86a"/><circle cx="146.8" cy="329.4" r="1.7" fill="#fbd6a0"/><circle cx="113.8" cy="330.0" r="1.7" fill="#ef9b5d"/><circle cx="117.0" cy="314.1" r="1.7" fill="#77afd4"/><circle cx="101.4" cy="359.7" r="1.7" fill="#3071ac"/><circle cx="155.9" cy="359.9" r="1.7" fill="#4585ba"/><circle cx="138.8" cy="348.5" r="1.7" fill="#e26f3f"/><circle cx="98.6" cy="342.1" r="1.7" fill="#f0f0eb"/><circle cx="115.7" cy="358.6" r="1.7" fill="#2765a3"/><circle cx="125.0" cy="372.6" r="1.7" fill="#c0271c"/><circle cx="122.4" cy="313.2" r="1.7" fill="#7cb3d6"/><circle cx="153.4" cy="365.8" r="1.7" fill="#facf96"/><circle cx="100.2" cy="352.4" r="1.7" fill="#1f5796"/><circle cx="132.8" cy="378.8" r="1.7" fill="#6da7cf"/><circle cx="106.3" cy="322.6" r="1.7" fill="#f3ae70"/><circle cx="118.9" cy="306.5" r="1.7" fill="#d44f2e"/><circle cx="144.5" cy="317.5" r="1.7" fill="#3b7cb4"/><circle cx="101.1" cy="336.3" r="1.7" fill="#eb8d53"/><circle cx="123.0" cy="335.9" r="1.7" fill="#c53120"/><circle cx="153.1" cy="349.5" r="1.7" fill="#3779b2"/><circle cx="131.3" cy="381.8" r="1.7" fill="#e8edec"/><circle cx="157.0" cy="333.5" r="1.7" fill="#df6a3c"/><circle cx="108.1" cy="314.7" r="1.7" fill="#f8e4c5"/><circle cx="113.5" cy="348.9" r="1.7" fill="#f2a86a"/><circle cx="135.3" cy="348.6" r="1.7" fill="#c0271c"/><circle cx="102.5" cy="347.1" r="1.7" fill="#8ec0de"/><circle cx="134.3" cy="333.9" r="1.7" fill="#d24b2c"/><circle cx="147.9" cy="370.2" r="1.7" fill="#2968a5"/><circle cx="119.7" cy="353.0" r="1.7" fill="#c53121"/><circle cx="112.2" cy="320.9" r="1.7" fill="#e2703f"/><circle cx="133.4" cy="305.4" r="1.7" fill="#e47542"/><circle cx="145.8" cy="359.5" r="1.7" fill="#1f5695"/><circle cx="122.1" cy="331.0" r="1.7" fill="#c0271c"/><circle cx="140.3" cy="338.5" r="1.7" fill="#db6137"/><circle cx="152.6" cy="334.3" r="1.7" fill="#f2aa6c"/><circle cx="108.3" cy="353.2" r="1.7" fill="#2866a4"/><circle cx="116.9" cy="380.9" r="1.7" fill="#1e5695"/><circle cx="106.0" cy="369.6" r="1.7" fill="#1b4f8e"/><circle cx="123.5" cy="316.5" r="1.7" fill="#88bcdb"/><circle cx="149.9" cy="355.2" r="1.7" fill="#3a7cb4"/><circle cx="147.9" cy="320.3" r="1.7" fill="#d24c2d"/><circle cx="112.7" cy="336.5" r="1.7" fill="#ed9658"/><circle cx="109.3" cy="357.3" r="1.7" fill="#f8bf81"/><circle cx="96.2" cy="344.8" r="1.7" fill="#5f9cc9"/><circle cx="107.7" cy="335.1" r="1.7" fill="#e9874e"/><circle cx="102.3" cy="339.3" r="1.7" fill="#397bb3"/><circle cx="101.9" cy="365.1" r="1.7" fill="#397bb3"/><circle cx="136.5" cy="325.3" r="1.7" fill="#d24a2c"/><circle cx="134.5" cy="338.8" r="1.7" fill="#c0271c"/><circle cx="150.9" cy="368.1" r="1.7" fill="#2f6fab"/><circle cx="141.3" cy="334.2" r="1.7" fill="#ee995b"/><circle cx="103.3" cy="343.2" r="1.7" fill="#95c5e1"/><circle cx="111.9" cy="368.7" r="1.7" fill="#7ab1d5"/><circle cx="140.3" cy="374.7" r="1.7" fill="#2562a1"/><circle cx="130.7" cy="314.1" r="1.7" fill="#f2a769"/><circle cx="110.5" cy="331.8" r="1.7" fill="#e7824b"/><circle cx="148.6" cy="323.7" r="1.7" fill="#e67e49"/><circle cx="104.2" cy="350.4" r="1.7" fill="#3375af"/><circle cx="115.0" cy="377.9" r="1.7" fill="#215c9b"/><circle cx="142.2" cy="359.0" r="1.7" fill="#f7be80"/><circle cx="116.6" cy="347.7" r="1.7" fill="#c0271c"/><circle cx="124.7" cy="309.8" r="1.7" fill="#e8844c"/><circle cx="144.6" cy="313.5" r="1.7" fill="#85b9da"/><circle cx="140.6" cy="312.4" r="1.7" fill="#d95b34"/><circle cx="150.3" cy="351.8" r="1.7" fill="#f8c385"/><circle cx="119.6" cy="311.6" r="1.7" fill="#f9ca8f"/><circle cx="117.8" cy="375.6" r="1.7" fill="#2e6eaa"/><circle cx="152.4" cy="324.4" r="1.7" fill="#f2a769"/><circle cx="123.7" cy="358.3" r="1.7" fill="#d34d2d"/><circle cx="106.2" cy="332.0" r="1.7" fill="#f5b375"/><circle cx="127.2" cy="370.0" r="1.7" fill="#ce4328"/><circle cx="145.8" cy="372.8" r="1.7" fill="#2967a5"/><circle cx="133.1" cy="326.1" r="1.7" fill="#d0472a"/><circle cx="137.3" cy="365.3" r="1.7" fill="#d75732"/><circle cx="152.0" cy="359.9" r="1.7" fill="#6ea8d0"/><circle cx="108.8" cy="319.8" r="1.7" fill="#d85a33"/><circle cx="137.3" cy="377.5" r="1.7" fill="#215c9b"/><circle cx="144.4" cy="365.4" r="1.7" fill="#f4b072"/><circle cx="135.0" cy="374.3" r="1.7" fill="#b3d8ea"/><circle cx="135.6" cy="381.6" r="1.7" fill="#2461a0"/><circle cx="134.6" cy="318.7" r="1.7" fill="#f8e5c7"/><circle cx="99.1" cy="338.7" r="1.7" fill="#2664a2"/><circle cx="138.5" cy="344.2" r="1.7" fill="#e67e49"/><circle cx="155.0" cy="345.9" r="1.7" fill="#f9c589"/><circle cx="131.5" cy="336.4" r="1.7" fill="#d65531"/><circle cx="130.0" cy="376.6" r="1.7" fill="#88bcdc"/><circle cx="97.9" cy="334.4" r="1.7" fill="#e9864e"/><circle cx="126.1" cy="353.3" r="1.7" fill="#c0271c"/><circle cx="111.6" cy="311.7" r="1.7" fill="#4687bb"/><circle cx="107.2" cy="339.0" r="1.7" fill="#ed9558"/><circle cx="130.1" cy="342.2" r="1.7" fill="#c0271c"/><circle cx="155.5" cy="356.6" r="1.7" fill="#1e5695"/><circle cx="130.6" cy="322.3" r="1.7" fill="#cc3f27"/><circle cx="113.8" cy="374.7" r="1.7" fill="#1b4f8e"/><circle cx="148.0" cy="337.9" r="1.7" fill="#5291c2"/><circle cx="140.1" cy="315.9" r="1.7" fill="#5090c1"/><circle cx="128.1" cy="380.3" r="1.7" fill="#1f5796"/><circle cx="121.4" cy="324.5" r="1.7" fill="#d0472a"/><circle cx="157.4" cy="353.0" r="1.7" fill="#7cb3d6"/><circle cx="105.0" cy="355.7" r="1.7" fill="#e9eeeb"/><circle cx="119.5" cy="316.2" r="1.7" fill="#5493c3"/><circle cx="120.3" cy="345.0" r="1.7" fill="#c0271c"/><circle cx="131.4" cy="317.7" r="1.7" fill="#e67d48"/><circle cx="133.8" cy="310.9" r="1.7" fill="#bbdded"/><circle cx="136.9" cy="315.8" r="1.7" fill="#c0271c"/><circle cx="124.6" cy="365.1" r="1.7" fill="#cd4228"/><circle cx="148.2" cy="341.3" r="1.7" fill="#fbd39c"/><circle cx="107.9" cy="326.3" r="1.7" fill="#e2703f"/><circle cx="125.8" cy="377.2" r="1.7" fill="#5191c2"/><circle cx="145.3" cy="325.1" r="1.7" fill="#f0a163"/><circle cx="128.6" cy="364.8" r="1.7" fill="#d24c2c"/><circle cx="116.5" cy="343.3" r="1.7" fill="#c0271c"/><circle cx="136.8" cy="312.5" r="1.7" fill="#e16d3d"/><circle cx="109.7" cy="374.0" r="1.7" fill="#5493c3"/><circle cx="117.0" cy="331.6" r="1.7" fill="#c0271c"/><circle cx="144.4" cy="352.4" r="1.7" fill="#1b4f8e"/><circle cx="118.6" cy="369.6" r="1.7" fill="#c83823"/><circle cx="138.5" cy="330.6" r="1.7" fill="#f09f61"/><circle cx="134.6" cy="367.6" r="1.7" fill="#c0271c"/><circle cx="119.7" cy="362.8" r="1.7" fill="#c1281c"/><circle cx="117.3" cy="339.7" r="1.7" fill="#c42e1f"/><circle cx="121.4" cy="321.1" r="1.7" fill="#ce4329"/><circle cx="135.2" cy="360.3" r="1.7" fill="#c73422"/><circle cx="133.8" cy="351.4" r="1.7" fill="#c0271c"/><circle cx="127.7" cy="348.4" r="1.7" fill="#d34e2e"/><circle cx="122.0" cy="381.6" r="1.7" fill="#7db4d7"/><circle cx="98.1" cy="359.8" r="1.7" fill="#5e9bc8"/><circle cx="148.4" cy="345.8" r="1.7" fill="#fcd9a6"/><circle cx="152.3" cy="338.3" r="1.7" fill="#1f5796"/><circle cx="137.1" cy="357.6" r="1.7" fill="#cd4128"/><circle cx="122.3" cy="370.6" r="1.7" fill="#d1492b"/><circle cx="153.7" cy="327.4" r="1.7" fill="#e27140"/><circle cx="150.2" cy="329.3" r="1.7" fill="#e37542"/><circle cx="103.1" cy="329.9" r="1.7" fill="#eb8e54"/><circle cx="140.8" cy="367.5" r="1.7" fill="#7db4d7"/><circle cx="137.5" cy="334.1" r="1.7" fill="#c1291d"/><circle cx="124.5" cy="344.8" r="1.7" fill="#c63322"/><circle cx="111.7" cy="324.2" r="1.7" fill="#e06b3d"/><circle cx="140.9" cy="326.2" r="1.7" fill="#e8844d"/><circle cx="107.8" cy="360.2" r="1.7" fill="#397bb3"/><circle cx="143.1" cy="321.9" r="1.7" fill="#e7814b"/><circle cx="144.5" cy="344.3" r="1.7" fill="#eb8e53"/><circle cx="121.5" cy="378.2" r="1.7" fill="#f7e9d4"/><circle cx="141.4" cy="378.9" r="1.7" fill="#3274ae"/><circle cx="128.3" cy="373.3" r="1.7" fill="#2968a5"/><circle cx="116.2" cy="317.9" r="1.7" fill="#e06b3c"/><circle cx="148.2" cy="364.5" r="1.7" fill="#215b9a"/><circle cx="121.5" cy="366.9" r="1.7" fill="#c0281c"/><circle cx="139.0" cy="309.1" r="1.7" fill="#ee9759"/><circle cx="112.7" cy="315.9" r="1.7" fill="#ec9256"/><circle cx="104.0" cy="334.7" r="1.7" fill="#f1a668"/><circle cx="99.2" cy="356.4" r="1.7" fill="#5695c4"/><circle cx="126.1" cy="362.1" r="1.7" fill="#cd4228"/><circle cx="114.5" cy="362.9" r="1.7" fill="#215d9c"/><circle cx="114.5" cy="352.6" r="1.7" fill="#4182b8"/><circle cx="143.4" cy="369.4" r="1.7" fill="#c8e4f0"/><circle cx="130.5" cy="309.7" r="1.7" fill="#4485ba"/><circle cx="119.5" cy="336.9" r="1.7" fill="#d0462a"/><circle cx="144.5" cy="338.5" r="1.7" fill="#e06b3c"/><circle cx="138.8" cy="322.6" r="1.7" fill="#ee995b"/><circle cx="116.0" cy="310.6" r="1.7" fill="#f1a365"/><circle cx="123.0" cy="350.2" r="1.7" fill="#d44f2e"/><circle cx="149.1" cy="334.3" r="1.7" fill="#f4b072"/><circle cx="102.8" cy="322.2" r="1.7" fill="#e26f3f"/><circle cx="130.2" cy="368.8" r="1.7" fill="#d4502e"/><circle cx="104.7" cy="363.0" r="1.7" fill="#2765a3"/><circle cx="157.3" cy="343.4" r="1.7" fill="#2866a4"/><circle cx="140.4" cy="362.0" r="1.7" fill="#7db3d7"/><circle cx="109.4" cy="345.0" r="1.7" fill="#e37240"/><circle cx="143.7" cy="375.3" r="1.7" fill="#fae0ba"/><circle cx="135.3" cy="354.8" r="1.7" fill="#ce4328"/><circle cx="108.3" cy="366.2" r="1.7" fill="#f5edde"/><circle cx="155.4" cy="330.5" r="1.7" fill="#e67c47"/><circle cx="104.7" cy="327.1" r="1.7" fill="#dd663a"/><circle cx="117.1" cy="325.2" r="1.7" fill="#cb3e26"/><circle cx="98.4" cy="348.2" r="1.7" fill="#fbd29b"/><circle cx="114.1" cy="371.4" r="1.7" fill="#2d6da9"/><circle cx="130.3" cy="356.5" r="1.7" fill="#c83823"/></g>
<text x="125.5" y="292.0" font-size="9.4" font-style="italic" fill="#1e1e1e">v<tspan font-size="6.3" font-style="normal" dy="1.7">1</tspan></text>
<path d="M292.6 322.9L294.1 318.7M292.6 322.9L290.4 326.2M292.6 322.9L297.2 326.5M292.6 322.9L288.5 323.0M292.6 322.9L295.9 322.0M272.8 369.0L276.8 366.2M272.8 369.0L269.7 364.0M272.8 369.0L277.9 369.9M272.8 369.0L268.2 369.3M294.1 318.7L287.8 319.7M294.1 318.7L290.8 315.1M294.1 318.7L295.9 322.0M292.6 361.1L289.2 356.5M292.6 361.1L290.4 363.7M292.6 361.1L295.4 363.4M292.6 361.1L296.5 357.3M292.6 361.1L293.7 366.1M299.4 351.5L300.7 356.4M299.4 351.5L296.7 347.0M299.4 351.5L295.0 353.1M299.4 351.5L301.1 348.7M291.0 372.1L292.5 369.1M291.0 372.1L289.5 376.4M291.0 372.1L287.1 370.9M291.0 372.1L287.1 374.1M276.8 366.2L282.1 365.5M276.8 366.2L277.9 369.9M276.8 366.2L274.5 361.1M247.0 352.3L243.9 350.7M247.0 352.3L246.3 355.7M247.0 352.3L249.1 348.2M247.0 352.3L250.2 352.3M251.2 355.4L245.7 359.3M251.2 355.4L255.2 359.7M251.2 355.4L249.9 358.3M251.2 355.4L246.3 355.7M251.2 355.4L250.2 352.3M251.2 355.4L256.0 356.4M250.6 366.8L255.9 367.7M250.6 366.8L247.3 363.5M250.6 366.8L251.8 362.7M250.6 366.8L253.2 370.7M246.5 337.4L244.3 340.0M246.5 337.4L248.2 332.6M246.5 337.4L251.1 335.5M246.5 337.4L250.0 338.6M257.3 377.2L257.0 374.0M257.3 377.2L262.5 378.2M257.3 377.2L263.1 374.5M257.3 377.2L253.2 370.7M268.4 313.4L270.6 310.1M268.4 313.4L264.6 312.5M268.4 313.4L265.3 316.1M268.4 313.4L271.0 318.0M252.2 330.6L254.1 327.5M252.2 330.6L248.2 332.6M252.2 330.6L248.2 328.8M252.2 330.6L250.8 326.0M252.2 330.6L254.4 334.5M276.3 375.5L278.8 379.8M276.3 375.5L277.9 369.9M276.3 375.5L272.3 376.6M276.3 375.5L280.4 375.8M276.3 375.5L275.0 379.3M278.6 310.4L283.5 307.3M278.6 310.4L281.4 315.4M278.6 310.4L279.1 306.4M278.6 310.4L276.0 315.8M278.6 310.4L275.5 304.5M278.6 310.4L275.8 308.5M278.6 310.4L283.0 311.7M252.9 347.0L253.7 350.8M252.9 347.0L251.9 341.4M252.9 347.0L256.3 346.7M252.9 347.0L257.1 350.5M252.9 347.0L249.1 348.2M257.9 321.9L262.0 322.0M257.9 321.9L258.4 325.1M257.9 321.9L251.5 322.5M257.9 321.9L260.7 317.0M257.9 321.9L256.1 317.1M257.9 321.9L252.7 317.3M290.4 326.2L286.6 327.5M290.4 326.2L288.5 323.0M290.4 326.2L294.3 328.3M301.4 334.9L301.4 339.8M301.4 334.9L299.0 330.1M301.4 334.9L296.9 336.9M301.4 334.9L296.3 332.6M262.0 322.0L258.4 325.1M262.0 322.0L266.4 321.9M262.0 322.0L263.6 318.9M262.0 322.0L261.6 326.3M261.2 359.6L255.2 359.7M261.2 359.6L258.8 364.5M261.2 359.6L264.7 362.8M261.2 359.6L258.6 354.1M273.5 382.2L278.8 379.8M273.5 382.2L272.3 376.6M273.5 382.2L275.0 379.3M273.5 382.2L269.7 380.9M269.7 364.0L264.7 362.8M269.7 364.0L268.2 369.3M269.7 364.0L274.5 361.1M269.7 364.0L269.3 358.9M301.4 339.8L297.9 343.4M301.4 339.8L296.9 336.9M301.4 339.8L301.8 344.5M258.4 325.1L254.1 327.5M258.4 325.1L261.6 326.3M255.9 367.7L258.8 364.5M255.9 367.7L253.2 370.7M255.9 367.7L260.2 368.6M284.6 359.2L289.2 356.5M284.6 359.2L282.2 361.4M284.6 359.2L285.7 364.1M284.6 359.2L284.3 356.0M251.5 322.5L254.1 327.5M251.5 322.5L252.7 317.3M251.5 322.5L250.8 326.0M289.2 356.5L285.2 352.9M289.2 356.5L284.3 356.0M292.5 369.1L287.1 370.9M292.5 369.1L295.8 368.7M292.5 369.1L293.7 366.1M289.5 376.4L287.1 370.9M289.5 376.4L285.9 378.9M289.5 376.4L287.1 374.1M290.4 363.7L295.4 363.4M290.4 363.7L286.9 367.2M290.4 363.7L285.7 364.1M290.4 363.7L293.7 366.1M275.7 353.8L271.7 355.1M275.7 353.8L274.5 350.3M275.7 353.8L280.5 353.1M275.7 353.8L277.7 357.5M243.9 350.7L245.4 347.1M243.9 350.7L246.3 355.7M243.9 350.7L249.1 348.2M243.9 350.7L243.3 344.4M270.6 310.1L269.0 306.1M270.6 310.1L265.7 308.6M270.6 310.1L275.8 308.5M259.1 314.0L260.8 309.5M259.1 314.0L260.7 317.0M259.1 314.0L256.1 317.1M259.1 314.0L256.0 313.1M287.1 370.9L283.6 370.6M287.1 370.9L286.9 367.2M287.1 370.9L287.1 374.1M245.7 359.3L247.3 363.5M245.7 359.3L249.9 358.3M245.7 359.3L246.3 355.7M244.3 340.0L247.4 343.3M244.3 340.0L250.0 338.6M244.3 340.0L243.3 344.4M287.7 316.1L287.8 319.7M287.7 316.1L288.5 312.8M287.7 316.1L290.8 315.1M287.7 316.1L286.2 310.5M257.0 374.0L263.1 374.5M257.0 374.0L253.2 370.7M257.0 374.0L260.2 368.6M266.4 321.9L270.3 325.7M266.4 321.9L263.6 318.9M266.4 321.9L265.1 326.3M266.4 321.9L270.4 321.3M283.6 370.6L282.1 365.5M283.6 370.6L277.9 369.9M283.6 370.6L283.6 374.2M283.6 370.6L286.9 367.2M283.6 370.6L287.1 374.1M289.1 346.0L286.8 342.4M289.1 346.0L292.6 350.4M289.1 346.0L291.2 343.6M289.1 346.0L288.8 350.8M247.3 363.5L251.8 362.7M247.3 363.5L249.9 358.3M300.7 356.4L300.4 360.6M300.7 356.4L295.0 353.1M300.7 356.4L296.5 357.3M245.4 347.1L247.4 343.3M245.4 347.1L249.1 348.2M245.4 347.1L243.3 344.4M262.5 378.2L266.0 378.7M262.5 378.2L263.1 374.5M262.5 378.2L266.5 382.0M299.0 330.1L297.2 326.5M299.0 330.1L296.3 332.6M299.0 330.1L294.3 328.3M270.3 325.7L268.4 330.6M270.3 325.7L265.1 326.3M270.3 325.7L270.4 321.3M263.6 318.9L265.3 316.1M263.6 318.9L260.7 317.0M283.5 307.3L279.1 306.4M283.5 307.3L286.2 310.5M283.5 307.3L283.0 311.7M258.6 343.5L260.9 346.3M258.6 343.5L256.6 340.1M258.6 343.5L256.3 346.7M258.6 343.5L260.4 339.9M271.7 355.1L266.7 354.1M271.7 355.1L269.2 350.9M271.7 355.1L274.5 350.3M271.7 355.1L269.3 358.9M282.2 361.4L282.1 365.5M282.2 361.4L285.7 364.1M282.2 361.4L284.3 356.0M282.2 361.4L277.7 357.5M278.8 379.8L282.1 378.6M278.8 379.8L280.4 375.8M278.8 379.8L275.0 379.3M264.6 312.5L260.8 309.5M264.6 312.5L265.3 316.1M264.6 312.5L265.7 308.6M286.8 342.4L291.2 343.6M286.8 342.4L284.4 339.0M286.8 342.4L290.5 340.4M297.9 343.4L296.7 347.0M297.9 343.4L301.1 348.7M297.9 343.4L294.6 343.3M297.9 343.4L301.8 344.5M287.8 319.7L290.8 315.1M287.8 319.7L282.9 319.9M287.8 319.7L288.5 323.0M251.8 362.7L255.2 359.7M251.8 362.7L249.9 358.3M254.1 327.5L248.2 328.8M254.1 327.5L250.8 326.0M295.4 363.4L300.4 360.6M295.4 363.4L295.8 368.7M295.4 363.4L293.7 366.1M295.4 363.4L298.8 364.5M281.4 315.4L282.9 319.9M281.4 315.4L276.0 315.8M281.4 315.4L277.6 318.8M281.4 315.4L283.0 311.7M266.0 378.7L263.1 374.5M266.0 378.7L268.6 376.8M266.0 378.7L269.7 380.9M266.0 378.7L266.5 382.0M297.2 326.5L295.9 322.0M297.2 326.5L294.3 328.3M260.9 346.3L267.2 343.0M260.9 346.3L256.3 346.7M260.9 346.3L265.2 350.4M260.9 346.3L257.1 350.5M275.9 321.9L278.7 323.8M275.9 321.9L276.0 315.8M275.9 321.9L277.6 318.8M275.9 321.9L270.4 321.3M269.0 306.1L265.7 308.6M269.0 306.1L275.5 304.5M269.0 306.1L275.8 308.5M296.7 347.0L292.6 350.4M296.7 347.0L295.0 353.1M296.7 347.0L301.1 348.7M296.7 347.0L294.6 343.3M296.7 347.0L301.8 344.5M288.5 312.8L290.8 315.1M288.5 312.8L286.2 310.5M288.5 312.8L283.0 311.7M256.6 340.1L257.9 334.5M256.6 340.1L251.9 341.4M256.6 340.1L260.4 339.9M259.4 331.5L257.9 334.5M259.4 331.5L262.2 335.7M259.4 331.5L263.0 329.3M259.4 331.5L261.6 326.3M259.4 331.5L254.4 334.5M260.8 309.5L265.7 308.6M260.8 309.5L256.0 313.1M255.2 359.7L249.9 358.3M255.2 359.7L256.0 356.4M300.4 360.6L296.5 357.3M300.4 360.6L298.8 364.5M292.6 350.4L295.0 353.1M292.6 350.4L288.8 350.8M291.2 343.6L290.5 340.4M291.2 343.6L294.6 343.3M295.0 353.1L296.5 357.3M285.2 352.9L284.3 356.0M285.2 352.9L283.4 349.7M285.2 352.9L288.8 350.8M285.2 352.9L280.5 353.1M264.6 371.0L263.1 374.5M264.6 371.0L260.2 368.6M264.6 371.0L268.2 369.3M264.6 371.0L268.9 373.5M264.6 371.0L263.3 366.6M282.1 365.5L286.9 367.2M282.1 365.5L285.7 364.1M266.7 354.1L269.2 350.9M266.7 354.1L265.2 350.4M266.7 354.1L269.3 358.9M257.9 334.5L262.2 335.7M257.9 334.5L260.4 339.9M257.9 334.5L254.4 334.5M296.9 336.9L293.1 333.9M296.9 336.9L293.8 337.8M296.9 336.9L296.3 332.6M269.2 350.9L274.5 350.3M269.2 350.9L265.2 350.4M265.3 316.1L260.7 317.0M265.3 316.1L271.0 318.0M285.9 378.9L283.6 374.2M285.9 378.9L282.1 378.6M285.9 378.9L287.1 374.1M267.2 343.0L268.0 339.4M267.2 343.0L260.4 339.9M267.2 343.0L269.3 336.3M293.1 333.9L293.8 337.8M293.1 333.9L296.3 332.6M293.1 333.9L289.7 332.7M253.7 350.8L258.6 354.1M253.7 350.8L256.3 346.7M253.7 350.8L257.1 350.5M253.7 350.8L250.2 352.3M293.8 337.8L290.5 340.4M293.8 337.8L294.6 343.3M296.3 332.6L294.3 328.3M295.8 368.7L293.7 366.1M295.8 368.7L298.8 364.5M272.3 376.6L268.6 376.8M272.3 376.6L275.0 379.3M272.3 376.6L268.9 373.5M263.1 374.5L268.9 373.5M260.7 317.0L256.1 317.1M283.6 374.2L282.1 378.6M283.6 374.2L287.1 374.1M283.6 374.2L280.4 375.8M248.2 332.6L248.2 328.8M248.2 332.6L251.1 335.5M258.8 364.5L260.2 368.6M258.8 364.5L263.3 366.6M286.9 367.2L285.7 364.1M268.4 330.6L265.1 326.3M268.4 330.6L269.3 336.3M268.4 330.6L270.7 333.4M268.4 330.6L266.2 333.2M301.1 348.7L301.8 344.5M289.7 332.7L287.5 335.5M289.7 332.7L286.6 327.5M289.7 332.7L285.3 331.4M282.1 378.6L280.4 375.8M248.2 328.8L250.8 326.0M279.1 306.4L275.5 304.5M279.1 306.4L275.8 308.5M256.1 317.1L252.7 317.3M256.1 317.1L256.0 313.1M249.9 358.3L246.3 355.7M271.0 318.0L276.0 315.8M271.0 318.0L270.4 321.3M264.7 362.8L263.3 366.6M264.7 362.8L269.3 358.9M247.4 343.3L251.9 341.4M247.4 343.3L250.0 338.6M247.4 343.3L243.3 344.4M251.9 341.4L250.0 338.6M251.1 335.5L250.0 338.6M251.1 335.5L254.4 334.5M253.2 370.7L260.2 368.6M284.4 339.0L287.5 335.5M284.4 339.0L280.3 340.0M284.4 339.0L282.9 333.6M290.5 340.4L294.6 343.3M258.6 354.1L265.2 350.4M258.6 354.1L257.1 350.5M258.6 354.1L256.0 356.4M280.8 328.3L276.4 333.5M280.8 328.3L278.7 323.8M280.8 328.3L286.6 327.5M280.8 328.3L285.3 331.4M280.8 328.3L282.9 333.6M276.4 333.5L280.3 340.0M276.4 333.5L282.9 333.6M276.4 333.5L270.7 333.4M265.1 326.3L263.0 329.3M265.1 326.3L261.6 326.3M260.2 368.6L263.3 366.6M278.7 323.8L282.9 319.9M278.7 323.8L277.6 318.8M287.5 335.5L285.3 331.4M287.5 335.5L282.9 333.6M282.9 319.9L277.6 318.8M268.6 376.8L269.7 380.9M268.6 376.8L268.9 373.5M268.6 376.8L266.5 382.0M274.5 350.3L279.4 348.9M274.5 350.3L276.5 343.8M286.2 310.5L283.0 311.7M252.7 317.3L256.0 313.1M276.0 315.8L277.6 318.8M286.6 327.5L288.5 323.0M286.6 327.5L285.3 331.4M284.3 356.0L280.5 353.1M279.6 344.9L279.4 348.9M279.6 344.9L276.5 343.8M279.6 344.9L280.3 340.0M279.6 344.9L283.4 349.7M256.3 346.7L257.1 350.5M275.5 304.5L275.8 308.5M285.3 331.4L282.9 333.6M268.2 369.3L268.9 373.5M262.2 335.7L260.4 339.9M262.2 335.7L266.2 333.2M279.4 348.9L276.5 343.8M279.4 348.9L283.4 349.7M279.4 348.9L280.5 353.1M276.5 343.8L280.3 340.0M268.0 339.4L269.3 336.3M268.0 339.4L270.7 333.4M268.0 339.4L266.2 333.2M280.3 340.0L282.9 333.6M295.9 322.0L294.3 328.3M293.7 366.1L298.8 364.5M257.1 350.5L256.0 356.4M249.1 348.2L250.2 352.3M269.3 336.3L270.7 333.4M269.3 336.3L266.2 333.2M269.7 380.9L266.5 382.0M283.4 349.7L288.8 350.8M283.4 349.7L280.5 353.1M274.5 361.1L269.3 358.9M274.5 361.1L277.7 357.5M263.0 329.3L261.6 326.3M263.0 329.3L266.2 333.2M270.7 333.4L266.2 333.2M280.5 353.1L277.7 357.5" stroke="#9a9a9a" stroke-width="0.45" fill="none"/>
<g><circle cx="251.1" cy="335.5" r="1.7" fill="#bcdeed"/><circle cx="249.9" cy="358.3" r="1.7" fill="#e27140"/><circle cx="280.3" cy="340.0" r="1.7" fill="#2866a4"/><circle cx="250.6" cy="366.8" r="1.7" fill="#da5e36"/><circle cx="270.6" cy="310.1" r="1.7" fill="#2563a1"/><circle cx="257.1" cy="350.5" r="1.7" fill="#f09f61"/><circle cx="250.8" cy="326.0" r="1.7" fill="#3577b1"/><circle cx="277.9" cy="369.9" r="1.7" fill="#d75832"/><circle cx="295.9" cy="322.0" r="1.7" fill="#397bb3"/><circle cx="291.0" cy="372.1" r="1.7" fill="#ee995b"/><circle cx="274.5" cy="361.1" r="1.7" fill="#d1492b"/><circle cx="268.4" cy="330.6" r="1.7" fill="#2c6ba8"/><circle cx="292.5" cy="369.1" r="1.7" fill="#ea8b51"/><circle cx="259.1" cy="314.0" r="1.7" fill="#2968a5"/><circle cx="272.8" cy="369.0" r="1.7" fill="#c1291d"/><circle cx="294.1" cy="318.7" r="1.7" fill="#82b7d9"/><circle cx="273.5" cy="382.2" r="1.7" fill="#df6a3c"/><circle cx="277.6" cy="318.8" r="1.7" fill="#2461a0"/><circle cx="292.6" cy="350.4" r="1.7" fill="#eb8e53"/><circle cx="289.1" cy="346.0" r="1.7" fill="#d75732"/><circle cx="278.6" cy="310.4" r="1.7" fill="#4888bc"/><circle cx="251.2" cy="355.4" r="1.7" fill="#f8c183"/><circle cx="255.9" cy="367.7" r="1.7" fill="#d85a34"/><circle cx="288.5" cy="323.0" r="1.7" fill="#205b9a"/><circle cx="289.5" cy="376.4" r="1.7" fill="#e27240"/><circle cx="280.8" cy="328.3" r="1.7" fill="#2663a2"/><circle cx="265.7" cy="308.6" r="1.7" fill="#3374af"/><circle cx="264.7" cy="362.8" r="1.7" fill="#c22a1d"/><circle cx="266.4" cy="321.9" r="1.7" fill="#1e5594"/><circle cx="301.1" cy="348.7" r="1.7" fill="#ef9d5f"/><circle cx="255.2" cy="359.7" r="1.7" fill="#d65330"/><circle cx="254.1" cy="327.5" r="1.7" fill="#88bcdc"/><circle cx="285.9" cy="378.9" r="1.7" fill="#f4b173"/><circle cx="300.7" cy="356.4" r="1.7" fill="#7eb4d7"/><circle cx="282.9" cy="333.6" r="1.7" fill="#205a99"/><circle cx="291.2" cy="343.6" r="1.7" fill="#e8834c"/><circle cx="287.5" cy="335.5" r="1.7" fill="#2867a4"/><circle cx="257.0" cy="374.0" r="1.7" fill="#f5b375"/><circle cx="258.6" cy="354.1" r="1.7" fill="#d85933"/><circle cx="247.4" cy="343.3" r="1.7" fill="#80b6d8"/><circle cx="276.5" cy="343.8" r="1.7" fill="#cd4128"/><circle cx="269.2" cy="350.9" r="1.7" fill="#ce4228"/><circle cx="269.0" cy="306.1" r="1.7" fill="#2462a0"/><circle cx="266.7" cy="354.1" r="1.7" fill="#cb3e26"/><circle cx="290.4" cy="363.7" r="1.7" fill="#eb8f54"/><circle cx="243.9" cy="350.7" r="1.7" fill="#f8c386"/><circle cx="293.8" cy="337.8" r="1.7" fill="#7eb4d7"/><circle cx="274.5" cy="350.3" r="1.7" fill="#db5f37"/><circle cx="284.4" cy="339.0" r="1.7" fill="#225e9d"/><circle cx="301.4" cy="334.9" r="1.7" fill="#f9c78b"/><circle cx="282.2" cy="361.4" r="1.7" fill="#d1492b"/><circle cx="298.8" cy="364.5" r="1.7" fill="#f8bf81"/><circle cx="256.1" cy="317.1" r="1.7" fill="#5292c2"/><circle cx="260.8" cy="309.5" r="1.7" fill="#3070ac"/><circle cx="266.2" cy="333.2" r="1.7" fill="#2b6aa7"/><circle cx="286.2" cy="310.5" r="1.7" fill="#2765a3"/><circle cx="264.6" cy="371.0" r="1.7" fill="#d34d2d"/><circle cx="243.3" cy="344.4" r="1.7" fill="#d7e8ee"/><circle cx="301.8" cy="344.5" r="1.7" fill="#f6ecdb"/><circle cx="284.6" cy="359.2" r="1.7" fill="#d5512f"/><circle cx="283.0" cy="311.7" r="1.7" fill="#1d5392"/><circle cx="261.2" cy="359.6" r="1.7" fill="#d65531"/><circle cx="299.0" cy="330.1" r="1.7" fill="#6ba5ce"/><circle cx="296.9" cy="336.9" r="1.7" fill="#facd93"/><circle cx="257.9" cy="334.5" r="1.7" fill="#508fc1"/><circle cx="265.1" cy="326.3" r="1.7" fill="#1f5897"/><circle cx="256.3" cy="346.7" r="1.7" fill="#d95b34"/><circle cx="249.1" cy="348.2" r="1.7" fill="#a1cde5"/><circle cx="250.2" cy="352.3" r="1.7" fill="#e37442"/><circle cx="268.4" cy="313.4" r="1.7" fill="#225e9d"/><circle cx="282.9" cy="319.9" r="1.7" fill="#2462a0"/><circle cx="289.2" cy="356.5" r="1.7" fill="#f2a769"/><circle cx="253.2" cy="370.7" r="1.7" fill="#f3ac6e"/><circle cx="268.6" cy="376.8" r="1.7" fill="#e8844d"/><circle cx="289.7" cy="332.7" r="1.7" fill="#2766a3"/><circle cx="275.8" cy="308.5" r="1.7" fill="#205998"/><circle cx="294.6" cy="343.3" r="1.7" fill="#f4af71"/><circle cx="290.4" cy="326.2" r="1.7" fill="#3173ad"/><circle cx="275.0" cy="379.3" r="1.7" fill="#e57b47"/><circle cx="295.4" cy="363.4" r="1.7" fill="#d85933"/><circle cx="286.9" cy="367.2" r="1.7" fill="#d1492b"/><circle cx="267.2" cy="343.0" r="1.7" fill="#d55230"/><circle cx="251.9" cy="341.4" r="1.7" fill="#2b6aa7"/><circle cx="258.4" cy="325.1" r="1.7" fill="#205a99"/><circle cx="290.8" cy="315.1" r="1.7" fill="#76aed3"/><circle cx="287.1" cy="370.9" r="1.7" fill="#cc4027"/><circle cx="245.4" cy="347.1" r="1.7" fill="#c0e0ee"/><circle cx="280.5" cy="353.1" r="1.7" fill="#d85933"/><circle cx="283.5" cy="307.3" r="1.7" fill="#2867a4"/><circle cx="253.7" cy="350.8" r="1.7" fill="#e47844"/><circle cx="290.5" cy="340.4" r="1.7" fill="#64a0cb"/><circle cx="264.6" cy="312.5" r="1.7" fill="#3273ae"/><circle cx="285.2" cy="352.9" r="1.7" fill="#c42f20"/><circle cx="295.0" cy="353.1" r="1.7" fill="#cc3f26"/><circle cx="280.4" cy="375.8" r="1.7" fill="#e26f3f"/><circle cx="276.8" cy="366.2" r="1.7" fill="#cb3d26"/><circle cx="256.0" cy="356.4" r="1.7" fill="#fcd8a4"/><circle cx="288.5" cy="312.8" r="1.7" fill="#2d6da9"/><circle cx="293.7" cy="366.1" r="1.7" fill="#f3ac6e"/><circle cx="260.2" cy="368.6" r="1.7" fill="#ca3b25"/><circle cx="287.7" cy="316.1" r="1.7" fill="#215c9b"/><circle cx="247.0" cy="352.3" r="1.7" fill="#f6bb7d"/><circle cx="297.2" cy="326.5" r="1.7" fill="#3d7eb5"/><circle cx="294.3" cy="328.3" r="1.7" fill="#2d6ca9"/><circle cx="269.7" cy="380.9" r="1.7" fill="#f7bc7e"/><circle cx="262.2" cy="335.7" r="1.7" fill="#4787bb"/><circle cx="272.3" cy="376.6" r="1.7" fill="#e7814b"/><circle cx="265.3" cy="316.1" r="1.7" fill="#2968a5"/><circle cx="254.4" cy="334.5" r="1.7" fill="#2f70ab"/><circle cx="276.0" cy="315.8" r="1.7" fill="#205998"/><circle cx="275.7" cy="353.8" r="1.7" fill="#d75531"/><circle cx="257.9" cy="321.9" r="1.7" fill="#3274ae"/><circle cx="275.9" cy="321.9" r="1.7" fill="#4f8fc0"/><circle cx="271.7" cy="355.1" r="1.7" fill="#d24a2c"/><circle cx="252.2" cy="330.6" r="1.7" fill="#82b7d9"/><circle cx="285.7" cy="364.1" r="1.7" fill="#de663a"/><circle cx="287.8" cy="319.7" r="1.7" fill="#215d9c"/><circle cx="269.3" cy="336.3" r="1.7" fill="#2d6ea9"/><circle cx="297.9" cy="343.4" r="1.7" fill="#f09f61"/><circle cx="263.1" cy="374.5" r="1.7" fill="#f0a163"/><circle cx="263.6" cy="318.9" r="1.7" fill="#235f9e"/><circle cx="247.3" cy="363.5" r="1.7" fill="#6da7cf"/><circle cx="292.6" cy="322.9" r="1.7" fill="#2a69a6"/><circle cx="282.1" cy="365.5" r="1.7" fill="#c22a1e"/><circle cx="261.6" cy="326.3" r="1.7" fill="#2663a2"/><circle cx="259.4" cy="331.5" r="1.7" fill="#2461a0"/><circle cx="283.6" cy="370.6" r="1.7" fill="#e06c3d"/><circle cx="296.5" cy="357.3" r="1.7" fill="#d0472a"/><circle cx="263.3" cy="366.6" r="1.7" fill="#c63221"/><circle cx="283.6" cy="374.2" r="1.7" fill="#eb8f54"/><circle cx="244.3" cy="340.0" r="1.7" fill="#88bcdc"/><circle cx="248.2" cy="332.6" r="1.7" fill="#e2ecec"/><circle cx="284.3" cy="356.0" r="1.7" fill="#c43020"/><circle cx="266.5" cy="382.0" r="1.7" fill="#e47643"/><circle cx="279.4" cy="348.9" r="1.7" fill="#c73522"/><circle cx="295.8" cy="368.7" r="1.7" fill="#d95b34"/><circle cx="268.2" cy="369.3" r="1.7" fill="#c0271c"/><circle cx="282.1" cy="378.6" r="1.7" fill="#ee9a5c"/><circle cx="286.6" cy="327.5" r="1.7" fill="#387ab3"/><circle cx="283.4" cy="349.7" r="1.7" fill="#e26f3f"/><circle cx="262.0" cy="322.0" r="1.7" fill="#2c6ca8"/><circle cx="256.0" cy="313.1" r="1.7" fill="#3678b1"/><circle cx="252.9" cy="347.0" r="1.7" fill="#f09f61"/><circle cx="275.5" cy="304.5" r="1.7" fill="#1d5493"/><circle cx="279.1" cy="306.4" r="1.7" fill="#2c6ca8"/><circle cx="278.8" cy="379.8" r="1.7" fill="#e9884f"/><circle cx="270.7" cy="333.4" r="1.7" fill="#3071ac"/><circle cx="287.1" cy="374.1" r="1.7" fill="#e37442"/><circle cx="263.0" cy="329.3" r="1.7" fill="#2967a5"/><circle cx="256.6" cy="340.1" r="1.7" fill="#3476b0"/><circle cx="260.4" cy="339.9" r="1.7" fill="#2c6ca8"/><circle cx="271.0" cy="318.0" r="1.7" fill="#2867a4"/><circle cx="266.0" cy="378.7" r="1.7" fill="#d5512f"/><circle cx="251.8" cy="362.7" r="1.7" fill="#d0482b"/><circle cx="296.3" cy="332.6" r="1.7" fill="#eeefeb"/><circle cx="278.7" cy="323.8" r="1.7" fill="#2765a3"/><circle cx="260.9" cy="346.3" r="1.7" fill="#c0271c"/><circle cx="258.6" cy="343.5" r="1.7" fill="#ec9256"/><circle cx="248.2" cy="328.8" r="1.7" fill="#76aed3"/><circle cx="299.4" cy="351.5" r="1.7" fill="#a2cde5"/><circle cx="260.7" cy="317.0" r="1.7" fill="#3b7cb4"/><circle cx="246.5" cy="337.4" r="1.7" fill="#ea8b51"/><circle cx="301.4" cy="339.8" r="1.7" fill="#67a2cc"/><circle cx="250.0" cy="338.6" r="1.7" fill="#fcdaa9"/><circle cx="270.3" cy="325.7" r="1.7" fill="#225e9d"/><circle cx="276.3" cy="375.5" r="1.7" fill="#e57a46"/><circle cx="257.3" cy="377.2" r="1.7" fill="#fcd9a4"/><circle cx="258.8" cy="364.5" r="1.7" fill="#f5b678"/><circle cx="296.7" cy="347.0" r="1.7" fill="#e57b46"/><circle cx="268.9" cy="373.5" r="1.7" fill="#f0a062"/><circle cx="265.2" cy="350.4" r="1.7" fill="#d1482b"/><circle cx="293.1" cy="333.9" r="1.7" fill="#5191c1"/><circle cx="270.4" cy="321.3" r="1.7" fill="#2562a1"/><circle cx="288.8" cy="350.8" r="1.7" fill="#d65430"/><circle cx="286.8" cy="342.4" r="1.7" fill="#d1492b"/><circle cx="268.0" cy="339.4" r="1.7" fill="#23609f"/><circle cx="279.6" cy="344.9" r="1.7" fill="#cd4128"/><circle cx="276.4" cy="333.5" r="1.7" fill="#1e5695"/><circle cx="285.3" cy="331.4" r="1.7" fill="#3e7fb6"/><circle cx="281.4" cy="315.4" r="1.7" fill="#4182b8"/><circle cx="252.7" cy="317.3" r="1.7" fill="#3a7cb4"/><circle cx="251.5" cy="322.5" r="1.7" fill="#5594c4"/><circle cx="300.4" cy="360.6" r="1.7" fill="#e7824b"/><circle cx="269.3" cy="358.9" r="1.7" fill="#cc3f27"/><circle cx="246.3" cy="355.7" r="1.7" fill="#85bada"/><circle cx="269.7" cy="364.0" r="1.7" fill="#d24b2c"/><circle cx="245.7" cy="359.3" r="1.7" fill="#8abedd"/><circle cx="292.6" cy="361.1" r="1.7" fill="#e8834c"/><circle cx="277.7" cy="357.5" r="1.7" fill="#d24a2c"/><circle cx="262.5" cy="378.2" r="1.7" fill="#f1a668"/></g>
<text x="271.7" y="292.0" font-size="9.4" font-style="italic" fill="#1e1e1e">v<tspan font-size="6.3" font-style="normal" dy="1.7">2</tspan></text>
<path d="M416.6 382.6L412.7 380.9M416.6 382.6L421.2 380.9M416.6 382.6L412.6 376.8M416.6 382.6L416.9 377.7M444.1 359.0L447.0 356.6M444.1 359.0L440.1 361.7M444.1 359.0L445.6 363.2M444.1 359.0L448.2 360.5M439.9 347.6L442.8 342.8M439.9 347.6L444.4 347.1M439.9 347.6L437.4 351.4M439.9 347.6L437.3 343.5M439.9 347.6L442.1 350.6M407.7 334.3L400.8 336.1M407.7 334.3L410.4 331.3M407.7 334.3L411.3 336.8M407.7 334.3L408.0 338.6M438.4 357.5L433.2 359.2M438.4 357.5L440.1 361.7M438.4 357.5L434.3 356.1M438.4 357.5L440.2 354.8M395.2 358.5L392.9 361.9M395.2 358.5L391.7 355.2M395.2 358.5L391.8 358.7M395.2 358.5L398.5 359.5M392.6 336.1L392.0 339.3M392.6 336.1L397.0 340.2M392.6 336.1L395.7 337.1M392.6 336.1L392.6 331.0M429.2 311.4L424.6 315.3M429.2 311.4L425.9 306.5M429.2 311.4L429.3 317.0M429.2 311.4L433.3 312.1M429.2 311.4L429.9 306.6M449.4 338.2L447.5 342.4M449.4 338.2L447.2 332.7M449.4 338.2L443.6 335.7M449.4 338.2L450.9 342.4M426.7 356.1L425.6 359.9M426.7 356.1L425.9 352.6M426.7 356.1L429.1 360.4M426.7 356.1L423.2 356.6M431.8 362.7L436.8 363.0M431.8 362.7L433.2 359.2M431.8 362.7L429.1 360.4M431.8 362.7L428.9 366.1M431.8 362.7L432.9 366.2M401.6 373.3L403.0 370.0M401.6 373.3L405.4 376.5M401.6 373.3L405.9 373.4M401.6 373.3L399.5 370.0M407.3 313.1L411.7 316.1M407.3 313.1L404.4 315.1M407.3 313.1L410.9 311.3M407.3 313.1L408.3 317.4M407.3 313.1L409.5 308.3M426.2 369.7L427.7 372.7M426.2 369.7L430.5 370.0M426.2 369.7L422.5 367.8M426.2 369.7L428.9 366.1M426.4 375.7L427.7 372.7M426.4 375.7L426.4 379.6M426.4 375.7L423.5 373.7M426.4 375.7L430.0 375.9M426.4 375.7L430.6 380.4M426.4 375.7L424.5 382.7M415.5 318.5L411.7 316.1M415.5 318.5L415.3 322.7M415.5 318.5L417.3 314.8M415.5 318.5L409.0 321.6M403.0 370.0L402.2 366.0M403.0 370.0L405.9 373.4M403.0 370.0L399.5 370.0M441.5 370.9L435.2 370.3M441.5 370.9L438.8 373.5M441.5 370.9L437.5 366.6M441.5 370.9L443.8 368.0M423.9 349.7L425.9 352.6M423.9 349.7L430.5 348.6M423.9 349.7L420.0 352.9M423.9 349.7L419.0 348.5M423.9 349.7L426.1 343.2M392.9 361.9L396.2 364.8M392.9 361.9L391.8 358.7M392.9 361.9L398.5 359.5M436.8 363.0L437.5 366.6M436.8 363.0L433.2 359.2M436.8 363.0L440.1 361.7M436.8 363.0L432.9 366.2M412.7 380.9L412.6 376.8M412.7 380.9L409.0 378.2M412.7 380.9L416.9 377.7M399.3 363.7L396.1 368.5M399.3 363.7L396.2 364.8M399.3 363.7L402.2 366.0M399.3 363.7L404.6 363.3M399.3 363.7L398.5 359.5M389.4 348.2L394.1 347.4M389.4 348.2L391.0 351.4M389.4 348.2L390.8 343.9M389.4 348.2L395.4 350.5M414.4 309.8L414.9 305.9M414.4 309.8L410.9 311.3M414.4 309.8L409.5 308.3M414.4 309.8L417.9 308.4M414.4 309.8L417.3 314.8M414.9 305.9L410.9 311.3M414.9 305.9L409.5 308.3M414.9 305.9L417.9 308.4M404.8 325.7L403.9 322.2M404.8 325.7L402.2 329.7M404.8 325.7L409.0 321.6M404.8 325.7L399.6 322.9M445.9 327.0L447.2 332.7M445.9 327.0L441.4 323.9M445.9 327.0L443.8 321.4M445.9 327.0L444.0 330.6M424.6 315.3L424.3 320.8M424.6 315.3L423.2 309.6M424.6 315.3L429.3 317.0M451.2 346.6L447.5 342.4M451.2 346.6L450.1 351.9M451.2 346.6L450.9 342.4M451.2 346.6L447.9 347.9M398.7 348.3L394.1 347.4M398.7 348.3L397.5 353.1M398.7 348.3L399.6 343.0M398.7 348.3L395.4 350.5M398.7 348.3L404.9 349.3M437.2 322.0L436.9 326.4M437.2 322.0L441.4 323.9M437.2 322.0L436.8 318.7M437.2 322.0L439.8 320.0M437.2 322.0L433.3 324.3M435.3 373.5L435.2 370.3M435.3 373.5L438.8 373.5M435.3 373.5L433.8 378.1M435.3 373.5L431.8 373.1M427.7 372.7L430.5 370.0M427.7 372.7L423.5 373.7M427.7 372.7L430.0 375.9M427.7 372.7L431.8 373.1M430.5 370.0L428.9 366.1M430.5 370.0L431.8 373.1M430.5 370.0L432.9 366.2M447.5 342.4L442.8 342.8M447.5 342.4L443.1 339.4M447.5 342.4L450.9 342.4M447.5 342.4L447.9 347.9M426.4 379.6L421.2 380.9M426.4 379.6L430.0 375.9M426.4 379.6L430.6 380.4M426.4 379.6L424.5 382.7M450.1 351.9L444.7 353.4M450.1 351.9L447.0 356.6M450.1 351.9L447.9 347.9M411.7 316.1L410.9 311.3M411.7 316.1L408.3 317.4M411.7 316.1L417.3 314.8M422.5 367.8L419.1 366.0M422.5 367.8L422.9 362.5M422.5 367.8L420.3 370.6M414.4 366.8L419.1 366.0M414.4 366.8L413.4 372.0M414.4 366.8L408.9 364.9M414.4 366.8L416.5 369.7M425.6 359.9L422.9 362.5M425.6 359.9L429.1 360.4M425.6 359.9L423.2 356.6M401.9 340.3L400.8 336.1M401.9 340.3L399.6 343.0M401.9 340.3L397.0 340.2M401.9 340.3L408.0 338.6M404.4 315.1L408.3 317.4M404.4 315.1L404.3 318.8M404.4 315.1L399.8 317.1M436.9 326.4L441.4 323.9M436.9 326.4L439.1 331.2M436.9 326.4L433.3 324.3M436.9 326.4L435.6 330.2M396.0 331.1L399.1 332.9M396.0 331.1L396.8 325.3M396.0 331.1L402.2 329.7M396.0 331.1L393.9 327.5M396.0 331.1L392.6 331.0M405.4 376.5L409.2 373.7M405.4 376.5L405.9 373.4M405.4 376.5L409.0 378.2M419.1 366.0L422.9 362.5M419.1 366.0L420.3 370.6M419.1 366.0L417.2 360.3M419.1 366.0L416.5 369.7M435.2 370.3L438.8 373.5M435.2 370.3L437.5 366.6M435.2 370.3L431.8 373.1M435.2 370.3L432.9 366.2M410.9 311.3L409.5 308.3M438.8 373.5L433.8 378.1M401.6 356.7L406.6 360.2M401.6 356.7L397.5 353.1M401.6 356.7L402.7 353.2M401.6 356.7L398.5 359.5M394.1 347.4L395.5 343.2M394.1 347.4L391.0 351.4M394.1 347.4L390.8 343.9M394.1 347.4L395.4 350.5M408.2 355.5L408.3 350.7M408.2 355.5L406.6 360.2M408.2 355.5L410.6 361.1M408.2 355.5L402.7 353.2M408.2 355.5L404.9 349.3M408.3 350.7L412.6 345.4M408.3 350.7L402.7 353.2M408.3 350.7L414.9 350.4M408.3 350.7L404.9 349.3M392.0 339.3L397.0 340.2M392.0 339.3L390.8 343.9M392.0 339.3L395.7 337.1M419.7 375.5L423.5 373.7M419.7 375.5L416.6 374.5M419.7 375.5L420.3 370.6M419.7 375.5L416.9 377.7M406.6 360.2L410.6 361.1M406.6 360.2L408.9 364.9M406.6 360.2L404.6 363.3M396.5 321.6L396.8 325.3M396.5 321.6L399.8 317.1M396.5 321.6L393.9 327.5M396.5 321.6L399.6 322.9M447.2 332.7L443.6 335.7M447.2 332.7L444.0 330.6M411.6 326.5L415.1 326.6M411.6 326.5L410.4 331.3M411.6 326.5L415.3 322.7M411.6 326.5L409.0 321.6M411.6 326.5L414.6 331.3M428.5 325.6L428.5 322.2M428.5 325.6L431.5 329.3M428.5 325.6L433.3 324.3M428.5 325.6L424.7 324.4M428.5 325.6L426.2 328.7M409.2 373.7L413.4 372.0M409.2 373.7L412.6 376.8M409.2 373.7L408.7 370.2M409.2 373.7L405.9 373.4M409.2 373.7L409.0 378.2M421.2 380.9L424.5 382.7M421.2 380.9L416.9 377.7M400.8 336.1L397.0 340.2M400.8 336.1L399.1 332.9M400.8 336.1L402.2 329.7M400.8 336.1L395.7 337.1M412.6 345.4L412.5 340.5M412.6 345.4L417.0 344.7M412.6 345.4L414.9 350.4M424.3 320.8L428.5 322.2M424.3 320.8L429.3 317.0M424.3 320.8L424.7 324.4M395.5 343.2L399.6 343.0M395.5 343.2L397.0 340.2M395.5 343.2L390.8 343.9M437.3 313.1L433.3 316.5M437.3 313.1L436.8 318.7M437.3 313.1L433.3 312.1M437.3 313.1L440.3 316.6M425.9 306.5L423.2 309.6M425.9 306.5L429.9 306.6M425.9 306.5L422.5 305.5M441.4 323.9L443.8 321.4M441.4 323.9L439.8 320.0M422.9 362.5L417.2 360.3M422.9 362.5L423.2 356.6M444.7 353.4L447.0 356.6M444.7 353.4L442.1 350.6M444.7 353.4L440.2 354.8M443.8 321.4L439.8 320.0M443.8 321.4L440.3 316.6M397.5 353.1L395.4 350.5M397.5 353.1L402.7 353.2M408.3 317.4L404.3 318.8M408.3 317.4L409.0 321.6M435.8 337.5L430.8 338.5M435.8 337.5L438.7 334.7M435.8 337.5L431.0 335.1M435.8 337.5L437.3 343.5M430.8 338.5L430.7 345.0M430.8 338.5L431.0 335.1M430.8 338.5L426.1 343.2M430.8 338.5L425.1 335.9M430.8 338.5L424.5 339.7M413.4 372.0L412.6 376.8M413.4 372.0L416.6 374.5M413.4 372.0L408.7 370.2M413.4 372.0L416.5 369.7M423.5 373.7L420.3 370.6M442.8 342.8L443.1 339.4M442.8 342.8L444.4 347.1M442.8 342.8L437.3 343.5M442.4 364.6L437.5 366.6M442.4 364.6L440.1 361.7M442.4 364.6L445.6 363.2M442.4 364.6L448.2 360.5M442.4 364.6L443.8 368.0M437.5 366.6L432.9 366.2M437.5 366.6L443.8 368.0M391.7 355.2L391.0 351.4M391.7 355.2L395.4 350.5M391.7 355.2L391.8 358.7M391.0 351.4L395.4 350.5M438.7 334.7L443.1 339.4M438.7 334.7L439.1 331.2M438.7 334.7L443.6 335.7M438.7 334.7L435.6 330.2M410.6 361.1L408.9 364.9M410.6 361.1L404.6 363.3M410.6 361.1L417.2 360.3M399.6 343.0L397.0 340.2M412.6 376.8L416.6 374.5M412.6 376.8L409.0 378.2M412.6 376.8L416.9 377.7M425.9 352.6L430.5 348.6M425.9 352.6L431.6 352.6M425.9 352.6L423.2 356.6M412.5 340.5L415.6 337.2M412.5 340.5L411.3 336.8M412.5 340.5L417.0 344.7M412.5 340.5L408.0 338.6M403.9 322.2L404.3 318.8M403.9 322.2L409.0 321.6M403.9 322.2L399.6 322.9M423.2 309.6L429.9 306.6M423.2 309.6L417.9 308.4M423.2 309.6L422.5 305.5M428.5 322.2L429.3 317.0M428.5 322.2L432.4 320.9M428.5 322.2L424.7 324.4M397.0 340.2L395.7 337.1M433.2 359.2L429.1 360.4M433.2 359.2L434.3 356.1M416.6 374.5L416.9 377.7M399.1 332.9L402.2 329.7M399.1 332.9L395.7 337.1M443.1 339.4L443.6 335.7M415.6 337.2L411.3 336.8M415.6 337.2L417.0 344.7M415.6 337.2L414.6 331.3M433.3 316.5L429.3 317.0M433.3 316.5L436.8 318.7M433.3 316.5L433.3 312.1M433.3 316.5L432.4 320.9M444.4 347.1L442.1 350.6M444.4 347.1L447.9 347.9M429.3 317.0L433.3 312.1M429.3 317.0L432.4 320.9M396.1 368.5L396.2 364.8M396.1 368.5L402.2 366.0M396.1 368.5L399.5 370.0M396.2 364.8L398.5 359.5M436.8 318.7L432.4 320.9M436.8 318.7L439.8 320.0M436.8 318.7L440.3 316.6M404.3 318.8L399.8 317.1M404.3 318.8L409.0 321.6M396.8 325.3L393.9 327.5M396.8 325.3L399.6 322.9M447.0 356.6L448.2 360.5M402.2 366.0L404.6 363.3M402.2 366.0L399.5 370.0M433.3 312.1L429.9 306.6M408.7 370.2L405.9 373.4M408.7 370.2L408.9 364.9M430.0 375.9L430.6 380.4M430.0 375.9L433.8 378.1M430.0 375.9L431.8 373.1M430.5 348.6L433.7 347.8M430.5 348.6L430.7 345.0M430.5 348.6L431.6 352.6M429.9 306.6L422.5 305.5M420.3 370.6L416.5 369.7M415.1 326.6L410.4 331.3M415.1 326.6L415.3 322.7M415.1 326.6L414.6 331.3M417.9 308.4L417.3 314.8M417.9 308.4L422.5 305.5M439.1 331.2L444.0 330.6M439.1 331.2L435.6 330.2M437.4 351.4L433.7 347.8M437.4 351.4L442.1 350.6M437.4 351.4L434.3 356.1M437.4 351.4L440.2 354.8M408.9 364.9L404.6 363.3M410.4 331.3L411.3 336.8M410.4 331.3L414.6 331.3M420.0 352.9L419.0 348.5M420.0 352.9L414.9 350.4M420.0 352.9L423.2 356.6M443.6 335.7L444.0 330.6M399.8 317.1L399.6 322.9M415.3 322.7L409.0 321.6M402.7 353.2L404.9 349.3M432.4 320.9L433.3 324.3M433.7 347.8L430.7 345.0M433.7 347.8L437.3 343.5M433.7 347.8L431.6 352.6M430.7 345.0L426.1 343.2M411.3 336.8L408.0 338.6M430.6 380.4L433.8 378.1M430.6 380.4L424.5 382.7M431.0 335.1L428.8 332.1M431.0 335.1L431.5 329.3M431.0 335.1L425.1 335.9M431.0 335.1L425.1 332.1M445.6 363.2L448.2 360.5M445.6 363.2L443.8 368.0M393.9 327.5L392.6 331.0M428.8 332.1L431.5 329.3M428.8 332.1L425.1 335.9M428.8 332.1L425.1 332.1M428.8 332.1L426.2 328.7M439.8 320.0L440.3 316.6M417.0 344.7L419.0 348.5M417.0 344.7L414.9 350.4M417.2 360.3L423.2 356.6M442.1 350.6L440.2 354.8M419.0 348.5L414.9 350.4M450.9 342.4L447.9 347.9M431.5 329.3L433.3 324.3M431.5 329.3L435.6 330.2M426.1 343.2L424.5 339.7M434.3 356.1L431.6 352.6M391.8 358.7L398.5 359.5M433.8 378.1L431.8 373.1M425.1 335.9L425.1 332.1M425.1 335.9L424.5 339.7M425.1 332.1L424.5 339.7M425.1 332.1L426.2 328.7M428.9 366.1L432.9 366.2M395.7 337.1L392.6 331.0M424.7 324.4L426.2 328.7" stroke="#9a9a9a" stroke-width="0.45" fill="none"/>
<g><circle cx="447.9" cy="347.9" r="1.7" fill="#4b8bbe"/><circle cx="417.3" cy="314.8" r="1.7" fill="#c73422"/><circle cx="417.2" cy="360.3" r="1.7" fill="#e37341"/><circle cx="412.7" cy="380.9" r="1.7" fill="#f8e5c6"/><circle cx="422.5" cy="367.8" r="1.7" fill="#d44f2e"/><circle cx="445.9" cy="327.0" r="1.7" fill="#4f8fc0"/><circle cx="444.1" cy="359.0" r="1.7" fill="#6da7cf"/><circle cx="437.3" cy="313.1" r="1.7" fill="#eb8e53"/><circle cx="417.9" cy="308.4" r="1.7" fill="#d34e2e"/><circle cx="433.7" cy="347.8" r="1.7" fill="#6fa9d0"/><circle cx="436.8" cy="363.0" r="1.7" fill="#7ab1d5"/><circle cx="395.5" cy="343.2" r="1.7" fill="#5c9ac7"/><circle cx="434.3" cy="356.1" r="1.7" fill="#e47643"/><circle cx="399.6" cy="343.0" r="1.7" fill="#205998"/><circle cx="436.8" cy="318.7" r="1.7" fill="#e47643"/><circle cx="412.5" cy="340.5" r="1.7" fill="#d95b34"/><circle cx="420.0" cy="352.9" r="1.7" fill="#e37240"/><circle cx="398.7" cy="348.3" r="1.7" fill="#6da7cf"/><circle cx="442.4" cy="364.6" r="1.7" fill="#4a8abd"/><circle cx="450.1" cy="351.9" r="1.7" fill="#5d9bc8"/><circle cx="416.5" cy="369.7" r="1.7" fill="#c53020"/><circle cx="414.4" cy="309.8" r="1.7" fill="#c73623"/><circle cx="408.3" cy="350.7" r="1.7" fill="#4d8dbf"/><circle cx="423.2" cy="356.6" r="1.7" fill="#c93824"/><circle cx="414.6" cy="331.3" r="1.7" fill="#3e7fb6"/><circle cx="413.4" cy="372.0" r="1.7" fill="#c1291d"/><circle cx="409.2" cy="373.7" r="1.7" fill="#f2a86a"/><circle cx="396.0" cy="331.1" r="1.7" fill="#2f6fab"/><circle cx="393.9" cy="327.5" r="1.7" fill="#23619f"/><circle cx="404.8" cy="325.7" r="1.7" fill="#cd4027"/><circle cx="405.4" cy="376.5" r="1.7" fill="#e7824b"/><circle cx="428.9" cy="366.1" r="1.7" fill="#c42f20"/><circle cx="437.5" cy="366.6" r="1.7" fill="#5896c5"/><circle cx="443.6" cy="335.7" r="1.7" fill="#5392c3"/><circle cx="435.2" cy="370.3" r="1.7" fill="#76aed3"/><circle cx="435.6" cy="330.2" r="1.7" fill="#c1291d"/><circle cx="407.7" cy="334.3" r="1.7" fill="#205a99"/><circle cx="391.0" cy="351.4" r="1.7" fill="#3b7db4"/><circle cx="391.7" cy="355.2" r="1.7" fill="#4c8cbe"/><circle cx="441.5" cy="370.9" r="1.7" fill="#5090c1"/><circle cx="438.7" cy="334.7" r="1.7" fill="#3071ac"/><circle cx="399.5" cy="370.0" r="1.7" fill="#4b8bbe"/><circle cx="423.2" cy="309.6" r="1.7" fill="#c83723"/><circle cx="431.8" cy="373.1" r="1.7" fill="#3779b2"/><circle cx="423.9" cy="349.7" r="1.7" fill="#db6037"/><circle cx="396.2" cy="364.8" r="1.7" fill="#3b7cb4"/><circle cx="442.1" cy="350.6" r="1.7" fill="#4686bb"/><circle cx="401.9" cy="340.3" r="1.7" fill="#4383b9"/><circle cx="432.4" cy="320.9" r="1.7" fill="#f6ba7c"/><circle cx="405.9" cy="373.4" r="1.7" fill="#dc6238"/><circle cx="410.6" cy="361.1" r="1.7" fill="#e06c3d"/><circle cx="436.9" cy="326.4" r="1.7" fill="#f3ae70"/><circle cx="440.2" cy="354.8" r="1.7" fill="#5897c6"/><circle cx="403.9" cy="322.2" r="1.7" fill="#f9c88d"/><circle cx="395.2" cy="358.5" r="1.7" fill="#4b8bbe"/><circle cx="427.7" cy="372.7" r="1.7" fill="#de663a"/><circle cx="428.5" cy="325.6" r="1.7" fill="#c83723"/><circle cx="437.4" cy="351.4" r="1.7" fill="#9fcce4"/><circle cx="424.5" cy="339.7" r="1.7" fill="#1d5392"/><circle cx="401.6" cy="356.7" r="1.7" fill="#4989bd"/><circle cx="398.5" cy="359.5" r="1.7" fill="#8abedd"/><circle cx="437.2" cy="322.0" r="1.7" fill="#facc92"/><circle cx="430.6" cy="380.4" r="1.7" fill="#b6d9eb"/><circle cx="426.7" cy="356.1" r="1.7" fill="#cb3e26"/><circle cx="402.2" cy="329.7" r="1.7" fill="#cb3c26"/><circle cx="411.7" cy="316.1" r="1.7" fill="#e16e3e"/><circle cx="414.4" cy="366.8" r="1.7" fill="#d1482b"/><circle cx="424.5" cy="382.7" r="1.7" fill="#e26f3f"/><circle cx="429.9" cy="306.6" r="1.7" fill="#cc3f27"/><circle cx="396.5" cy="321.6" r="1.7" fill="#f1a567"/><circle cx="411.3" cy="336.8" r="1.7" fill="#dc6238"/><circle cx="433.3" cy="316.5" r="1.7" fill="#ef9a5c"/><circle cx="399.1" cy="332.9" r="1.7" fill="#2c6ca8"/><circle cx="409.0" cy="321.6" r="1.7" fill="#ea8c52"/><circle cx="429.3" cy="317.0" r="1.7" fill="#c22a1d"/><circle cx="395.7" cy="337.1" r="1.7" fill="#3274ae"/><circle cx="439.8" cy="320.0" r="1.7" fill="#ec9155"/><circle cx="399.6" cy="322.9" r="1.7" fill="#5191c1"/><circle cx="401.6" cy="373.3" r="1.7" fill="#94c4e0"/><circle cx="430.8" cy="338.5" r="1.7" fill="#3374af"/><circle cx="400.8" cy="336.1" r="1.7" fill="#4f8fc0"/><circle cx="425.6" cy="359.9" r="1.7" fill="#dd6539"/><circle cx="439.9" cy="347.6" r="1.7" fill="#5d9bc8"/><circle cx="421.2" cy="380.9" r="1.7" fill="#f4b173"/><circle cx="444.7" cy="353.4" r="1.7" fill="#9ecbe4"/><circle cx="445.6" cy="363.2" r="1.7" fill="#5190c1"/><circle cx="451.2" cy="346.6" r="1.7" fill="#2563a1"/><circle cx="409.0" cy="378.2" r="1.7" fill="#e47744"/><circle cx="443.8" cy="321.4" r="1.7" fill="#f4af71"/><circle cx="439.1" cy="331.2" r="1.7" fill="#5796c5"/><circle cx="404.9" cy="349.3" r="1.7" fill="#6ca7cf"/><circle cx="396.1" cy="368.5" r="1.7" fill="#4687bb"/><circle cx="419.0" cy="348.5" r="1.7" fill="#db6037"/><circle cx="408.7" cy="370.2" r="1.7" fill="#f2aa6c"/><circle cx="415.6" cy="337.2" r="1.7" fill="#2462a0"/><circle cx="408.9" cy="364.9" r="1.7" fill="#5998c6"/><circle cx="431.5" cy="329.3" r="1.7" fill="#f3ae70"/><circle cx="408.3" cy="317.4" r="1.7" fill="#e2703f"/><circle cx="420.3" cy="370.6" r="1.7" fill="#d24a2c"/><circle cx="404.3" cy="318.8" r="1.7" fill="#e7804a"/><circle cx="426.2" cy="369.7" r="1.7" fill="#d4502f"/><circle cx="416.6" cy="374.5" r="1.7" fill="#ed9457"/><circle cx="443.8" cy="368.0" r="1.7" fill="#5393c3"/><circle cx="433.8" cy="378.1" r="1.7" fill="#e47643"/><circle cx="395.4" cy="350.5" r="1.7" fill="#70a9d1"/><circle cx="430.0" cy="375.9" r="1.7" fill="#ee985a"/><circle cx="408.2" cy="355.5" r="1.7" fill="#4f8fc0"/><circle cx="431.8" cy="362.7" r="1.7" fill="#4585ba"/><circle cx="425.9" cy="352.6" r="1.7" fill="#d0472a"/><circle cx="415.3" cy="322.7" r="1.7" fill="#c0281c"/><circle cx="430.5" cy="370.0" r="1.7" fill="#e47643"/><circle cx="397.0" cy="340.2" r="1.7" fill="#69a4cd"/><circle cx="414.9" cy="305.9" r="1.7" fill="#cc4027"/><circle cx="419.7" cy="375.5" r="1.7" fill="#e06c3d"/><circle cx="450.9" cy="342.4" r="1.7" fill="#6ca7cf"/><circle cx="432.9" cy="366.2" r="1.7" fill="#4888bc"/><circle cx="408.0" cy="338.6" r="1.7" fill="#d5522f"/><circle cx="424.6" cy="315.3" r="1.7" fill="#c63221"/><circle cx="422.9" cy="362.5" r="1.7" fill="#d1492b"/><circle cx="403.0" cy="370.0" r="1.7" fill="#82b7d9"/><circle cx="406.6" cy="360.2" r="1.7" fill="#4b8bbe"/><circle cx="426.1" cy="343.2" r="1.7" fill="#1d5493"/><circle cx="447.2" cy="332.7" r="1.7" fill="#5392c2"/><circle cx="440.3" cy="316.6" r="1.7" fill="#d65531"/><circle cx="422.5" cy="305.5" r="1.7" fill="#d24b2c"/><circle cx="402.2" cy="366.0" r="1.7" fill="#629eca"/><circle cx="412.6" cy="376.8" r="1.7" fill="#e4ecec"/><circle cx="410.4" cy="331.3" r="1.7" fill="#2867a4"/><circle cx="397.5" cy="353.1" r="1.7" fill="#a4cfe6"/><circle cx="391.8" cy="358.7" r="1.7" fill="#9fcbe4"/><circle cx="425.9" cy="306.5" r="1.7" fill="#cb3d26"/><circle cx="415.1" cy="326.6" r="1.7" fill="#c0271c"/><circle cx="402.7" cy="353.2" r="1.7" fill="#4989bc"/><circle cx="442.8" cy="342.8" r="1.7" fill="#69a4cd"/><circle cx="426.4" cy="379.6" r="1.7" fill="#9ac8e2"/><circle cx="392.6" cy="331.0" r="1.7" fill="#4081b7"/><circle cx="424.7" cy="324.4" r="1.7" fill="#e47542"/><circle cx="433.3" cy="312.1" r="1.7" fill="#eb8d52"/><circle cx="428.8" cy="332.1" r="1.7" fill="#215c9b"/><circle cx="426.2" cy="328.7" r="1.7" fill="#cd4128"/><circle cx="431.6" cy="352.6" r="1.7" fill="#67a3cd"/><circle cx="423.5" cy="373.7" r="1.7" fill="#d4e7ee"/><circle cx="438.8" cy="373.5" r="1.7" fill="#76aed3"/><circle cx="449.4" cy="338.2" r="1.7" fill="#5191c2"/><circle cx="390.8" cy="343.9" r="1.7" fill="#4d8dbf"/><circle cx="433.2" cy="359.2" r="1.7" fill="#7eb4d7"/><circle cx="447.0" cy="356.6" r="1.7" fill="#4889bc"/><circle cx="448.2" cy="360.5" r="1.7" fill="#4989bd"/><circle cx="392.9" cy="361.9" r="1.7" fill="#64a0cb"/><circle cx="444.0" cy="330.6" r="1.7" fill="#5494c3"/><circle cx="433.3" cy="324.3" r="1.7" fill="#f4af71"/><circle cx="425.1" cy="332.1" r="1.7" fill="#e27140"/><circle cx="429.1" cy="360.4" r="1.7" fill="#d95c35"/><circle cx="407.3" cy="313.1" r="1.7" fill="#d55330"/><circle cx="412.6" cy="345.4" r="1.7" fill="#2b6ba7"/><circle cx="399.3" cy="363.7" r="1.7" fill="#91c2df"/><circle cx="416.6" cy="382.6" r="1.7" fill="#ee9759"/><circle cx="404.6" cy="363.3" r="1.7" fill="#7cb3d6"/><circle cx="410.9" cy="311.3" r="1.7" fill="#df6a3c"/><circle cx="440.1" cy="361.7" r="1.7" fill="#5090c1"/><circle cx="411.6" cy="326.5" r="1.7" fill="#cf462a"/><circle cx="441.4" cy="323.9" r="1.7" fill="#ec9155"/><circle cx="426.4" cy="375.7" r="1.7" fill="#cfe6ef"/><circle cx="424.3" cy="320.8" r="1.7" fill="#cd4027"/><circle cx="437.3" cy="343.5" r="1.7" fill="#2d6ca9"/><circle cx="435.3" cy="373.5" r="1.7" fill="#d65531"/><circle cx="392.6" cy="336.1" r="1.7" fill="#2b6aa7"/><circle cx="430.7" cy="345.0" r="1.7" fill="#d65531"/><circle cx="409.5" cy="308.3" r="1.7" fill="#d0482b"/><circle cx="404.4" cy="315.1" r="1.7" fill="#dd6439"/><circle cx="399.8" cy="317.1" r="1.7" fill="#f7bd7f"/><circle cx="419.1" cy="366.0" r="1.7" fill="#d24c2c"/><circle cx="416.9" cy="377.7" r="1.7" fill="#5d9bc8"/><circle cx="431.0" cy="335.1" r="1.7" fill="#215b9a"/><circle cx="430.5" cy="348.6" r="1.7" fill="#cb3c26"/><circle cx="415.5" cy="318.5" r="1.7" fill="#db6037"/><circle cx="435.8" cy="337.5" r="1.7" fill="#225d9c"/><circle cx="389.4" cy="348.2" r="1.7" fill="#97c6e1"/><circle cx="438.4" cy="357.5" r="1.7" fill="#ed9457"/><circle cx="429.2" cy="311.4" r="1.7" fill="#c53121"/><circle cx="396.8" cy="325.3" r="1.7" fill="#ee995b"/><circle cx="444.4" cy="347.1" r="1.7" fill="#82b8d9"/><circle cx="425.1" cy="335.9" r="1.7" fill="#205998"/><circle cx="394.1" cy="347.4" r="1.7" fill="#2562a1"/><circle cx="417.0" cy="344.7" r="1.7" fill="#d1492b"/><circle cx="447.5" cy="342.4" r="1.7" fill="#2b6ba7"/><circle cx="414.9" cy="350.4" r="1.7" fill="#e67d48"/><circle cx="428.5" cy="322.2" r="1.7" fill="#e06b3c"/><circle cx="443.1" cy="339.4" r="1.7" fill="#4989bc"/><circle cx="392.0" cy="339.3" r="1.7" fill="#2867a4"/></g>
<text x="418.8" y="292.0" font-size="9.4" font-style="italic" fill="#1e1e1e">v<tspan font-size="6.3" font-style="normal" dy="1.7">3</tspan></text>
<path d="M559.7 374.7L555.0 373.6M559.7 374.7L556.8 376.6M559.7 374.7L561.9 378.2M559.7 374.7L561.8 370.4M583.9 336.7L587.2 335.7M583.9 336.7L580.4 333.5M583.9 336.7L582.2 341.5M583.9 336.7L583.4 332.1M583.9 336.7L579.3 337.3M573.6 305.7L573.0 309.9M573.6 305.7L576.2 310.1M573.6 305.7L569.9 308.5M573.6 305.7L568.6 304.7M560.6 342.5L562.3 335.4M560.6 342.5L559.5 347.3M560.6 342.5L563.6 339.9M560.6 342.5L554.5 342.2M563.1 320.2L556.0 321.3M563.1 320.2L558.8 319.0M563.1 320.2L561.0 322.6M563.1 320.2L560.2 315.8M577.1 314.9L580.2 318.5M577.1 314.9L576.2 310.1M577.1 314.9L579.8 309.2M577.1 314.9L580.5 312.5M577.1 314.9L573.3 314.0M558.2 306.2L562.4 311.3M558.2 306.2L555.8 309.7M558.2 306.2L562.2 305.6M558.2 306.2L559.2 309.3M556.0 321.3L558.8 319.0M556.0 321.3L551.8 323.7M556.0 321.3L561.0 322.6M556.0 321.3L557.4 326.4M573.0 309.9L576.2 310.1M573.0 309.9L579.8 309.2M573.0 309.9L569.7 315.0M573.0 309.9L569.9 308.5M573.0 309.9L568.6 304.7M573.0 309.9L573.3 314.0M586.5 372.5L587.5 366.0M586.5 372.5L581.2 376.7M586.5 372.5L582.7 368.3M586.5 372.5L589.5 369.8M586.5 372.5L582.7 371.7M565.2 373.5L565.3 378.4M565.2 373.5L569.4 373.3M565.2 373.5L565.5 369.0M565.2 373.5L561.8 370.4M576.6 377.7L578.6 372.5M576.6 377.7L581.2 376.7M576.6 377.7L573.5 375.1M576.6 377.7L575.5 381.0M576.6 377.7L571.8 380.9M538.4 361.3L542.9 364.7M538.4 361.3L537.7 357.5M538.4 361.3L544.3 359.4M538.4 361.3L541.0 357.4M554.7 328.6L560.6 328.7M554.7 328.6L551.8 323.7M554.7 328.6L549.8 331.3M554.7 328.6L555.8 335.4M554.7 328.6L557.4 326.4M576.9 358.6L575.1 363.0M576.9 358.6L578.6 362.8M576.9 358.6L571.5 357.4M576.9 358.6L575.7 355.4M576.9 358.6L579.9 357.4M579.4 346.7L585.2 348.2M579.4 346.7L576.9 342.2M579.4 346.7L582.2 341.5M579.4 346.7L580.4 350.7M579.4 346.7L574.1 351.1M570.4 323.5L571.0 319.3M570.4 323.5L573.9 325.7M570.4 323.5L574.4 320.7M570.4 323.5L577.9 323.0M587.2 335.7L593.5 334.8M587.2 335.7L590.8 331.1M587.2 335.7L586.6 330.4M587.2 335.7L583.4 332.1M570.6 331.2L573.9 325.7M570.6 331.2L575.7 333.2M570.6 331.2L577.2 327.4M570.6 331.2L571.5 335.5M552.9 376.7L555.0 373.6M552.9 376.7L556.8 376.6M552.9 376.7L551.8 372.8M552.9 376.7L549.6 375.2M552.9 376.7L557.2 380.5M575.1 363.0L576.0 367.0M575.1 363.0L578.6 362.8M575.1 363.0L572.6 360.5M575.1 363.0L572.5 366.3M562.4 311.3L562.2 305.6M562.4 311.3L556.4 314.1M562.4 311.3L560.2 315.8M562.4 311.3L559.2 309.3M555.8 309.7L553.5 312.7M555.8 309.7L556.4 314.1M555.8 309.7L550.0 311.7M555.8 309.7L559.2 309.3M547.9 327.8L545.1 325.7M547.9 327.8L551.8 323.7M547.9 327.8L547.5 334.0M547.9 327.8L549.8 331.3M547.9 327.8L544.0 330.0M543.7 355.1L537.7 357.5M543.7 355.1L544.3 359.4M543.7 355.1L541.0 357.4M543.7 355.1L545.6 352.1M543.7 355.1L547.6 354.6M543.7 355.1L541.1 351.4M542.9 364.7L548.3 365.0M542.9 364.7L544.3 359.4M542.9 364.7L542.5 369.0M580.2 318.5L583.7 320.8M580.2 318.5L584.6 314.7M580.2 318.5L577.9 323.0M580.4 333.5L580.0 329.7M580.4 333.5L575.7 333.2M580.4 333.5L583.4 332.1M580.4 333.5L579.3 337.3M551.5 368.7L548.3 365.0M551.5 368.7L546.4 369.6M551.5 368.7L551.8 372.8M551.5 368.7L554.5 366.3M565.3 352.3L560.0 352.3M565.3 352.3L571.1 349.9M565.3 352.3L564.4 358.5M565.3 352.3L565.1 348.4M548.3 365.0L548.1 361.4M548.3 365.0L546.4 369.6M548.3 365.0L542.5 369.0M560.7 382.1L565.3 378.4M560.7 382.1L566.1 381.5M560.7 382.1L561.9 378.2M560.7 382.1L557.2 380.5M576.2 310.1L579.8 309.2M576.2 310.1L580.5 312.5M576.2 310.1L573.3 314.0M591.8 365.6L587.5 366.0M591.8 365.6L591.6 359.6M591.8 365.6L593.3 362.5M591.8 365.6L589.5 369.8M591.8 365.6L588.3 361.2M597.0 341.8L593.1 340.4M597.0 341.8L592.3 346.4M597.0 341.8L595.5 345.5M597.0 341.8L595.9 337.8M538.4 346.0L535.6 344.3M538.4 346.0L542.2 348.1M538.4 346.0L539.9 341.8M538.4 346.0L538.2 349.5M545.1 325.7L539.9 326.7M545.1 325.7L544.0 330.0M545.1 325.7L547.1 321.7M545.1 325.7L542.8 322.1M578.6 372.5L579.5 368.4M578.6 372.5L581.2 376.7M578.6 372.5L574.2 370.9M578.6 372.5L582.7 371.7M585.2 348.2L587.7 350.3M585.2 348.2L585.1 343.5M585.2 348.2L588.7 346.1M585.2 348.2L583.7 351.7M585.2 348.2L580.4 350.7M537.7 357.5L541.0 357.4M537.7 357.5L535.9 353.1M587.7 350.3L590.9 349.6M587.7 350.3L583.7 351.7M587.7 350.3L587.2 354.0M535.6 344.3L539.9 341.8M535.6 344.3L538.2 349.5M535.6 344.3L536.1 338.8M546.8 337.3L547.5 334.0M546.8 337.3L551.7 338.6M546.8 337.3L541.3 338.8M546.8 337.3L544.7 342.9M587.5 366.0L585.4 363.5M587.5 366.0L582.7 368.3M587.5 366.0L589.5 369.8M587.5 366.0L588.3 361.2M580.0 329.7L582.2 325.9M580.0 329.7L583.4 332.1M580.0 329.7L577.2 327.4M593.5 334.8L590.8 331.1M593.5 334.8L593.1 340.4M593.5 334.8L595.9 337.8M542.2 348.1L545.6 352.1M542.2 348.1L538.2 349.5M542.2 348.1L547.6 348.7M542.2 348.1L544.7 342.9M542.2 348.1L541.1 351.4M565.3 378.4L570.1 377.9M565.3 378.4L566.1 381.5M565.3 378.4L561.9 378.2M586.7 318.0L583.7 320.8M586.7 318.0L584.6 314.7M586.7 318.0L587.3 324.4M586.7 318.0L590.7 322.8M585.1 343.5L588.4 342.8M585.1 343.5L588.7 346.1M585.1 343.5L582.2 341.5M579.5 368.4L576.0 367.0M579.5 368.4L582.7 368.3M579.5 368.4L582.7 371.7M555.0 373.6L556.9 369.8M555.0 373.6L556.8 376.6M555.0 373.6L551.8 372.8M555.0 373.6L549.6 375.2M537.4 335.8L540.3 331.6M537.4 335.8L541.3 338.8M537.4 335.8L536.1 338.8M537.4 335.8L540.9 335.4M544.3 359.4L541.0 357.4M544.3 359.4L548.1 361.4M593.8 351.9L590.9 349.6M593.8 351.9L591.9 356.2M593.8 351.9L596.0 354.8M593.8 351.9L595.8 349.1M588.4 342.8L588.7 346.1M588.4 342.8L593.1 340.4M588.4 342.8L592.3 346.4M560.0 352.3L555.9 351.5M560.0 352.3L559.5 347.3M560.0 352.3L560.8 358.4M583.7 320.8L584.6 314.7M583.7 320.8L587.3 324.4M583.7 320.8L582.2 325.9M583.7 320.8L590.7 322.8M584.6 314.7L580.5 312.5M571.1 349.9L570.4 345.0M571.1 349.9L565.1 348.4M571.1 349.9L574.1 351.1M581.2 376.7L582.7 371.7M540.3 331.6L539.9 326.7M540.3 331.6L544.0 330.0M540.3 331.6L540.9 335.4M590.9 349.6L588.7 346.1M590.9 349.6L592.3 346.4M590.9 349.6L595.8 349.1M553.5 312.7L551.7 316.4M553.5 312.7L556.4 314.1M553.5 312.7L550.0 311.7M556.9 369.8L559.0 367.0M556.9 369.8L554.5 366.3M556.9 369.8L561.8 370.4M541.0 357.4L535.9 353.1M590.8 331.1L586.6 330.4M590.8 331.1L592.6 325.8M588.7 346.1L592.3 346.4M571.0 319.3L569.7 315.0M571.0 319.3L574.4 320.7M571.0 319.3L573.3 314.0M548.1 361.4L551.5 358.1M548.1 361.4L553.1 361.2M586.6 330.4L587.3 324.4M586.6 330.4L592.6 325.8M586.6 330.4L583.4 332.1M570.1 377.9L566.1 381.5M570.1 377.9L573.5 375.1M570.1 377.9L575.5 381.0M570.1 377.9L569.4 373.3M570.1 377.9L571.8 380.9M587.3 324.4L592.6 325.8M587.3 324.4L582.2 325.9M587.3 324.4L590.7 322.8M546.4 369.6L542.5 369.0M546.4 369.6L546.0 373.4M557.3 361.2L557.2 357.8M557.3 361.2L553.1 361.2M557.3 361.2L559.8 363.7M557.3 361.2L560.8 358.4M591.6 359.6L593.3 362.5M591.6 359.6L591.9 356.2M591.6 359.6L588.3 361.2M591.6 359.6L596.0 354.8M551.5 358.1L547.6 354.6M551.5 358.1L557.2 357.8M551.5 358.1L553.1 361.2M551.5 358.1L551.0 354.5M563.0 364.8L559.0 367.0M563.0 364.8L565.5 369.0M563.0 364.8L564.4 358.5M563.0 364.8L559.8 363.7M563.0 364.8L561.8 370.4M592.6 325.8L590.7 322.8M593.1 340.4L595.5 345.5M593.1 340.4L595.9 337.8M576.0 367.0L574.2 370.9M576.0 367.0L578.6 362.8M576.0 367.0L572.5 366.3M584.6 360.0L585.4 363.5M584.6 360.0L583.9 355.1M584.6 360.0L588.3 361.2M584.6 360.0L579.9 357.4M559.0 367.0L554.5 366.3M559.0 367.0L559.8 363.7M559.0 367.0L561.8 370.4M566.1 381.5L571.8 380.9M566.1 381.5L561.9 378.2M569.1 367.8L569.4 373.3M569.1 367.8L565.5 369.0M569.1 367.8L569.3 363.9M569.1 367.8L572.5 366.3M558.8 319.0L561.0 322.6M558.8 319.0L560.2 315.8M579.8 309.2L580.5 312.5M539.9 326.7L544.0 330.0M539.9 326.7L542.8 322.1M573.5 375.1L575.5 381.0M573.5 375.1L569.4 373.3M573.5 375.1L574.2 370.9M585.4 363.5L582.7 368.3M585.4 363.5L588.3 361.2M575.5 381.0L571.8 380.9M560.6 328.7L562.3 335.4M560.6 328.7L561.0 322.6M560.6 328.7L557.4 326.4M593.3 362.5L591.9 356.2M593.3 362.5L588.3 361.2M539.9 341.8L541.3 338.8M539.9 341.8L544.7 342.9M539.9 341.8L536.1 338.8M551.8 323.7L547.1 321.7M551.8 323.7L549.9 319.2M562.2 305.6L568.6 304.7M562.2 305.6L559.2 309.3M591.9 356.2L587.2 354.0M591.9 356.2L596.0 354.8M545.6 352.1L547.6 354.6M545.6 352.1L547.6 348.7M545.6 352.1L541.1 351.4M545.6 352.1L551.0 354.5M573.9 325.7L574.4 320.7M573.9 325.7L577.9 323.0M573.9 325.7L577.2 327.4M583.9 355.1L583.7 351.7M583.9 355.1L587.2 354.0M583.9 355.1L580.4 350.7M583.9 355.1L579.9 357.4M551.7 316.4L556.4 314.1M551.7 316.4L547.4 314.9M551.7 316.4L550.0 311.7M551.7 316.4L549.9 319.2M562.3 335.4L555.8 335.4M562.3 335.4L563.6 339.9M544.8 318.7L547.4 314.9M544.8 318.7L547.1 321.7M544.8 318.7L549.9 319.2M544.8 318.7L542.8 322.1M569.4 373.3L574.2 370.9M555.9 351.5L557.2 357.8M555.9 351.5L559.5 347.3M555.9 351.5L551.0 354.5M556.8 376.6L557.2 380.5M576.9 342.2L582.2 341.5M576.9 342.2L570.4 345.0M576.9 342.2L579.3 337.3M576.9 342.2L573.0 341.6M547.5 334.0L549.8 331.3M547.5 334.0L544.0 330.0M547.5 334.0L551.7 338.6M582.2 341.5L579.3 337.3M569.7 315.0L569.9 308.5M569.7 315.0L573.3 314.0M592.3 346.4L595.5 345.5M592.3 346.4L595.8 349.1M551.8 372.8L549.6 375.2M551.8 372.8L546.0 373.4M574.2 370.9L572.5 366.3M554.5 366.3L553.1 361.2M578.6 362.8L579.9 357.4M549.6 375.2L546.0 373.4M556.4 314.1L560.2 315.8M547.4 314.9L550.0 311.7M547.4 314.9L549.9 319.2M549.8 331.3L544.0 330.0M538.2 349.5L535.9 353.1M538.2 349.5L541.1 351.4M561.0 322.6L557.4 326.4M595.5 345.5L595.9 337.8M595.5 345.5L595.8 349.1M583.7 351.7L587.2 354.0M583.7 351.7L580.4 350.7M565.5 369.0L561.8 370.4M582.2 325.9L577.9 323.0M582.2 325.9L577.2 327.4M547.6 354.6L547.6 348.7M547.6 354.6L551.0 354.5M569.3 363.9L572.6 360.5M569.3 363.9L569.4 360.0M569.3 363.9L572.5 366.3M557.2 357.8L553.1 361.2M557.2 357.8L560.8 358.4M574.4 320.7L577.9 323.0M535.9 353.1L541.1 351.4M564.4 358.5L560.8 358.4M564.4 358.5L569.4 360.0M555.8 335.4L551.7 338.6M555.8 335.4L554.5 342.2M551.7 338.6L554.5 342.2M541.3 338.8L544.7 342.9M541.3 338.8L536.1 338.8M541.3 338.8L540.9 335.4M572.6 360.5L571.5 357.4M572.6 360.5L569.4 360.0M569.9 308.5L568.6 304.7M569.9 308.5L573.3 314.0M559.5 347.3L563.6 339.9M559.5 347.3L565.1 348.4M559.5 347.3L554.5 342.2M547.6 348.7L544.7 342.9M582.7 368.3L589.5 369.8M582.7 368.3L582.7 371.7M547.1 321.7L549.9 319.2M547.1 321.7L542.8 322.1M577.9 323.0L577.2 327.4M561.9 378.2L557.2 380.5M571.5 357.4L575.7 355.4M571.5 357.4L569.4 360.0M575.7 333.2L579.3 337.3M575.7 333.2L571.5 335.5M563.6 339.9L570.4 345.0M580.4 350.7L574.1 351.1M570.4 345.0L565.1 348.4M570.4 345.0L573.0 341.6M542.5 369.0L546.0 373.4M536.1 338.8L540.9 335.4M559.8 363.7L560.8 358.4M579.3 337.3L571.5 335.5M579.3 337.3L573.0 341.6M575.7 355.4L579.9 357.4M575.7 355.4L574.1 351.1M596.0 354.8L595.8 349.1M571.5 335.5L573.0 341.6" stroke="#9a9a9a" stroke-width="0.45" fill="none"/>
<g><circle cx="588.7" cy="346.1" r="1.7" fill="#c83723"/><circle cx="583.4" cy="332.1" r="1.7" fill="#e9884f"/><circle cx="596.0" cy="354.8" r="1.7" fill="#f8c183"/><circle cx="551.5" cy="368.7" r="1.7" fill="#eff0eb"/><circle cx="577.9" cy="323.0" r="1.7" fill="#2765a3"/><circle cx="595.9" cy="337.8" r="1.7" fill="#df6a3c"/><circle cx="576.6" cy="377.7" r="1.7" fill="#2b6aa7"/><circle cx="547.9" cy="327.8" r="1.7" fill="#3678b1"/><circle cx="542.5" cy="369.0" r="1.7" fill="#b8dbec"/><circle cx="565.3" cy="352.3" r="1.7" fill="#1d5493"/><circle cx="573.0" cy="341.6" r="1.7" fill="#d1482b"/><circle cx="579.9" cy="357.4" r="1.7" fill="#ed9558"/><circle cx="582.2" cy="341.5" r="1.7" fill="#de673a"/><circle cx="546.8" cy="337.3" r="1.7" fill="#d0e6ef"/><circle cx="570.6" cy="331.2" r="1.7" fill="#c83823"/><circle cx="586.6" cy="330.4" r="1.7" fill="#ed9658"/><circle cx="565.2" cy="373.5" r="1.7" fill="#2867a4"/><circle cx="535.6" cy="344.3" r="1.7" fill="#5998c6"/><circle cx="557.4" cy="326.4" r="1.7" fill="#2664a2"/><circle cx="566.1" cy="381.5" r="1.7" fill="#3273ae"/><circle cx="587.2" cy="354.0" r="1.7" fill="#facb91"/><circle cx="576.2" cy="310.1" r="1.7" fill="#cf4529"/><circle cx="574.4" cy="320.7" r="1.7" fill="#d85933"/><circle cx="559.5" cy="347.3" r="1.7" fill="#4182b8"/><circle cx="545.6" cy="352.1" r="1.7" fill="#4c8cbf"/><circle cx="583.7" cy="351.7" r="1.7" fill="#e67c47"/><circle cx="591.6" cy="359.6" r="1.7" fill="#ef9c5e"/><circle cx="572.6" cy="360.5" r="1.7" fill="#d95b34"/><circle cx="581.2" cy="376.7" r="1.7" fill="#f7bd7f"/><circle cx="573.0" cy="309.9" r="1.7" fill="#d0472a"/><circle cx="584.6" cy="360.0" r="1.7" fill="#e5edec"/><circle cx="593.1" cy="340.4" r="1.7" fill="#e67e49"/><circle cx="540.3" cy="331.6" r="1.7" fill="#2e6eaa"/><circle cx="585.4" cy="363.5" r="1.7" fill="#f2aa6c"/><circle cx="580.4" cy="333.5" r="1.7" fill="#d85a33"/><circle cx="555.9" cy="351.5" r="1.7" fill="#215d9c"/><circle cx="557.2" cy="357.8" r="1.7" fill="#2563a1"/><circle cx="538.2" cy="349.5" r="1.7" fill="#8cbfdd"/><circle cx="539.9" cy="326.7" r="1.7" fill="#4a8abd"/><circle cx="555.8" cy="335.4" r="1.7" fill="#1b508f"/><circle cx="557.2" cy="380.5" r="1.7" fill="#3172ad"/><circle cx="579.8" cy="309.2" r="1.7" fill="#e9874f"/><circle cx="569.3" cy="363.9" r="1.7" fill="#d55230"/><circle cx="590.8" cy="331.1" r="1.7" fill="#eb8d52"/><circle cx="553.5" cy="312.7" r="1.7" fill="#3577b1"/><circle cx="585.2" cy="348.2" r="1.7" fill="#f4af71"/><circle cx="582.7" cy="368.3" r="1.7" fill="#ec9155"/><circle cx="571.0" cy="319.3" r="1.7" fill="#d85a33"/><circle cx="546.4" cy="369.6" r="1.7" fill="#4384b9"/><circle cx="590.9" cy="349.6" r="1.7" fill="#df6a3c"/><circle cx="551.7" cy="338.6" r="1.7" fill="#65a1cc"/><circle cx="544.8" cy="318.7" r="1.7" fill="#f9c88d"/><circle cx="556.0" cy="321.3" r="1.7" fill="#3071ac"/><circle cx="546.0" cy="373.4" r="1.7" fill="#dbeaed"/><circle cx="571.5" cy="357.4" r="1.7" fill="#cd4228"/><circle cx="547.4" cy="314.9" r="1.7" fill="#3172ad"/><circle cx="559.7" cy="374.7" r="1.7" fill="#1d5493"/><circle cx="583.7" cy="320.8" r="1.7" fill="#da5e36"/><circle cx="542.8" cy="322.1" r="1.7" fill="#225e9d"/><circle cx="548.3" cy="365.0" r="1.7" fill="#5e9bc8"/><circle cx="577.2" cy="327.4" r="1.7" fill="#3678b1"/><circle cx="544.0" cy="330.0" r="1.7" fill="#3b7db4"/><circle cx="569.4" cy="373.3" r="1.7" fill="#2b6aa7"/><circle cx="540.9" cy="335.4" r="1.7" fill="#5493c3"/><circle cx="560.0" cy="352.3" r="1.7" fill="#3071ac"/><circle cx="556.8" cy="376.6" r="1.7" fill="#2f70ab"/><circle cx="541.1" cy="351.4" r="1.7" fill="#75add3"/><circle cx="590.7" cy="322.8" r="1.7" fill="#e47643"/><circle cx="548.1" cy="361.4" r="1.7" fill="#619eca"/><circle cx="555.0" cy="373.6" r="1.7" fill="#3a7bb3"/><circle cx="537.4" cy="335.8" r="1.7" fill="#3d7eb5"/><circle cx="579.5" cy="368.4" r="1.7" fill="#e7edec"/><circle cx="587.7" cy="350.3" r="1.7" fill="#ee975a"/><circle cx="554.5" cy="342.2" r="1.7" fill="#f1a567"/><circle cx="595.8" cy="349.1" r="1.7" fill="#da5e36"/><circle cx="536.1" cy="338.8" r="1.7" fill="#fbd29b"/><circle cx="589.5" cy="369.8" r="1.7" fill="#ef9c5e"/><circle cx="560.6" cy="328.7" r="1.7" fill="#2866a4"/><circle cx="568.6" cy="304.7" r="1.7" fill="#2c6ca8"/><circle cx="597.0" cy="341.8" r="1.7" fill="#e9864e"/><circle cx="583.9" cy="336.7" r="1.7" fill="#f2aa6c"/><circle cx="586.5" cy="372.5" r="1.7" fill="#fbd39c"/><circle cx="562.4" cy="311.3" r="1.7" fill="#2765a3"/><circle cx="549.8" cy="331.3" r="1.7" fill="#fbd39d"/><circle cx="577.1" cy="314.9" r="1.7" fill="#c73623"/><circle cx="551.8" cy="323.7" r="1.7" fill="#5b99c7"/><circle cx="579.4" cy="346.7" r="1.7" fill="#d24b2c"/><circle cx="575.7" cy="355.4" r="1.7" fill="#de673a"/><circle cx="584.6" cy="314.7" r="1.7" fill="#dd6539"/><circle cx="570.4" cy="345.0" r="1.7" fill="#db6037"/><circle cx="547.1" cy="321.7" r="1.7" fill="#64a0cb"/><circle cx="555.8" cy="309.7" r="1.7" fill="#225e9d"/><circle cx="560.2" cy="315.8" r="1.7" fill="#2866a4"/><circle cx="575.1" cy="363.0" r="1.7" fill="#d0462a"/><circle cx="563.6" cy="339.9" r="1.7" fill="#2a69a6"/><circle cx="554.7" cy="328.6" r="1.7" fill="#ee9a5c"/><circle cx="554.5" cy="366.3" r="1.7" fill="#4f8fc0"/><circle cx="569.7" cy="315.0" r="1.7" fill="#da5d35"/><circle cx="583.9" cy="355.1" r="1.7" fill="#f6b97b"/><circle cx="563.1" cy="320.2" r="1.7" fill="#2664a2"/><circle cx="592.3" cy="346.4" r="1.7" fill="#f0a264"/><circle cx="547.5" cy="334.0" r="1.7" fill="#4f8fc0"/><circle cx="587.2" cy="335.7" r="1.7" fill="#eb8f54"/><circle cx="560.7" cy="382.1" r="1.7" fill="#2d6ea9"/><circle cx="580.0" cy="329.7" r="1.7" fill="#ee9759"/><circle cx="538.4" cy="361.3" r="1.7" fill="#92c3e0"/><circle cx="593.3" cy="362.5" r="1.7" fill="#df693b"/><circle cx="542.9" cy="364.7" r="1.7" fill="#7eb4d7"/><circle cx="588.4" cy="342.8" r="1.7" fill="#db6037"/><circle cx="576.0" cy="367.0" r="1.7" fill="#225e9d"/><circle cx="544.3" cy="359.4" r="1.7" fill="#f7e8d0"/><circle cx="549.6" cy="375.2" r="1.7" fill="#9bc9e3"/><circle cx="573.5" cy="375.1" r="1.7" fill="#2766a3"/><circle cx="545.1" cy="325.7" r="1.7" fill="#397bb3"/><circle cx="541.0" cy="357.4" r="1.7" fill="#9ecbe4"/><circle cx="586.7" cy="318.0" r="1.7" fill="#ee985a"/><circle cx="578.6" cy="372.5" r="1.7" fill="#2968a5"/><circle cx="582.2" cy="325.9" r="1.7" fill="#d65531"/><circle cx="572.5" cy="366.3" r="1.7" fill="#2a69a6"/><circle cx="569.1" cy="367.8" r="1.7" fill="#d0482a"/><circle cx="538.4" cy="346.0" r="1.7" fill="#2f6fab"/><circle cx="587.3" cy="324.4" r="1.7" fill="#ca3a24"/><circle cx="593.5" cy="334.8" r="1.7" fill="#db6037"/><circle cx="553.1" cy="361.2" r="1.7" fill="#7eb4d7"/><circle cx="557.3" cy="361.2" r="1.7" fill="#3b7db4"/><circle cx="573.3" cy="314.0" r="1.7" fill="#cf4529"/><circle cx="542.2" cy="348.1" r="1.7" fill="#619eca"/><circle cx="580.4" cy="350.7" r="1.7" fill="#ec9356"/><circle cx="556.9" cy="369.8" r="1.7" fill="#397bb3"/><circle cx="570.1" cy="377.9" r="1.7" fill="#c0271c"/><circle cx="559.2" cy="309.3" r="1.7" fill="#4081b7"/><circle cx="569.4" cy="360.0" r="1.7" fill="#3677b1"/><circle cx="560.8" cy="358.4" r="1.7" fill="#3374af"/><circle cx="574.1" cy="351.1" r="1.7" fill="#c42f1f"/><circle cx="564.4" cy="358.5" r="1.7" fill="#2765a3"/><circle cx="549.9" cy="319.2" r="1.7" fill="#f6ba7c"/><circle cx="560.6" cy="342.5" r="1.7" fill="#2563a1"/><circle cx="559.0" cy="367.0" r="1.7" fill="#3678b1"/><circle cx="570.4" cy="323.5" r="1.7" fill="#235f9e"/><circle cx="592.6" cy="325.8" r="1.7" fill="#dc6238"/><circle cx="579.3" cy="337.3" r="1.7" fill="#e47643"/><circle cx="591.8" cy="365.6" r="1.7" fill="#d95b34"/><circle cx="558.8" cy="319.0" r="1.7" fill="#1f5897"/><circle cx="582.7" cy="371.7" r="1.7" fill="#f09f61"/><circle cx="576.9" cy="358.6" r="1.7" fill="#d24c2c"/><circle cx="571.1" cy="349.9" r="1.7" fill="#e06b3c"/><circle cx="551.8" cy="372.8" r="1.7" fill="#c9e4ef"/><circle cx="587.5" cy="366.0" r="1.7" fill="#f4f1ea"/><circle cx="550.0" cy="311.7" r="1.7" fill="#397ab3"/><circle cx="573.6" cy="305.7" r="1.7" fill="#db5f36"/><circle cx="562.2" cy="305.6" r="1.7" fill="#3374af"/><circle cx="552.9" cy="376.7" r="1.7" fill="#4888bc"/><circle cx="544.7" cy="342.9" r="1.7" fill="#3476b0"/><circle cx="569.9" cy="308.5" r="1.7" fill="#205998"/><circle cx="575.5" cy="381.0" r="1.7" fill="#d55330"/><circle cx="593.8" cy="351.9" r="1.7" fill="#8cbfde"/><circle cx="551.7" cy="316.4" r="1.7" fill="#3e7fb6"/><circle cx="591.9" cy="356.2" r="1.7" fill="#eb8d53"/><circle cx="535.9" cy="353.1" r="1.7" fill="#a9d1e7"/><circle cx="559.8" cy="363.7" r="1.7" fill="#2a69a6"/><circle cx="561.0" cy="322.6" r="1.7" fill="#3374af"/><circle cx="573.9" cy="325.7" r="1.7" fill="#3879b2"/><circle cx="561.9" cy="378.2" r="1.7" fill="#2663a2"/><circle cx="565.1" cy="348.4" r="1.7" fill="#1f5796"/><circle cx="565.3" cy="378.4" r="1.7" fill="#225e9d"/><circle cx="585.1" cy="343.5" r="1.7" fill="#d75732"/><circle cx="576.9" cy="342.2" r="1.7" fill="#da5d35"/><circle cx="588.3" cy="361.2" r="1.7" fill="#d1e7ee"/><circle cx="551.5" cy="358.1" r="1.7" fill="#77afd4"/><circle cx="539.9" cy="341.8" r="1.7" fill="#77afd4"/><circle cx="558.2" cy="306.2" r="1.7" fill="#215b9a"/><circle cx="574.2" cy="370.9" r="1.7" fill="#2867a4"/><circle cx="562.3" cy="335.4" r="1.7" fill="#1c5291"/><circle cx="561.8" cy="370.4" r="1.7" fill="#2b6ba7"/><circle cx="565.5" cy="369.0" r="1.7" fill="#397ab3"/><circle cx="580.2" cy="318.5" r="1.7" fill="#f6b87a"/><circle cx="556.4" cy="314.1" r="1.7" fill="#1b4f8e"/><circle cx="563.0" cy="364.8" r="1.7" fill="#2a69a6"/><circle cx="551.0" cy="354.5" r="1.7" fill="#6ba5ce"/><circle cx="595.5" cy="345.5" r="1.7" fill="#e9884f"/><circle cx="571.5" cy="335.5" r="1.7" fill="#4f8fc0"/><circle cx="541.3" cy="338.8" r="1.7" fill="#f7bd7f"/><circle cx="537.7" cy="357.5" r="1.7" fill="#4081b7"/><circle cx="547.6" cy="354.6" r="1.7" fill="#87bbdb"/><circle cx="575.7" cy="333.2" r="1.7" fill="#d65531"/><circle cx="580.5" cy="312.5" r="1.7" fill="#f7bf81"/><circle cx="543.7" cy="355.1" r="1.7" fill="#6fa9d0"/><circle cx="578.6" cy="362.8" r="1.7" fill="#ce4328"/><circle cx="547.6" cy="348.7" r="1.7" fill="#6ea8d0"/><circle cx="571.8" cy="380.9" r="1.7" fill="#2664a2"/></g>
<text x="564.8" y="292.0" font-size="9.4" font-style="italic" fill="#1e1e1e">v<tspan font-size="6.3" font-style="normal" dy="1.7">4</tspan></text>
<defs><linearGradient id="cb2" x1="0" y1="1" x2="0" y2="0"><stop offset="0.000" stop-color="#1b4f8e"/><stop offset="0.050" stop-color="#1f5896"/><stop offset="0.100" stop-color="#23609f"/><stop offset="0.150" stop-color="#2c6ba8"/><stop offset="0.200" stop-color="#3476b0"/><stop offset="0.250" stop-color="#4686ba"/><stop offset="0.300" stop-color="#5796c5"/><stop offset="0.350" stop-color="#72abd2"/><stop offset="0.400" stop-color="#8dc0de"/><stop offset="0.450" stop-color="#c5e3f0"/><stop offset="0.500" stop-color="#f4f1ea"/><stop offset="0.550" stop-color="#fcd9a5"/><stop offset="0.600" stop-color="#f8c183"/><stop offset="0.650" stop-color="#f3ac6e"/><stop offset="0.700" stop-color="#ee985a"/><stop offset="0.750" stop-color="#e8844c"/><stop offset="0.800" stop-color="#e2703f"/><stop offset="0.850" stop-color="#da5e36"/><stop offset="0.900" stop-color="#d24b2c"/><stop offset="0.950" stop-color="#c93924"/><stop offset="1.000" stop-color="#c0271c"/></linearGradient></defs>
<rect x="656.7" y="278.2" width="6.10" height="126.50" fill="url(#cb2)"/>
<text x="665.0" y="406.0" font-size="3.8" fill="#8a8a8a">0</text>
<text x="665.0" y="393.4" font-size="3.8" fill="#8a8a8a">0.1</text>
<text x="665.0" y="380.7" font-size="3.8" fill="#8a8a8a">0.2</text>
<text x="665.0" y="368.1" font-size="3.8" fill="#8a8a8a">0.3</text>
<text x="665.0" y="355.4" font-size="3.8" fill="#8a8a8a">0.4</text>
<text x="665.0" y="342.8" font-size="3.8" fill="#8a8a8a">0.5</text>
<text x="665.0" y="330.1" font-size="3.8" fill="#8a8a8a">0.6</text>
<text x="665.0" y="317.4" font-size="3.8" fill="#8a8a8a">0.7</text>
<text x="665.0" y="304.8" font-size="3.8" fill="#8a8a8a">0.8</text>
<text x="665.0" y="292.1" font-size="3.8" fill="#8a8a8a">0.9</text>
<text x="665.0" y="279.5" font-size="3.8" fill="#8a8a8a">1</text>
<text transform="translate(680.7,342.4) rotate(90)" font-size="7.9" text-anchor="middle" fill="#222">order by increasing values</text>
<g fill="none" stroke="#a6a6a6" stroke-width="0.55"><circle cx="63.3" cy="606.1" r="1.15"/><circle cx="69.7" cy="588.4" r="1.15"/><circle cx="76.5" cy="582.6" r="1.15"/><circle cx="74.8" cy="613.0" r="1.15"/><circle cx="48.3" cy="609.9" r="1.15"/><circle cx="100.2" cy="612.6" r="1.15"/><circle cx="81.2" cy="618.4" r="1.15"/><circle cx="67.0" cy="591.4" r="1.15"/><circle cx="43.2" cy="605.9" r="1.15"/><circle cx="98.6" cy="595.1" r="1.15"/><circle cx="105.1" cy="603.7" r="1.15"/><circle cx="54.6" cy="592.5" r="1.15"/><circle cx="81.4" cy="592.9" r="1.15"/><circle cx="67.7" cy="610.5" r="1.15"/><circle cx="83.0" cy="581.6" r="1.15"/><circle cx="87.5" cy="582.0" r="1.15"/><circle cx="47.2" cy="597.0" r="1.15"/><circle cx="87.7" cy="618.8" r="1.15"/><circle cx="82.7" cy="599.8" r="1.15"/><circle cx="72.8" cy="581.3" r="1.15"/><circle cx="77.0" cy="620.8" r="1.15"/><circle cx="110.3" cy="598.1" r="1.15"/><circle cx="51.7" cy="618.5" r="1.15"/><circle cx="59.6" cy="607.1" r="1.15"/><circle cx="52.3" cy="602.9" r="1.15"/><circle cx="50.0" cy="607.1" r="1.15"/><circle cx="96.2" cy="603.0" r="1.15"/><circle cx="50.6" cy="612.2" r="1.15"/><circle cx="72.8" cy="616.3" r="1.15"/><circle cx="72.5" cy="608.8" r="1.15"/><circle cx="60.6" cy="612.3" r="1.15"/><circle cx="80.0" cy="604.7" r="1.15"/><circle cx="70.7" cy="596.2" r="1.15"/><circle cx="76.7" cy="594.9" r="1.15"/><circle cx="56.8" cy="601.4" r="1.15"/><circle cx="65.6" cy="603.5" r="1.15"/><circle cx="82.7" cy="596.3" r="1.15"/><circle cx="93.2" cy="627.7" r="1.15"/><circle cx="86.1" cy="591.1" r="1.15"/><circle cx="101.5" cy="605.9" r="1.15"/><circle cx="80.7" cy="610.4" r="1.15"/><circle cx="93.6" cy="610.1" r="1.15"/><circle cx="51.3" cy="592.9" r="1.15"/><circle cx="75.6" cy="586.6" r="1.15"/><circle cx="103.9" cy="595.8" r="1.15"/><circle cx="110.1" cy="606.4" r="1.15"/><circle cx="68.5" cy="615.6" r="1.15"/><circle cx="68.8" cy="606.6" r="1.15"/><circle cx="101.2" cy="600.8" r="1.15"/><circle cx="64.7" cy="626.4" r="1.15"/><circle cx="85.3" cy="612.9" r="1.15"/><circle cx="110.3" cy="602.6" r="1.15"/><circle cx="95.7" cy="592.1" r="1.15"/><circle cx="89.6" cy="587.2" r="1.15"/><circle cx="73.9" cy="591.9" r="1.15"/><circle cx="91.8" cy="596.0" r="1.15"/><circle cx="84.0" cy="606.2" r="1.15"/><circle cx="62.3" cy="601.5" r="1.15"/><circle cx="72.9" cy="626.9" r="1.15"/><circle cx="57.1" cy="614.1" r="1.15"/><circle cx="65.0" cy="617.3" r="1.15"/><circle cx="82.8" cy="627.0" r="1.15"/><circle cx="77.2" cy="617.0" r="1.15"/><circle cx="59.9" cy="591.4" r="1.15"/><circle cx="54.3" cy="621.7" r="1.15"/><circle cx="96.5" cy="612.2" r="1.15"/><circle cx="98.8" cy="608.6" r="1.15"/><circle cx="62.3" cy="589.1" r="1.15"/><circle cx="69.1" cy="622.0" r="1.15"/><circle cx="57.3" cy="589.3" r="1.15"/><circle cx="61.2" cy="627.1" r="1.15"/><circle cx="59.0" cy="617.7" r="1.15"/><circle cx="62.3" cy="598.2" r="1.15"/><circle cx="64.8" cy="613.8" r="1.15"/><circle cx="67.3" cy="595.1" r="1.15"/><circle cx="90.0" cy="608.4" r="1.15"/><circle cx="92.0" cy="591.6" r="1.15"/><circle cx="93.6" cy="599.7" r="1.15"/><circle cx="61.5" cy="620.0" r="1.15"/><circle cx="59.5" cy="622.8" r="1.15"/><circle cx="47.8" cy="593.4" r="1.15"/><circle cx="79.9" cy="587.1" r="1.15"/><circle cx="80.6" cy="614.3" r="1.15"/><circle cx="45.2" cy="612.3" r="1.15"/><circle cx="77.2" cy="602.8" r="1.15"/><circle cx="56.7" cy="605.4" r="1.15"/><circle cx="78.3" cy="590.5" r="1.15"/><circle cx="54.9" cy="610.2" r="1.15"/><circle cx="65.3" cy="585.3" r="1.15"/><circle cx="87.8" cy="615.4" r="1.15"/><circle cx="107.1" cy="607.6" r="1.15"/><circle cx="88.9" cy="628.2" r="1.15"/><circle cx="48.9" cy="601.1" r="1.15"/><circle cx="51.3" cy="598.2" r="1.15"/><circle cx="76.2" cy="608.8" r="1.15"/><circle cx="106.5" cy="600.3" r="1.15"/><circle cx="72.0" cy="600.7" r="1.15"/><circle cx="84.5" cy="586.3" r="1.15"/><circle cx="68.3" cy="629.0" r="1.15"/><circle cx="87.4" cy="605.1" r="1.15"/><circle cx="46.0" cy="602.5" r="1.15"/><circle cx="101.5" cy="590.0" r="1.15"/></g>
<g fill="#1d4f8f"><circle cx="103.9" cy="610.0" r="1.6"/><circle cx="108.2" cy="611.6" r="1.6"/><circle cx="110.9" cy="612.3" r="1.6"/><circle cx="104.3" cy="614.6" r="1.6"/><circle cx="111.1" cy="615.6" r="1.6"/><circle cx="113.6" cy="615.0" r="1.6"/><circle cx="113.9" cy="617.5" r="1.6"/><circle cx="107.1" cy="617.3" r="1.6"/><circle cx="104.3" cy="617.9" r="1.6"/><circle cx="102.1" cy="619.3" r="1.6"/><circle cx="102.5" cy="620.7" r="1.6"/><circle cx="97.5" cy="617.1" r="1.6"/><circle cx="95.4" cy="618.9" r="1.6"/><circle cx="94.3" cy="620.4" r="1.6"/><circle cx="110.0" cy="620.0" r="1.6"/><circle cx="111.1" cy="620.7" r="1.6"/><circle cx="83.2" cy="623.2" r="1.6"/><circle cx="87.9" cy="625.0" r="1.6"/><circle cx="90.0" cy="624.3" r="1.6"/><circle cx="95.4" cy="625.0" r="1.6"/><circle cx="100.7" cy="624.3" r="1.6"/><circle cx="101.8" cy="625.0" r="1.6"/><circle cx="107.1" cy="623.6" r="1.6"/><circle cx="107.1" cy="625.7" r="1.6"/><circle cx="111.8" cy="625.6" r="1.6"/><circle cx="113.2" cy="625.4" r="1.6"/><circle cx="76.8" cy="627.9" r="1.6"/><circle cx="78.2" cy="627.3" r="1.6"/></g>
<g fill="none" stroke="#a6a6a6" stroke-width="0.55"><circle cx="140.5" cy="599.0" r="1.15"/><circle cx="187.1" cy="591.9" r="1.15"/><circle cx="168.9" cy="598.5" r="1.15"/><circle cx="170.7" cy="626.3" r="1.15"/><circle cx="198.2" cy="605.1" r="1.15"/><circle cx="148.9" cy="594.7" r="1.15"/><circle cx="152.8" cy="605.9" r="1.15"/><circle cx="201.8" cy="610.8" r="1.15"/><circle cx="148.3" cy="617.4" r="1.15"/><circle cx="150.9" cy="613.0" r="1.15"/><circle cx="138.2" cy="617.2" r="1.15"/><circle cx="165.2" cy="582.7" r="1.15"/><circle cx="174.2" cy="597.2" r="1.15"/><circle cx="142.1" cy="609.5" r="1.15"/><circle cx="149.0" cy="623.9" r="1.15"/><circle cx="157.4" cy="592.0" r="1.15"/><circle cx="163.1" cy="624.7" r="1.15"/><circle cx="193.3" cy="605.9" r="1.15"/><circle cx="152.0" cy="618.5" r="1.15"/><circle cx="164.6" cy="620.2" r="1.15"/><circle cx="190.3" cy="612.7" r="1.15"/><circle cx="196.1" cy="615.6" r="1.15"/><circle cx="171.4" cy="605.0" r="1.15"/><circle cx="170.9" cy="620.1" r="1.15"/><circle cx="151.5" cy="598.6" r="1.15"/><circle cx="149.8" cy="587.4" r="1.15"/><circle cx="192.9" cy="624.2" r="1.15"/><circle cx="193.4" cy="601.5" r="1.15"/><circle cx="184.8" cy="623.9" r="1.15"/><circle cx="163.4" cy="609.6" r="1.15"/><circle cx="155.2" cy="600.0" r="1.15"/><circle cx="165.5" cy="627.2" r="1.15"/><circle cx="186.3" cy="611.5" r="1.15"/><circle cx="197.3" cy="620.4" r="1.15"/><circle cx="149.8" cy="604.4" r="1.15"/><circle cx="137.1" cy="608.4" r="1.15"/><circle cx="197.7" cy="611.5" r="1.15"/><circle cx="140.5" cy="619.8" r="1.15"/><circle cx="156.0" cy="616.0" r="1.15"/><circle cx="175.0" cy="625.3" r="1.15"/><circle cx="179.4" cy="593.9" r="1.15"/><circle cx="189.1" cy="600.4" r="1.15"/><circle cx="182.9" cy="607.0" r="1.15"/><circle cx="177.9" cy="597.8" r="1.15"/><circle cx="187.4" cy="595.9" r="1.15"/><circle cx="142.4" cy="615.9" r="1.15"/><circle cx="159.3" cy="584.7" r="1.15"/><circle cx="147.8" cy="609.9" r="1.15"/><circle cx="202.5" cy="616.6" r="1.15"/><circle cx="153.3" cy="591.6" r="1.15"/><circle cx="179.8" cy="620.6" r="1.15"/><circle cx="189.5" cy="607.8" r="1.15"/><circle cx="182.7" cy="600.9" r="1.15"/><circle cx="189.8" cy="616.5" r="1.15"/><circle cx="136.4" cy="598.7" r="1.15"/><circle cx="157.8" cy="624.9" r="1.15"/><circle cx="186.4" cy="604.8" r="1.15"/><circle cx="167.6" cy="624.5" r="1.15"/><circle cx="191.3" cy="627.2" r="1.15"/><circle cx="132.4" cy="612.1" r="1.15"/><circle cx="192.9" cy="619.5" r="1.15"/><circle cx="182.8" cy="587.5" r="1.15"/><circle cx="198.3" cy="598.3" r="1.15"/><circle cx="181.5" cy="627.2" r="1.15"/><circle cx="201.5" cy="604.5" r="1.15"/><circle cx="171.3" cy="601.3" r="1.15"/><circle cx="186.6" cy="617.6" r="1.15"/><circle cx="174.0" cy="616.9" r="1.15"/><circle cx="160.3" cy="611.1" r="1.15"/><circle cx="163.8" cy="602.9" r="1.15"/><circle cx="152.8" cy="609.2" r="1.15"/><circle cx="140.3" cy="613.4" r="1.15"/><circle cx="182.6" cy="613.2" r="1.15"/><circle cx="139.3" cy="595.4" r="1.15"/><circle cx="202.3" cy="621.2" r="1.15"/><circle cx="190.1" cy="593.9" r="1.15"/><circle cx="192.8" cy="596.9" r="1.15"/><circle cx="146.6" cy="591.2" r="1.15"/><circle cx="190.3" cy="588.7" r="1.15"/><circle cx="135.3" cy="602.9" r="1.15"/><circle cx="145.1" cy="599.6" r="1.15"/><circle cx="177.4" cy="618.3" r="1.15"/><circle cx="176.4" cy="606.0" r="1.15"/><circle cx="144.8" cy="588.5" r="1.15"/><circle cx="154.8" cy="583.6" r="1.15"/><circle cx="153.2" cy="627.3" r="1.15"/><circle cx="145.2" cy="619.3" r="1.15"/><circle cx="132.4" cy="605.9" r="1.15"/><circle cx="141.2" cy="605.3" r="1.15"/><circle cx="140.5" cy="592.0" r="1.15"/><circle cx="145.1" cy="624.0" r="1.15"/><circle cx="157.6" cy="603.5" r="1.15"/><circle cx="184.5" cy="620.0" r="1.15"/><circle cx="195.9" cy="594.3" r="1.15"/><circle cx="176.9" cy="602.3" r="1.15"/><circle cx="180.8" cy="617.5" r="1.15"/></g>
<g fill="#1d4f8f"><circle cx="171.0" cy="582.8" r="1.6"/><circle cx="172.0" cy="584.1" r="1.6"/><circle cx="177.1" cy="582.8" r="1.6"/><circle cx="178.7" cy="584.1" r="1.6"/><circle cx="178.1" cy="585.7" r="1.6"/><circle cx="181.0" cy="581.9" r="1.6"/><circle cx="173.3" cy="585.7" r="1.6"/><circle cx="170.4" cy="587.6" r="1.6"/><circle cx="171.3" cy="587.0" r="1.6"/><circle cx="176.5" cy="589.2" r="1.6"/><circle cx="177.1" cy="590.9" r="1.6"/><circle cx="172.3" cy="589.9" r="1.6"/><circle cx="170.7" cy="591.8" r="1.6"/><circle cx="170.7" cy="594.1" r="1.6"/><circle cx="165.6" cy="590.2" r="1.6"/><circle cx="163.0" cy="595.4" r="1.6"/><circle cx="166.2" cy="596.0" r="1.6"/><circle cx="160.4" cy="597.9" r="1.6"/><circle cx="159.5" cy="600.5" r="1.6"/><circle cx="165.9" cy="600.2" r="1.6"/><circle cx="159.5" cy="606.9" r="1.6"/><circle cx="165.6" cy="605.6" r="1.6"/><circle cx="166.9" cy="605.0" r="1.6"/><circle cx="169.1" cy="611.1" r="1.6"/><circle cx="173.3" cy="610.1" r="1.6"/><circle cx="172.6" cy="611.7" r="1.6"/><circle cx="178.4" cy="608.5" r="1.6"/><circle cx="177.5" cy="613.2" r="1.6"/><circle cx="168.8" cy="615.0" r="1.6"/><circle cx="164.0" cy="615.0" r="1.6"/><circle cx="162.0" cy="616.9" r="1.6"/><circle cx="160.7" cy="619.5" r="1.6"/><circle cx="155.0" cy="621.1" r="1.6"/><circle cx="155.0" cy="622.7" r="1.6"/></g>
<g fill="none" stroke="#a6a6a6" stroke-width="0.55"><circle cx="245.2" cy="609.1" r="1.15"/><circle cx="232.2" cy="622.8" r="1.15"/><circle cx="260.3" cy="626.3" r="1.15"/><circle cx="241.3" cy="590.4" r="1.15"/><circle cx="254.3" cy="624.9" r="1.15"/><circle cx="226.4" cy="605.1" r="1.15"/><circle cx="263.9" cy="623.4" r="1.15"/><circle cx="253.7" cy="605.1" r="1.15"/><circle cx="251.2" cy="610.1" r="1.15"/><circle cx="220.1" cy="600.4" r="1.15"/><circle cx="238.1" cy="590.1" r="1.15"/><circle cx="282.9" cy="617.3" r="1.15"/><circle cx="224.1" cy="599.0" r="1.15"/><circle cx="265.2" cy="595.2" r="1.15"/><circle cx="263.1" cy="618.5" r="1.15"/><circle cx="283.4" cy="622.8" r="1.15"/><circle cx="240.1" cy="607.8" r="1.15"/><circle cx="250.8" cy="619.1" r="1.15"/><circle cx="245.3" cy="625.4" r="1.15"/><circle cx="288.0" cy="617.2" r="1.15"/><circle cx="271.5" cy="608.1" r="1.15"/><circle cx="254.3" cy="593.8" r="1.15"/><circle cx="248.1" cy="599.5" r="1.15"/><circle cx="268.5" cy="601.6" r="1.15"/><circle cx="261.8" cy="592.1" r="1.15"/><circle cx="249.6" cy="585.0" r="1.15"/><circle cx="235.1" cy="601.9" r="1.15"/><circle cx="257.0" cy="612.7" r="1.15"/><circle cx="257.6" cy="622.5" r="1.15"/><circle cx="272.2" cy="604.1" r="1.15"/><circle cx="251.9" cy="599.1" r="1.15"/><circle cx="243.8" cy="601.1" r="1.15"/><circle cx="228.3" cy="621.0" r="1.15"/><circle cx="261.2" cy="599.0" r="1.15"/><circle cx="268.7" cy="628.4" r="1.15"/><circle cx="248.3" cy="628.0" r="1.15"/><circle cx="277.8" cy="600.3" r="1.15"/><circle cx="221.6" cy="608.8" r="1.15"/><circle cx="239.5" cy="597.2" r="1.15"/><circle cx="262.9" cy="614.5" r="1.15"/><circle cx="267.8" cy="584.2" r="1.15"/><circle cx="255.8" cy="597.3" r="1.15"/><circle cx="236.1" cy="586.9" r="1.15"/><circle cx="235.6" cy="615.8" r="1.15"/><circle cx="226.7" cy="611.2" r="1.15"/><circle cx="230.7" cy="591.5" r="1.15"/><circle cx="248.5" cy="595.6" r="1.15"/><circle cx="273.4" cy="615.7" r="1.15"/><circle cx="245.4" cy="589.1" r="1.15"/><circle cx="250.0" cy="603.1" r="1.15"/><circle cx="248.3" cy="606.5" r="1.15"/><circle cx="237.2" cy="622.8" r="1.15"/><circle cx="231.8" cy="609.2" r="1.15"/><circle cx="257.9" cy="617.8" r="1.15"/><circle cx="260.8" cy="587.6" r="1.15"/><circle cx="263.9" cy="582.4" r="1.15"/><circle cx="254.1" cy="585.1" r="1.15"/><circle cx="281.4" cy="625.4" r="1.15"/><circle cx="260.8" cy="621.2" r="1.15"/><circle cx="245.5" cy="597.5" r="1.15"/><circle cx="272.4" cy="595.4" r="1.15"/><circle cx="262.9" cy="601.6" r="1.15"/><circle cx="276.4" cy="627.3" r="1.15"/><circle cx="238.5" cy="612.5" r="1.15"/><circle cx="239.3" cy="619.2" r="1.15"/><circle cx="226.2" cy="592.8" r="1.15"/><circle cx="220.7" cy="613.9" r="1.15"/><circle cx="276.1" cy="609.8" r="1.15"/><circle cx="266.7" cy="616.3" r="1.15"/><circle cx="274.7" cy="624.3" r="1.15"/><circle cx="251.3" cy="588.3" r="1.15"/><circle cx="249.6" cy="614.4" r="1.15"/><circle cx="285.7" cy="608.7" r="1.15"/><circle cx="223.7" cy="603.0" r="1.15"/><circle cx="289.8" cy="621.8" r="1.15"/><circle cx="245.1" cy="618.0" r="1.15"/><circle cx="276.3" cy="618.2" r="1.15"/><circle cx="284.3" cy="593.0" r="1.15"/><circle cx="243.3" cy="614.2" r="1.15"/><circle cx="230.1" cy="613.1" r="1.15"/><circle cx="234.3" cy="611.7" r="1.15"/><circle cx="235.6" cy="626.1" r="1.15"/><circle cx="218.1" cy="607.3" r="1.15"/><circle cx="279.9" cy="612.3" r="1.15"/><circle cx="276.8" cy="613.4" r="1.15"/><circle cx="255.5" cy="609.0" r="1.15"/><circle cx="260.7" cy="607.4" r="1.15"/><circle cx="254.7" cy="601.0" r="1.15"/><circle cx="265.0" cy="628.2" r="1.15"/><circle cx="222.3" cy="596.3" r="1.15"/><circle cx="271.6" cy="599.3" r="1.15"/><circle cx="270.0" cy="616.6" r="1.15"/><circle cx="247.7" cy="623.1" r="1.15"/><circle cx="234.7" cy="605.5" r="1.15"/><circle cx="221.0" cy="605.1" r="1.15"/><circle cx="268.1" cy="609.4" r="1.15"/><circle cx="245.5" cy="604.6" r="1.15"/><circle cx="267.9" cy="624.2" r="1.15"/><circle cx="250.5" cy="592.8" r="1.15"/><circle cx="243.1" cy="594.1" r="1.15"/><circle cx="263.7" cy="589.4" r="1.15"/><circle cx="254.1" cy="615.0" r="1.15"/><circle cx="268.3" cy="605.4" r="1.15"/><circle cx="279.8" cy="606.6" r="1.15"/><circle cx="285.0" cy="602.3" r="1.15"/><circle cx="233.1" cy="599.2" r="1.15"/><circle cx="229.2" cy="597.7" r="1.15"/><circle cx="259.9" cy="603.0" r="1.15"/><circle cx="256.1" cy="587.6" r="1.15"/><circle cx="286.1" cy="620.0" r="1.15"/><circle cx="268.9" cy="588.1" r="1.15"/><circle cx="286.6" cy="612.9" r="1.15"/><circle cx="274.3" cy="621.1" r="1.15"/><circle cx="230.9" cy="617.1" r="1.15"/><circle cx="255.4" cy="628.8" r="1.15"/><circle cx="250.3" cy="581.4" r="1.15"/><circle cx="271.8" cy="611.7" r="1.15"/><circle cx="274.4" cy="590.9" r="1.15"/><circle cx="241.5" cy="583.9" r="1.15"/></g>
<g fill="#1d4f8f"><circle cx="273.6" cy="585.9" r="1.6"/><circle cx="272.7" cy="587.2" r="1.6"/><circle cx="278.5" cy="589.0" r="1.6"/><circle cx="271.1" cy="591.3" r="1.6"/><circle cx="277.9" cy="593.2" r="1.6"/><circle cx="275.6" cy="596.2" r="1.6"/><circle cx="283.0" cy="596.2" r="1.6"/><circle cx="282.2" cy="597.7" r="1.6"/><circle cx="283.3" cy="606.4" r="1.6"/><circle cx="287.1" cy="604.8" r="1.6"/><circle cx="287.8" cy="606.1" r="1.6"/></g>
<g fill="none" stroke="#a6a6a6" stroke-width="0.55"><circle cx="316.5" cy="607.8" r="1.15"/><circle cx="340.4" cy="587.0" r="1.15"/><circle cx="362.0" cy="613.3" r="1.15"/><circle cx="342.2" cy="625.5" r="1.15"/><circle cx="320.5" cy="612.0" r="1.15"/><circle cx="329.9" cy="622.7" r="1.15"/><circle cx="363.2" cy="592.9" r="1.15"/><circle cx="308.2" cy="602.0" r="1.15"/><circle cx="314.0" cy="594.8" r="1.15"/><circle cx="345.5" cy="583.6" r="1.15"/><circle cx="327.4" cy="585.3" r="1.15"/><circle cx="322.3" cy="617.8" r="1.15"/><circle cx="365.6" cy="620.4" r="1.15"/><circle cx="322.3" cy="603.5" r="1.15"/><circle cx="344.9" cy="605.3" r="1.15"/><circle cx="355.6" cy="589.5" r="1.15"/><circle cx="348.9" cy="582.9" r="1.15"/><circle cx="341.5" cy="610.9" r="1.15"/><circle cx="322.0" cy="589.1" r="1.15"/><circle cx="369.5" cy="603.6" r="1.15"/><circle cx="320.3" cy="621.4" r="1.15"/><circle cx="369.5" cy="595.7" r="1.15"/><circle cx="323.8" cy="622.3" r="1.15"/><circle cx="358.9" cy="591.7" r="1.15"/><circle cx="366.9" cy="625.2" r="1.15"/><circle cx="351.2" cy="610.3" r="1.15"/><circle cx="319.9" cy="596.7" r="1.15"/><circle cx="345.9" cy="593.5" r="1.15"/><circle cx="374.5" cy="598.3" r="1.15"/><circle cx="357.6" cy="612.5" r="1.15"/><circle cx="368.8" cy="613.2" r="1.15"/><circle cx="371.9" cy="621.8" r="1.15"/><circle cx="364.1" cy="602.4" r="1.15"/><circle cx="359.7" cy="607.2" r="1.15"/><circle cx="351.1" cy="589.1" r="1.15"/><circle cx="327.8" cy="618.9" r="1.15"/><circle cx="356.9" cy="618.7" r="1.15"/><circle cx="363.0" cy="585.6" r="1.15"/><circle cx="347.5" cy="616.9" r="1.15"/><circle cx="359.4" cy="621.7" r="1.15"/><circle cx="368.3" cy="607.3" r="1.15"/><circle cx="340.8" cy="628.5" r="1.15"/><circle cx="375.6" cy="609.0" r="1.15"/><circle cx="362.4" cy="609.4" r="1.15"/><circle cx="317.8" cy="600.0" r="1.15"/><circle cx="351.2" cy="628.7" r="1.15"/><circle cx="364.3" cy="616.4" r="1.15"/><circle cx="312.8" cy="617.6" r="1.15"/><circle cx="313.1" cy="606.3" r="1.15"/><circle cx="313.8" cy="612.4" r="1.15"/><circle cx="353.9" cy="613.1" r="1.15"/><circle cx="346.6" cy="601.9" r="1.15"/><circle cx="371.6" cy="606.2" r="1.15"/><circle cx="321.3" cy="600.0" r="1.15"/><circle cx="360.6" cy="587.8" r="1.15"/><circle cx="324.9" cy="593.9" r="1.15"/><circle cx="308.2" cy="612.7" r="1.15"/><circle cx="342.0" cy="618.2" r="1.15"/><circle cx="368.5" cy="590.4" r="1.15"/><circle cx="355.1" cy="626.4" r="1.15"/><circle cx="338.4" cy="581.8" r="1.15"/><circle cx="372.8" cy="616.2" r="1.15"/><circle cx="356.6" cy="608.9" r="1.15"/><circle cx="338.9" cy="590.9" r="1.15"/><circle cx="326.1" cy="611.3" r="1.15"/><circle cx="352.2" cy="621.2" r="1.15"/><circle cx="327.9" cy="589.3" r="1.15"/><circle cx="377.6" cy="605.6" r="1.15"/><circle cx="344.0" cy="615.0" r="1.15"/><circle cx="332.4" cy="596.3" r="1.15"/><circle cx="342.7" cy="589.4" r="1.15"/><circle cx="336.6" cy="587.5" r="1.15"/><circle cx="374.6" cy="623.8" r="1.15"/><circle cx="376.7" cy="617.2" r="1.15"/><circle cx="327.6" cy="625.6" r="1.15"/><circle cx="334.1" cy="618.5" r="1.15"/><circle cx="348.9" cy="613.5" r="1.15"/><circle cx="317.1" cy="591.3" r="1.15"/><circle cx="332.6" cy="588.1" r="1.15"/><circle cx="358.6" cy="604.1" r="1.15"/><circle cx="333.4" cy="623.4" r="1.15"/><circle cx="345.4" cy="619.8" r="1.15"/><circle cx="363.6" cy="597.0" r="1.15"/><circle cx="338.4" cy="595.2" r="1.15"/><circle cx="323.2" cy="596.9" r="1.15"/><circle cx="347.2" cy="626.9" r="1.15"/><circle cx="353.4" cy="591.9" r="1.15"/><circle cx="331.6" cy="627.2" r="1.15"/><circle cx="378.5" cy="613.8" r="1.15"/><circle cx="340.7" cy="604.3" r="1.15"/><circle cx="367.2" cy="599.4" r="1.15"/><circle cx="337.8" cy="625.7" r="1.15"/><circle cx="378.1" cy="620.8" r="1.15"/><circle cx="363.0" cy="623.4" r="1.15"/><circle cx="348.5" cy="623.6" r="1.15"/><circle cx="338.2" cy="598.9" r="1.15"/><circle cx="329.7" cy="608.2" r="1.15"/><circle cx="324.8" cy="614.2" r="1.15"/><circle cx="339.6" cy="607.9" r="1.15"/><circle cx="317.3" cy="617.6" r="1.15"/><circle cx="356.7" cy="586.1" r="1.15"/><circle cx="358.6" cy="615.7" r="1.15"/><circle cx="337.3" cy="604.0" r="1.15"/><circle cx="334.3" cy="608.7" r="1.15"/><circle cx="358.4" cy="625.7" r="1.15"/><circle cx="306.5" cy="608.4" r="1.15"/><circle cx="334.2" cy="583.4" r="1.15"/></g>
<g fill="#1d4f8f"><circle cx="329.5" cy="597.7" r="1.6"/><circle cx="327.8" cy="603.2" r="1.6"/><circle cx="329.9" cy="604.1" r="1.6"/><circle cx="331.7" cy="604.8" r="1.6"/><circle cx="321.8" cy="607.1" r="1.6"/><circle cx="322.7" cy="608.2" r="1.6"/><circle cx="330.1" cy="613.1" r="1.6"/><circle cx="331.7" cy="614.4" r="1.6"/><circle cx="336.6" cy="612.9" r="1.6"/><circle cx="338.1" cy="612.9" r="1.6"/><circle cx="342.7" cy="595.1" r="1.6"/><circle cx="343.6" cy="597.4" r="1.6"/><circle cx="345.3" cy="608.6" r="1.6"/><circle cx="350.1" cy="596.2" r="1.6"/><circle cx="350.4" cy="598.3" r="1.6"/><circle cx="350.1" cy="600.0" r="1.6"/><circle cx="349.8" cy="603.9" r="1.6"/><circle cx="350.7" cy="604.8" r="1.6"/><circle cx="354.6" cy="595.1" r="1.6"/><circle cx="356.9" cy="595.5" r="1.6"/><circle cx="355.2" cy="600.5" r="1.6"/><circle cx="357.1" cy="600.3" r="1.6"/><circle cx="360.3" cy="600.0" r="1.6"/></g>
<g fill="none" stroke="#a6a6a6" stroke-width="0.55"><circle cx="406.9" cy="597.1" r="1.15"/><circle cx="434.8" cy="608.9" r="1.15"/><circle cx="439.7" cy="608.8" r="1.15"/><circle cx="455.0" cy="619.5" r="1.15"/><circle cx="462.6" cy="602.1" r="1.15"/><circle cx="456.4" cy="599.0" r="1.15"/><circle cx="439.8" cy="592.8" r="1.15"/><circle cx="425.6" cy="602.2" r="1.15"/><circle cx="462.6" cy="624.7" r="1.15"/><circle cx="442.7" cy="620.8" r="1.15"/><circle cx="415.0" cy="612.1" r="1.15"/><circle cx="449.2" cy="588.6" r="1.15"/><circle cx="435.0" cy="591.3" r="1.15"/><circle cx="449.4" cy="599.2" r="1.15"/><circle cx="411.4" cy="609.5" r="1.15"/><circle cx="401.7" cy="603.2" r="1.15"/><circle cx="397.5" cy="599.7" r="1.15"/><circle cx="460.8" cy="619.3" r="1.15"/><circle cx="438.4" cy="583.9" r="1.15"/><circle cx="419.2" cy="599.7" r="1.15"/><circle cx="431.8" cy="618.5" r="1.15"/><circle cx="442.4" cy="603.2" r="1.15"/><circle cx="445.0" cy="594.1" r="1.15"/><circle cx="424.3" cy="606.0" r="1.15"/><circle cx="453.9" cy="594.1" r="1.15"/><circle cx="452.8" cy="614.0" r="1.15"/><circle cx="416.0" cy="621.8" r="1.15"/><circle cx="451.9" cy="590.5" r="1.15"/><circle cx="421.4" cy="618.4" r="1.15"/><circle cx="435.8" cy="618.6" r="1.15"/><circle cx="450.3" cy="604.3" r="1.15"/><circle cx="467.4" cy="618.8" r="1.15"/><circle cx="424.4" cy="595.3" r="1.15"/><circle cx="454.1" cy="625.3" r="1.15"/><circle cx="445.9" cy="609.2" r="1.15"/><circle cx="412.6" cy="588.3" r="1.15"/><circle cx="419.6" cy="627.2" r="1.15"/><circle cx="418.6" cy="604.6" r="1.15"/><circle cx="427.4" cy="618.4" r="1.15"/><circle cx="442.1" cy="616.2" r="1.15"/><circle cx="448.1" cy="612.4" r="1.15"/><circle cx="456.1" cy="605.0" r="1.15"/><circle cx="443.8" cy="611.7" r="1.15"/><circle cx="396.5" cy="606.9" r="1.15"/><circle cx="412.2" cy="599.3" r="1.15"/><circle cx="423.5" cy="590.2" r="1.15"/><circle cx="451.2" cy="617.1" r="1.15"/><circle cx="447.3" cy="616.9" r="1.15"/><circle cx="437.3" cy="595.3" r="1.15"/><circle cx="433.8" cy="613.1" r="1.15"/><circle cx="419.2" cy="613.1" r="1.15"/><circle cx="419.4" cy="609.3" r="1.15"/><circle cx="408.5" cy="602.6" r="1.15"/><circle cx="427.2" cy="586.3" r="1.15"/><circle cx="435.5" cy="599.3" r="1.15"/><circle cx="460.2" cy="597.3" r="1.15"/><circle cx="445.5" cy="599.0" r="1.15"/><circle cx="404.8" cy="592.9" r="1.15"/><circle cx="439.1" cy="598.6" r="1.15"/><circle cx="444.9" cy="585.9" r="1.15"/><circle cx="415.5" cy="591.0" r="1.15"/><circle cx="420.4" cy="591.2" r="1.15"/><circle cx="418.1" cy="588.1" r="1.15"/><circle cx="402.5" cy="608.1" r="1.15"/><circle cx="422.3" cy="586.5" r="1.15"/><circle cx="429.1" cy="600.1" r="1.15"/><circle cx="422.3" cy="598.2" r="1.15"/><circle cx="441.6" cy="596.4" r="1.15"/><circle cx="412.7" cy="605.2" r="1.15"/><circle cx="447.5" cy="606.2" r="1.15"/><circle cx="418.3" cy="596.2" r="1.15"/><circle cx="439.5" cy="618.9" r="1.15"/><circle cx="461.2" cy="613.3" r="1.15"/><circle cx="422.0" cy="624.2" r="1.15"/><circle cx="465.6" cy="607.0" r="1.15"/><circle cx="424.7" cy="583.4" r="1.15"/><circle cx="430.3" cy="613.8" r="1.15"/><circle cx="414.6" cy="584.9" r="1.15"/><circle cx="430.6" cy="623.6" r="1.15"/><circle cx="409.6" cy="595.3" r="1.15"/><circle cx="465.9" cy="611.9" r="1.15"/><circle cx="448.8" cy="627.5" r="1.15"/><circle cx="457.6" cy="615.7" r="1.15"/><circle cx="428.1" cy="607.3" r="1.15"/><circle cx="443.1" cy="606.4" r="1.15"/><circle cx="433.1" cy="603.6" r="1.15"/><circle cx="434.5" cy="623.0" r="1.15"/><circle cx="402.0" cy="596.3" r="1.15"/><circle cx="462.4" cy="610.0" r="1.15"/><circle cx="446.1" cy="602.3" r="1.15"/><circle cx="416.6" cy="607.7" r="1.15"/><circle cx="407.1" cy="612.3" r="1.15"/><circle cx="427.8" cy="595.1" r="1.15"/><circle cx="431.1" cy="593.9" r="1.15"/><circle cx="436.6" cy="615.2" r="1.15"/><circle cx="425.7" cy="612.8" r="1.15"/><circle cx="405.1" cy="603.1" r="1.15"/><circle cx="408.5" cy="592.1" r="1.15"/><circle cx="413.1" cy="594.1" r="1.15"/><circle cx="443.4" cy="627.7" r="1.15"/><circle cx="406.1" cy="589.1" r="1.15"/><circle cx="424.8" cy="621.6" r="1.15"/><circle cx="430.1" cy="583.2" r="1.15"/><circle cx="416.2" cy="618.5" r="1.15"/><circle cx="459.2" cy="609.3" r="1.15"/><circle cx="407.8" cy="608.6" r="1.15"/><circle cx="434.6" cy="583.7" r="1.15"/><circle cx="459.7" cy="593.0" r="1.15"/><circle cx="410.1" cy="621.9" r="1.15"/><circle cx="426.8" cy="591.5" r="1.15"/><circle cx="403.1" cy="618.5" r="1.15"/><circle cx="438.2" cy="612.3" r="1.15"/><circle cx="430.8" cy="597.2" r="1.15"/><circle cx="404.0" cy="613.4" r="1.15"/><circle cx="418.0" cy="584.4" r="1.15"/></g>
<g fill="#1d4f8f"><circle cx="395.0" cy="609.9" r="1.6"/><circle cx="401.1" cy="612.1" r="1.6"/><circle cx="400.2" cy="616.0" r="1.6"/><circle cx="406.6" cy="615.7" r="1.6"/><circle cx="407.5" cy="618.0" r="1.6"/><circle cx="412.0" cy="615.4" r="1.6"/><circle cx="413.0" cy="619.8" r="1.6"/><circle cx="416.5" cy="628.3" r="1.6"/><circle cx="424.8" cy="628.6" r="1.6"/><circle cx="425.1" cy="630.5" r="1.6"/><circle cx="432.3" cy="627.5" r="1.6"/><circle cx="439.0" cy="625.7" r="1.6"/><circle cx="440.9" cy="625.2" r="1.6"/><circle cx="446.7" cy="623.4" r="1.6"/><circle cx="448.6" cy="622.4" r="1.6"/></g>
<g fill="none" stroke="#a6a6a6" stroke-width="0.55"><circle cx="491.1" cy="593.9" r="1.15"/><circle cx="544.8" cy="618.7" r="1.15"/><circle cx="502.9" cy="621.1" r="1.15"/><circle cx="524.9" cy="606.3" r="1.15"/><circle cx="531.8" cy="586.8" r="1.15"/><circle cx="541.6" cy="609.2" r="1.15"/><circle cx="533.6" cy="609.5" r="1.15"/><circle cx="525.4" cy="596.7" r="1.15"/><circle cx="544.9" cy="614.9" r="1.15"/><circle cx="517.3" cy="618.8" r="1.15"/><circle cx="548.1" cy="597.0" r="1.15"/><circle cx="530.3" cy="602.2" r="1.15"/><circle cx="499.8" cy="617.5" r="1.15"/><circle cx="504.3" cy="615.4" r="1.15"/><circle cx="513.4" cy="610.9" r="1.15"/><circle cx="538.4" cy="599.6" r="1.15"/><circle cx="546.3" cy="603.3" r="1.15"/><circle cx="511.4" cy="619.2" r="1.15"/><circle cx="538.7" cy="611.7" r="1.15"/><circle cx="520.7" cy="582.9" r="1.15"/><circle cx="540.2" cy="620.1" r="1.15"/><circle cx="534.7" cy="594.5" r="1.15"/><circle cx="538.9" cy="593.4" r="1.15"/><circle cx="549.2" cy="626.2" r="1.15"/><circle cx="518.0" cy="624.3" r="1.15"/><circle cx="503.7" cy="585.2" r="1.15"/><circle cx="521.3" cy="621.9" r="1.15"/><circle cx="506.2" cy="621.8" r="1.15"/><circle cx="497.6" cy="609.8" r="1.15"/><circle cx="501.7" cy="609.6" r="1.15"/><circle cx="549.7" cy="618.5" r="1.15"/><circle cx="516.1" cy="585.7" r="1.15"/><circle cx="500.6" cy="602.2" r="1.15"/><circle cx="525.1" cy="586.3" r="1.15"/><circle cx="550.7" cy="612.5" r="1.15"/><circle cx="522.5" cy="628.7" r="1.15"/><circle cx="528.3" cy="626.5" r="1.15"/><circle cx="485.0" cy="613.4" r="1.15"/><circle cx="535.9" cy="624.5" r="1.15"/><circle cx="518.9" cy="596.5" r="1.15"/><circle cx="537.6" cy="585.4" r="1.15"/><circle cx="509.2" cy="627.5" r="1.15"/><circle cx="513.3" cy="594.5" r="1.15"/><circle cx="518.7" cy="605.6" r="1.15"/><circle cx="541.1" cy="605.3" r="1.15"/><circle cx="512.6" cy="604.1" r="1.15"/><circle cx="535.3" cy="588.3" r="1.15"/><circle cx="490.5" cy="611.6" r="1.15"/><circle cx="498.7" cy="587.4" r="1.15"/><circle cx="533.3" cy="618.6" r="1.15"/><circle cx="534.1" cy="614.2" r="1.15"/><circle cx="508.2" cy="607.8" r="1.15"/><circle cx="491.4" cy="615.4" r="1.15"/><circle cx="518.9" cy="592.0" r="1.15"/><circle cx="505.6" cy="626.4" r="1.15"/><circle cx="510.8" cy="590.6" r="1.15"/><circle cx="516.8" cy="611.1" r="1.15"/><circle cx="532.3" cy="623.5" r="1.15"/><circle cx="496.5" cy="619.7" r="1.15"/><circle cx="519.4" cy="614.1" r="1.15"/><circle cx="529.7" cy="596.7" r="1.15"/><circle cx="529.0" cy="620.9" r="1.15"/><circle cx="517.4" cy="602.0" r="1.15"/><circle cx="505.1" cy="611.8" r="1.15"/><circle cx="498.2" cy="623.3" r="1.15"/><circle cx="539.6" cy="616.2" r="1.15"/><circle cx="543.9" cy="622.5" r="1.15"/><circle cx="530.5" cy="613.5" r="1.15"/><circle cx="508.2" cy="615.1" r="1.15"/><circle cx="550.6" cy="600.3" r="1.15"/><circle cx="523.4" cy="600.0" r="1.15"/><circle cx="547.8" cy="593.6" r="1.15"/><circle cx="554.0" cy="618.3" r="1.15"/><circle cx="536.7" cy="603.2" r="1.15"/><circle cx="515.2" cy="628.0" r="1.15"/><circle cx="495.5" cy="589.7" r="1.15"/><circle cx="554.1" cy="603.7" r="1.15"/><circle cx="548.0" cy="609.3" r="1.15"/><circle cx="497.4" cy="604.7" r="1.15"/><circle cx="540.8" cy="626.8" r="1.15"/><circle cx="506.2" cy="601.8" r="1.15"/><circle cx="549.8" cy="622.3" r="1.15"/><circle cx="531.6" cy="592.5" r="1.15"/><circle cx="508.9" cy="599.1" r="1.15"/><circle cx="542.9" cy="589.3" r="1.15"/><circle cx="528.7" cy="583.2" r="1.15"/><circle cx="537.4" cy="608.6" r="1.15"/><circle cx="524.5" cy="614.9" r="1.15"/><circle cx="525.9" cy="619.2" r="1.15"/><circle cx="526.1" cy="590.8" r="1.15"/><circle cx="498.6" cy="613.3" r="1.15"/><circle cx="492.9" cy="620.6" r="1.15"/><circle cx="521.9" cy="586.0" r="1.15"/><circle cx="504.7" cy="605.6" r="1.15"/><circle cx="529.0" cy="609.5" r="1.15"/><circle cx="541.0" cy="597.6" r="1.15"/><circle cx="515.2" cy="606.0" r="1.15"/><circle cx="510.3" cy="612.0" r="1.15"/><circle cx="523.1" cy="611.6" r="1.15"/><circle cx="544.1" cy="594.1" r="1.15"/><circle cx="552.7" cy="609.6" r="1.15"/><circle cx="512.4" cy="614.8" r="1.15"/><circle cx="510.5" cy="582.8" r="1.15"/><circle cx="528.1" cy="604.7" r="1.15"/><circle cx="544.8" cy="609.9" r="1.15"/><circle cx="513.7" cy="581.4" r="1.15"/><circle cx="492.6" cy="607.4" r="1.15"/><circle cx="508.3" cy="618.4" r="1.15"/><circle cx="521.6" cy="590.2" r="1.15"/><circle cx="523.3" cy="603.3" r="1.15"/><circle cx="509.8" cy="622.0" r="1.15"/><circle cx="550.6" cy="606.4" r="1.15"/><circle cx="495.1" cy="612.4" r="1.15"/><circle cx="532.5" cy="598.9" r="1.15"/><circle cx="512.5" cy="587.3" r="1.15"/></g>
<g fill="#1d4f8f"><circle cx="485.9" cy="610.0" r="1.6"/><circle cx="487.2" cy="610.0" r="1.6"/><circle cx="489.0" cy="606.4" r="1.6"/><circle cx="486.1" cy="602.8" r="1.6"/><circle cx="491.0" cy="602.3" r="1.6"/><circle cx="491.3" cy="598.3" r="1.6"/><circle cx="496.4" cy="599.6" r="1.6"/><circle cx="496.7" cy="597.4" r="1.6"/><circle cx="498.1" cy="592.3" r="1.6"/><circle cx="499.2" cy="593.2" r="1.6"/><circle cx="502.8" cy="595.8" r="1.6"/><circle cx="502.8" cy="597.1" r="1.6"/><circle cx="508.2" cy="592.8" r="1.6"/><circle cx="509.3" cy="586.8" r="1.6"/><circle cx="514.2" cy="590.6" r="1.6"/></g>
<g fill="none" stroke="#a6a6a6" stroke-width="0.55"><circle cx="575.4" cy="608.6" r="1.15"/><circle cx="584.8" cy="602.8" r="1.15"/><circle cx="621.1" cy="601.6" r="1.15"/><circle cx="571.7" cy="611.1" r="1.15"/><circle cx="612.5" cy="609.4" r="1.15"/><circle cx="631.0" cy="626.1" r="1.15"/><circle cx="603.2" cy="622.8" r="1.15"/><circle cx="609.0" cy="616.3" r="1.15"/><circle cx="589.5" cy="611.1" r="1.15"/><circle cx="605.6" cy="619.3" r="1.15"/><circle cx="621.5" cy="583.5" r="1.15"/><circle cx="585.9" cy="617.1" r="1.15"/><circle cx="602.0" cy="604.0" r="1.15"/><circle cx="635.3" cy="615.7" r="1.15"/><circle cx="623.1" cy="613.9" r="1.15"/><circle cx="604.7" cy="594.0" r="1.15"/><circle cx="614.4" cy="613.8" r="1.15"/><circle cx="615.8" cy="586.6" r="1.15"/><circle cx="581.2" cy="609.3" r="1.15"/><circle cx="583.3" cy="622.5" r="1.15"/><circle cx="642.9" cy="609.9" r="1.15"/><circle cx="613.5" cy="596.9" r="1.15"/><circle cx="638.1" cy="618.7" r="1.15"/><circle cx="614.6" cy="627.3" r="1.15"/><circle cx="610.5" cy="627.0" r="1.15"/><circle cx="592.1" cy="622.6" r="1.15"/><circle cx="602.7" cy="590.7" r="1.15"/><circle cx="590.1" cy="626.1" r="1.15"/><circle cx="628.4" cy="619.9" r="1.15"/><circle cx="595.0" cy="598.8" r="1.15"/><circle cx="619.1" cy="624.3" r="1.15"/><circle cx="637.8" cy="624.6" r="1.15"/><circle cx="593.5" cy="618.0" r="1.15"/><circle cx="579.4" cy="619.7" r="1.15"/><circle cx="624.0" cy="623.8" r="1.15"/><circle cx="638.5" cy="601.3" r="1.15"/><circle cx="617.4" cy="601.1" r="1.15"/><circle cx="584.5" cy="597.8" r="1.15"/><circle cx="579.8" cy="603.5" r="1.15"/><circle cx="590.5" cy="607.0" r="1.15"/><circle cx="575.9" cy="596.7" r="1.15"/><circle cx="618.5" cy="597.4" r="1.15"/><circle cx="593.5" cy="609.4" r="1.15"/><circle cx="631.2" cy="617.8" r="1.15"/><circle cx="600.0" cy="618.5" r="1.15"/><circle cx="620.3" cy="593.5" r="1.15"/><circle cx="631.0" cy="591.2" r="1.15"/><circle cx="587.9" cy="596.7" r="1.15"/><circle cx="616.8" cy="582.6" r="1.15"/><circle cx="625.5" cy="586.2" r="1.15"/><circle cx="588.1" cy="601.8" r="1.15"/><circle cx="586.9" cy="624.0" r="1.15"/><circle cx="612.0" cy="602.0" r="1.15"/><circle cx="603.1" cy="617.2" r="1.15"/><circle cx="596.5" cy="602.2" r="1.15"/><circle cx="599.0" cy="607.5" r="1.15"/><circle cx="586.6" cy="593.0" r="1.15"/><circle cx="600.5" cy="598.0" r="1.15"/><circle cx="618.8" cy="589.2" r="1.15"/><circle cx="607.9" cy="586.9" r="1.15"/><circle cx="634.3" cy="623.7" r="1.15"/><circle cx="629.0" cy="613.7" r="1.15"/><circle cx="592.5" cy="603.7" r="1.15"/><circle cx="626.9" cy="625.9" r="1.15"/><circle cx="602.9" cy="627.2" r="1.15"/><circle cx="573.6" cy="605.5" r="1.15"/><circle cx="593.2" cy="614.1" r="1.15"/><circle cx="642.8" cy="615.9" r="1.15"/><circle cx="595.0" cy="593.2" r="1.15"/><circle cx="609.1" cy="613.1" r="1.15"/><circle cx="625.9" cy="599.2" r="1.15"/><circle cx="577.9" cy="612.5" r="1.15"/><circle cx="603.0" cy="608.5" r="1.15"/><circle cx="637.6" cy="596.1" r="1.15"/><circle cx="638.7" cy="613.9" r="1.15"/><circle cx="578.0" cy="616.5" r="1.15"/><circle cx="589.2" cy="614.4" r="1.15"/><circle cx="635.6" cy="605.6" r="1.15"/><circle cx="607.4" cy="607.1" r="1.15"/><circle cx="635.4" cy="593.4" r="1.15"/><circle cx="582.8" cy="593.3" r="1.15"/><circle cx="605.0" cy="612.8" r="1.15"/></g>
<g fill="#1d4f8f"><circle cx="606.5" cy="581.3" r="1.6"/><circle cx="606.0" cy="583.6" r="1.6"/><circle cx="605.0" cy="584.9" r="1.6"/><circle cx="601.1" cy="585.5" r="1.6"/><circle cx="598.6" cy="586.1" r="1.6"/><circle cx="597.3" cy="585.5" r="1.6"/><circle cx="596.0" cy="588.7" r="1.6"/><circle cx="599.2" cy="593.9" r="1.6"/><circle cx="590.2" cy="586.5" r="1.6"/><circle cx="587.0" cy="589.1" r="1.6"/><circle cx="590.6" cy="592.3" r="1.6"/><circle cx="581.6" cy="589.7" r="1.6"/><circle cx="579.9" cy="595.4" r="1.6"/><circle cx="580.8" cy="599.2" r="1.6"/><circle cx="573.9" cy="601.3" r="1.6"/><circle cx="576.1" cy="602.8" r="1.6"/><circle cx="584.4" cy="608.2" r="1.6"/><circle cx="586.3" cy="608.2" r="1.6"/><circle cx="582.1" cy="613.8" r="1.6"/><circle cx="582.9" cy="614.4" r="1.6"/><circle cx="599.2" cy="626.6" r="1.6"/><circle cx="608.6" cy="622.1" r="1.6"/><circle cx="612.7" cy="623.7" r="1.6"/><circle cx="613.3" cy="619.3" r="1.6"/><circle cx="617.2" cy="619.8" r="1.6"/><circle cx="619.8" cy="616.3" r="1.6"/><circle cx="623.0" cy="617.9" r="1.6"/><circle cx="625.6" cy="616.7" r="1.6"/><circle cx="620.2" cy="612.1" r="1.6"/><circle cx="621.4" cy="607.7" r="1.6"/><circle cx="624.9" cy="602.6" r="1.6"/><circle cx="626.8" cy="605.7" r="1.6"/><circle cx="630.1" cy="604.8" r="1.6"/><circle cx="632.0" cy="603.5" r="1.6"/><circle cx="632.6" cy="602.8" r="1.6"/><circle cx="627.5" cy="610.6" r="1.6"/><circle cx="629.4" cy="609.5" r="1.6"/><circle cx="631.3" cy="610.0" r="1.6"/><circle cx="635.8" cy="609.3" r="1.6"/><circle cx="637.8" cy="609.0" r="1.6"/><circle cx="623.0" cy="595.8" r="1.6"/><circle cx="624.3" cy="591.5" r="1.6"/><circle cx="627.9" cy="589.4" r="1.6"/><circle cx="628.1" cy="596.4" r="1.6"/><circle cx="630.1" cy="598.3" r="1.6"/><circle cx="631.3" cy="596.4" r="1.6"/><circle cx="632.6" cy="599.0" r="1.6"/><circle cx="633.9" cy="599.6" r="1.6"/></g>
<polyline points="81.74,425.58 92.88,496.00 104.02,513.39 115.16,515.51 126.30,517.20 137.44,518.05 148.58,518.22 159.72,518.31 170.86,518.39 182.00,518.48" fill="none" stroke="#4ea3da" stroke-width="0.9"/>
<rect x="70.60" y="417.10" width="111.40" height="101.80" fill="none" stroke="#8c8c8c" stroke-width="0.75"/>
<text x="67.1" y="522.6" font-size="10.5" text-anchor="end" fill="#404040" >0</text>
<line x1="70.60" y1="476.48" x2="72.10" y2="476.48" stroke="#8c8c8c" stroke-width="0.6" />
<line x1="182.00" y1="476.48" x2="180.50" y2="476.48" stroke="#8c8c8c" stroke-width="0.6" />
<text x="67.1" y="480.2" font-size="10.5" text-anchor="end" fill="#404040" >0.05</text>
<line x1="70.60" y1="434.07" x2="72.10" y2="434.07" stroke="#8c8c8c" stroke-width="0.6" />
<line x1="182.00" y1="434.07" x2="180.50" y2="434.07" stroke="#8c8c8c" stroke-width="0.6" />
<text x="67.1" y="437.8" font-size="10.5" text-anchor="end" fill="#404040" >0.1</text>
<text x="70.6" y="533.4" font-size="10.5" text-anchor="middle" fill="#404040" >0</text>
<line x1="126.30" y1="518.90" x2="126.30" y2="517.40" stroke="#8c8c8c" stroke-width="0.6" />
<line x1="126.30" y1="417.10" x2="126.30" y2="418.60" stroke="#8c8c8c" stroke-width="0.6" />
<text x="126.3" y="533.4" font-size="10.5" text-anchor="middle" fill="#404040" >5</text>
<text x="182.0" y="533.4" font-size="10.5" text-anchor="middle" fill="#404040" >10</text>
<polyline points="228.85,427.28 239.90,490.90 250.95,510.63 262.00,515.08 273.05,517.75 284.10,518.14 295.15,518.26 306.20,518.26 317.25,518.39 328.30,518.39" fill="none" stroke="#4ea3da" stroke-width="0.9"/>
<rect x="217.80" y="417.10" width="110.50" height="101.80" fill="none" stroke="#8c8c8c" stroke-width="0.75"/>
<text x="214.3" y="522.6" font-size="10.5" text-anchor="end" fill="#404040" >0</text>
<line x1="217.80" y1="493.45" x2="219.30" y2="493.45" stroke="#8c8c8c" stroke-width="0.6" />
<line x1="328.30" y1="493.45" x2="326.80" y2="493.45" stroke="#8c8c8c" stroke-width="0.6" />
<text x="214.3" y="497.1" font-size="10.5" text-anchor="end" fill="#404040" >0.02</text>
<line x1="217.80" y1="468.00" x2="219.30" y2="468.00" stroke="#8c8c8c" stroke-width="0.6" />
<line x1="328.30" y1="468.00" x2="326.80" y2="468.00" stroke="#8c8c8c" stroke-width="0.6" />
<text x="214.3" y="471.7" font-size="10.5" text-anchor="end" fill="#404040" >0.04</text>
<line x1="217.80" y1="442.55" x2="219.30" y2="442.55" stroke="#8c8c8c" stroke-width="0.6" />
<line x1="328.30" y1="442.55" x2="326.80" y2="442.55" stroke="#8c8c8c" stroke-width="0.6" />
<text x="214.3" y="446.2" font-size="10.5" text-anchor="end" fill="#404040" >0.06</text>
<text x="214.3" y="420.8" font-size="10.5" text-anchor="end" fill="#404040" >0.08</text>
<text x="217.8" y="533.4" font-size="10.5" text-anchor="middle" fill="#404040" >0</text>
<line x1="273.05" y1="518.90" x2="273.05" y2="517.40" stroke="#8c8c8c" stroke-width="0.6" />
<line x1="273.05" y1="417.10" x2="273.05" y2="418.60" stroke="#8c8c8c" stroke-width="0.6" />
<text x="273.1" y="533.4" font-size="10.5" text-anchor="middle" fill="#404040" >5</text>
<text x="328.3" y="533.4" font-size="10.5" text-anchor="middle" fill="#404040" >10</text>
<polyline points="375.31,424.37 386.42,497.81 397.53,513.81 408.64,512.36 419.75,515.99 430.86,517.15 441.97,517.45 453.08,517.01 464.19,517.74 475.30,517.74" fill="none" stroke="#4ea3da" stroke-width="0.9"/>
<rect x="364.20" y="417.10" width="111.10" height="101.80" fill="none" stroke="#8c8c8c" stroke-width="0.75"/>
<text x="360.7" y="522.6" font-size="10.5" text-anchor="end" fill="#404040" >0</text>
<line x1="364.20" y1="489.81" x2="365.70" y2="489.81" stroke="#8c8c8c" stroke-width="0.6" />
<line x1="475.30" y1="489.81" x2="473.80" y2="489.81" stroke="#8c8c8c" stroke-width="0.6" />
<text x="360.7" y="493.5" font-size="10.5" text-anchor="end" fill="#404040" >0.02</text>
<line x1="364.20" y1="460.73" x2="365.70" y2="460.73" stroke="#8c8c8c" stroke-width="0.6" />
<line x1="475.30" y1="460.73" x2="473.80" y2="460.73" stroke="#8c8c8c" stroke-width="0.6" />
<text x="360.7" y="464.4" font-size="10.5" text-anchor="end" fill="#404040" >0.04</text>
<line x1="364.20" y1="431.64" x2="365.70" y2="431.64" stroke="#8c8c8c" stroke-width="0.6" />
<line x1="475.30" y1="431.64" x2="473.80" y2="431.64" stroke="#8c8c8c" stroke-width="0.6" />
<text x="360.7" y="435.3" font-size="10.5" text-anchor="end" fill="#404040" >0.06</text>
<text x="364.2" y="533.4" font-size="10.5" text-anchor="middle" fill="#404040" >0</text>
<line x1="419.75" y1="518.90" x2="419.75" y2="517.40" stroke="#8c8c8c" stroke-width="0.6" />
<line x1="419.75" y1="417.10" x2="419.75" y2="418.60" stroke="#8c8c8c" stroke-width="0.6" />
<text x="419.8" y="533.4" font-size="10.5" text-anchor="middle" fill="#404040" >5</text>
<text x="475.3" y="533.4" font-size="10.5" text-anchor="middle" fill="#404040" >10</text>
<polyline points="521.78,424.93 532.96,496.97 544.14,514.20 555.32,514.98 566.50,517.02 577.68,517.18 588.86,517.33 600.04,517.65 611.22,517.96 622.40,518.12" fill="none" stroke="#4ea3da" stroke-width="0.9"/>
<rect x="510.60" y="417.10" width="111.80" height="101.80" fill="none" stroke="#8c8c8c" stroke-width="0.75"/>
<text x="507.1" y="522.6" font-size="10.5" text-anchor="end" fill="#404040" >0</text>
<line x1="510.60" y1="487.58" x2="512.10" y2="487.58" stroke="#8c8c8c" stroke-width="0.6" />
<line x1="622.40" y1="487.58" x2="620.90" y2="487.58" stroke="#8c8c8c" stroke-width="0.6" />
<text x="507.1" y="491.3" font-size="10.5" text-anchor="end" fill="#404040" >0.02</text>
<line x1="510.60" y1="456.25" x2="512.10" y2="456.25" stroke="#8c8c8c" stroke-width="0.6" />
<line x1="622.40" y1="456.25" x2="620.90" y2="456.25" stroke="#8c8c8c" stroke-width="0.6" />
<text x="507.1" y="460.0" font-size="10.5" text-anchor="end" fill="#404040" >0.04</text>
<line x1="510.60" y1="424.93" x2="512.10" y2="424.93" stroke="#8c8c8c" stroke-width="0.6" />
<line x1="622.40" y1="424.93" x2="620.90" y2="424.93" stroke="#8c8c8c" stroke-width="0.6" />
<text x="507.1" y="428.6" font-size="10.5" text-anchor="end" fill="#404040" >0.06</text>
<text x="510.6" y="533.4" font-size="10.5" text-anchor="middle" fill="#404040" >0</text>
<line x1="566.50" y1="518.90" x2="566.50" y2="517.40" stroke="#8c8c8c" stroke-width="0.6" />
<line x1="566.50" y1="417.10" x2="566.50" y2="418.60" stroke="#8c8c8c" stroke-width="0.6" />
<text x="566.5" y="533.4" font-size="10.5" text-anchor="middle" fill="#404040" >5</text>
<text x="622.4" y="533.4" font-size="10.5" text-anchor="middle" fill="#404040" >10</text>
<text transform="translate(39.2,471.4) rotate(-90)" font-size="9" text-anchor="middle" fill="#262626">alignment</text>
<text x="349.5" y="550.7" font-size="9" text-anchor="middle" fill="#262626" >distance bin</text>
<rect x="29.50" y="641.10" width="89.09" height="43.72" fill="#f5b07c"/>
<rect x="118.19" y="641.10" width="89.09" height="43.72" fill="#fdf0d8"/>
<rect x="206.87" y="641.10" width="89.09" height="43.72" fill="#fde7ba"/>
<rect x="295.56" y="641.10" width="89.09" height="43.72" fill="#f8c58a"/>
<rect x="384.24" y="641.10" width="89.09" height="43.72" fill="#fcd38f"/>
<rect x="472.93" y="641.10" width="89.09" height="43.72" fill="#feefd6"/>
<rect x="561.61" y="641.10" width="89.09" height="43.72" fill="#f8c488"/>
<rect x="29.50" y="684.42" width="89.09" height="43.72" fill="#fde8b9"/>
<rect x="118.19" y="684.42" width="89.09" height="43.72" fill="#da3858"/>
<rect x="206.87" y="684.42" width="89.09" height="43.72" fill="#fde9be"/>
<rect x="295.56" y="684.42" width="89.09" height="43.72" fill="#fdf4e0"/>
<rect x="384.24" y="684.42" width="89.09" height="43.72" fill="#ffffff"/>
<rect x="472.93" y="684.42" width="89.09" height="43.72" fill="#fdd98c"/>
<rect x="561.61" y="684.42" width="89.09" height="43.72" fill="#e35d62"/>
<rect x="29.50" y="727.75" width="89.09" height="43.72" fill="#fefcf6"/>
<rect x="118.19" y="727.75" width="89.09" height="43.72" fill="#fde4b0"/>
<rect x="206.87" y="727.75" width="89.09" height="43.72" fill="#fef9f4"/>
<rect x="295.56" y="727.75" width="89.09" height="43.72" fill="#fef9f4"/>
<rect x="384.24" y="727.75" width="89.09" height="43.72" fill="#fef1dd"/>
<rect x="472.93" y="727.75" width="89.09" height="43.72" fill="#fefaf1"/>
<rect x="561.61" y="727.75" width="89.09" height="43.72" fill="#fdf7e6"/>
<rect x="29.50" y="771.08" width="89.09" height="43.72" fill="#fefaf0"/>
<rect x="118.19" y="771.08" width="89.09" height="43.72" fill="#ffffff"/>
<rect x="206.87" y="771.08" width="89.09" height="43.72" fill="#fdf4df"/>
<rect x="295.56" y="771.08" width="89.09" height="43.72" fill="#fde2a4"/>
<rect x="384.24" y="771.08" width="89.09" height="43.72" fill="#f8c688"/>
<rect x="472.93" y="771.08" width="89.09" height="43.72" fill="#fefaef"/>
<rect x="561.61" y="771.08" width="89.09" height="43.72" fill="#fddd98"/>
<text x="163.5" y="714.3" font-size="16.5" text-anchor="middle" fill="#111">***</text>
<text x="607.0" y="714.3" font-size="16.5" text-anchor="middle" fill="#111">***</text>
<rect x="29.50" y="641.10" width="620.80" height="173.30" fill="none" stroke="#8c8c8c" stroke-width="0.8"/>
<line x1="73.84" y1="641.10" x2="73.84" y2="646.60" stroke="#555555" stroke-width="0.7" />
<line x1="73.84" y1="814.40" x2="73.84" y2="808.90" stroke="#555555" stroke-width="0.7" />
<text x="73.8" y="828.0" font-size="10.5" text-anchor="middle" fill="#333" >vis</text>
<line x1="162.53" y1="641.10" x2="162.53" y2="646.60" stroke="#555555" stroke-width="0.7" />
<line x1="162.53" y1="814.40" x2="162.53" y2="808.90" stroke="#555555" stroke-width="0.7" />
<text x="162.5" y="828.0" font-size="10.5" text-anchor="middle" fill="#333" >sm</text>
<line x1="251.21" y1="641.10" x2="251.21" y2="646.60" stroke="#555555" stroke-width="0.7" />
<line x1="251.21" y1="814.40" x2="251.21" y2="808.90" stroke="#555555" stroke-width="0.7" />
<text x="251.2" y="828.0" font-size="10.5" text-anchor="middle" fill="#333" >da</text>
<line x1="339.90" y1="641.10" x2="339.90" y2="646.60" stroke="#555555" stroke-width="0.7" />
<line x1="339.90" y1="814.40" x2="339.90" y2="808.90" stroke="#555555" stroke-width="0.7" />
<text x="339.9" y="828.0" font-size="10.5" text-anchor="middle" fill="#333" >va</text>
<line x1="428.59" y1="641.10" x2="428.59" y2="646.60" stroke="#555555" stroke-width="0.7" />
<line x1="428.59" y1="814.40" x2="428.59" y2="808.90" stroke="#555555" stroke-width="0.7" />
<text x="428.6" y="828.0" font-size="10.5" text-anchor="middle" fill="#333" >lim</text>
<line x1="517.27" y1="641.10" x2="517.27" y2="646.60" stroke="#555555" stroke-width="0.7" />
<line x1="517.27" y1="814.40" x2="517.27" y2="808.90" stroke="#555555" stroke-width="0.7" />
<text x="517.3" y="828.0" font-size="10.5" text-anchor="middle" fill="#333" >fpn</text>
<line x1="605.96" y1="641.10" x2="605.96" y2="646.60" stroke="#555555" stroke-width="0.7" />
<line x1="605.96" y1="814.40" x2="605.96" y2="808.90" stroke="#555555" stroke-width="0.7" />
<text x="606.0" y="828.0" font-size="10.5" text-anchor="middle" fill="#333" >dmn</text>
<line x1="29.50" y1="662.76" x2="35.50" y2="662.76" stroke="#555555" stroke-width="0.7" />
<line x1="650.30" y1="662.76" x2="644.30" y2="662.76" stroke="#555555" stroke-width="0.7" />
<text x="15.8" y="665.1" font-size="11" fill="#333">v</text>
<text x="21.6" y="669.4" font-size="7.6" fill="#333">1</text>
<line x1="29.50" y1="706.09" x2="35.50" y2="706.09" stroke="#555555" stroke-width="0.7" />
<line x1="650.30" y1="706.09" x2="644.30" y2="706.09" stroke="#555555" stroke-width="0.7" />
<text x="15.8" y="708.4" font-size="11" fill="#333">v</text>
<text x="21.6" y="712.7" font-size="7.6" fill="#333">2</text>
<line x1="29.50" y1="749.41" x2="35.50" y2="749.41" stroke="#555555" stroke-width="0.7" />
<line x1="650.30" y1="749.41" x2="644.30" y2="749.41" stroke="#555555" stroke-width="0.7" />
<text x="15.8" y="751.7" font-size="11" fill="#333">v</text>
<text x="21.6" y="756.0" font-size="7.6" fill="#333">3</text>
<line x1="29.50" y1="792.74" x2="35.50" y2="792.74" stroke="#555555" stroke-width="0.7" />
<line x1="650.30" y1="792.74" x2="644.30" y2="792.74" stroke="#555555" stroke-width="0.7" />
<text x="15.8" y="795.0" font-size="11" fill="#333">v</text>
<text x="21.6" y="799.3" font-size="7.6" fill="#333">4</text>
<defs><linearGradient id="hcb" x1="0" y1="1" x2="0" y2="0"><stop offset="0.0000" stop-color="#ffffff"/><stop offset="0.1226" stop-color="#fef3dc"/><stop offset="0.2942" stop-color="#fde0a0"/><stop offset="0.4658" stop-color="#fbc87a"/><stop offset="0.6375" stop-color="#f3a06e"/><stop offset="0.8091" stop-color="#e76c68"/><stop offset="0.9808" stop-color="#da3a5a"/><stop offset="1.0000" stop-color="#d8365a"/></linearGradient></defs>
<rect x="655.4" y="641.1" width="6.50" height="172.70" fill="url(#hcb)" stroke="#8c8c8c" stroke-width="0.7"/>
<line x1="661.90" y1="644.42" x2="660.30" y2="644.42" stroke="#6e6e6e" stroke-width="0.6" />
<text x="665.5" y="648.0" font-size="10" text-anchor="start" fill="#333" >0.3</text>
<line x1="661.90" y1="674.06" x2="660.30" y2="674.06" stroke="#6e6e6e" stroke-width="0.6" />
<text x="665.5" y="677.7" font-size="10" text-anchor="start" fill="#333" >0.25</text>
<line x1="661.90" y1="703.71" x2="660.30" y2="703.71" stroke="#6e6e6e" stroke-width="0.6" />
<text x="665.5" y="707.3" font-size="10" text-anchor="start" fill="#333" >0.2</text>
<line x1="661.90" y1="733.35" x2="660.30" y2="733.35" stroke="#6e6e6e" stroke-width="0.6" />
<text x="665.5" y="736.9" font-size="10" text-anchor="start" fill="#333" >0.15</text>
<line x1="661.90" y1="762.99" x2="660.30" y2="762.99" stroke="#6e6e6e" stroke-width="0.6" />
<text x="665.5" y="766.6" font-size="10" text-anchor="start" fill="#333" >0.1</text>
<line x1="661.90" y1="792.63" x2="660.30" y2="792.63" stroke="#6e6e6e" stroke-width="0.6" />
<text x="665.5" y="796.2" font-size="10" text-anchor="start" fill="#333" >0.05</text>
<text transform="translate(692.3,722.7) rotate(90)" font-size="8" text-anchor="middle" fill="#333">absolute correlation values</text>
<text x="568.6" y="848.8" font-size="9.5" fill="#222"><tspan font-size="8.5" dy="-1">***</tspan><tspan dy="1"> </tspan><tspan font-style="italic">p</tspan>&lt;10<tspan font-size="5.8" dy="-3.4">-4</tspan><tspan dy="3.4"> ; FDR-corrected</tspan></text>
</svg>
</body></html>
